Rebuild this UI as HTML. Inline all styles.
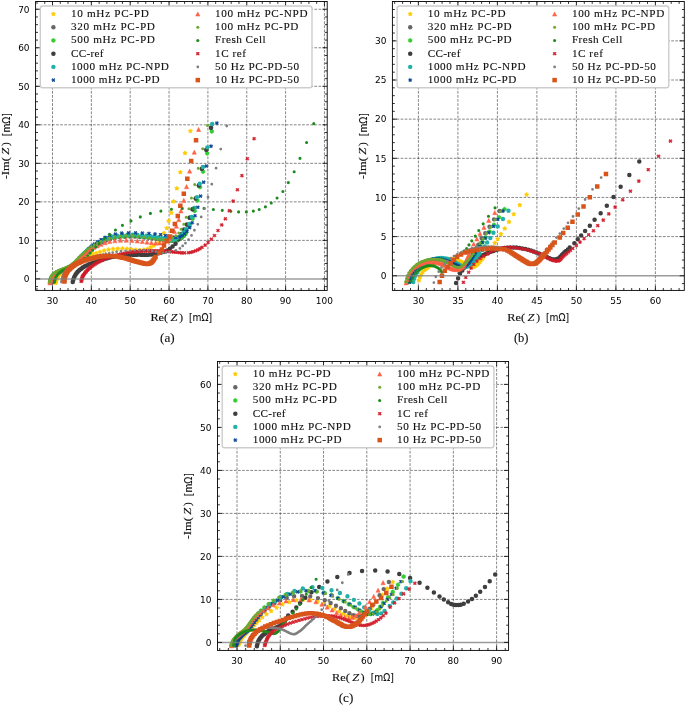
<!DOCTYPE html>
<html lang="en">
<head>
<meta charset="utf-8">
<title>Nyquist plots</title>
<style>
html,body{margin:0;padding:0;background:#fff;}
body{width:685px;height:705px;overflow:hidden;}
svg{display:block;}
text{white-space:pre;}
.ax{font-family:"Liberation Serif","DejaVu Serif",serif;font-size:11.4px;fill:#111;stroke:#111;stroke-width:0.15px;}
.sans{font-family:"DejaVu Sans","Liberation Sans",sans-serif;font-size:11.3px;stroke-width:0.12px;}
.cap{font-family:"Liberation Serif","DejaVu Serif",serif;font-size:11.6px;fill:#111;stroke:#111;stroke-width:0.12px;}
.lg{font-family:"Liberation Serif","DejaVu Serif",serif;font-size:9.5px;fill:#111;stroke:#111;stroke-width:0.1px;}
</style>
</head>
<body>
<svg width="685" height="705" viewBox="0 0 685 705">
<rect width="685" height="705" fill="#fff"/>
<g id="plot-a">
<path d="M52.5 290.4V1.5M91.35 290.4V1.5M130.2 290.4V1.5M169.05 290.4V1.5M207.9 290.4V1.5M246.75 290.4V1.5M285.6 290.4V1.5M324.45 290.4V1.5M35.6 240.38H327.2M35.6 201.86H327.2M35.6 163.34H327.2M35.6 124.82H327.2M35.6 86.3H327.2M35.6 47.78H327.2M35.6 9.26H327.2" fill="none" stroke="#000" stroke-opacity="0.6" stroke-width="0.8" stroke-dasharray="2.7 1.4"/>
<clipPath id="clip-a"><rect x="35.6" y="1.5" width="291.6" height="288.9"/></clipPath>
<g clip-path="url(#clip-a)">
<path d="M55.61 280.69L56.34 281.83L57.65 282.17L56.79 283.22L56.87 284.58L55.61 284.08L54.34 284.58L54.42 283.22L53.56 282.17L54.88 281.83zM55.79 280.01L56.52 281.15L57.83 281.5L56.98 282.55L57.05 283.9L55.79 283.41L54.53 283.9L54.6 282.55L53.74 281.5L55.06 281.15zM55.96 279.32L56.69 280.46L58 280.8L57.14 281.85L57.22 283.21L55.96 282.72L54.69 283.21L54.77 281.85L53.91 280.8L55.22 280.46zM56.12 278.61L56.85 279.75L58.16 280.1L57.3 281.15L57.38 282.5L56.12 282.01L54.85 282.5L54.93 281.15L54.07 280.1L55.39 279.75zM56.29 277.89L57.02 279.04L58.33 279.38L57.47 280.43L57.55 281.78L56.29 281.29L55.02 281.78L55.1 280.43L54.24 279.38L55.55 279.04zM56.48 277.17L57.21 278.31L58.52 278.65L57.66 279.7L57.74 281.06L56.48 280.56L55.21 281.06L55.29 279.7L54.43 278.65L55.74 278.31zM56.7 276.44L57.43 277.58L58.74 277.92L57.89 278.97L57.96 280.33L56.7 279.83L55.44 280.33L55.51 278.97L54.66 277.92L55.97 277.58zM56.97 275.71L57.71 276.85L59.02 277.19L58.16 278.24L58.24 279.6L56.97 279.11L55.71 279.6L55.79 278.24L54.93 277.19L56.24 276.85zM57.32 274.99L58.05 276.14L59.36 276.48L58.5 277.53L58.58 278.88L57.32 278.39L56.05 278.88L56.13 277.53L55.27 276.48L56.58 276.14zM57.72 274.29L58.45 275.43L59.76 275.77L58.9 276.82L58.98 278.18L57.72 277.68L56.45 278.18L56.53 276.82L55.67 275.77L56.98 275.43zM58.18 273.58L58.91 274.72L60.22 275.07L59.36 276.12L59.44 277.47L58.18 276.98L56.91 277.47L56.99 276.12L56.13 275.07L57.44 274.72zM58.69 272.87L59.43 274.01L60.74 274.36L59.88 275.41L59.96 276.76L58.69 276.27L57.43 276.76L57.51 275.41L56.65 274.36L57.96 274.01zM59.27 272.17L60 273.31L61.31 273.65L60.45 274.7L60.53 276.06L59.27 275.56L58 276.06L58.08 274.7L57.22 273.65L58.53 273.31zM59.89 271.46L60.62 272.6L61.94 272.95L61.08 274L61.15 275.35L59.89 274.86L58.63 275.35L58.7 274L57.85 272.95L59.16 272.6zM60.57 270.76L61.3 271.9L62.61 272.24L61.76 273.29L61.83 274.65L60.57 274.15L59.31 274.65L59.38 273.29L58.53 272.24L59.84 271.9zM61.33 270.07L62.06 271.21L63.37 271.55L62.52 272.6L62.59 273.96L61.33 273.46L60.07 273.96L60.14 272.6L59.29 271.55L60.6 271.21zM62.18 269.39L62.91 270.53L64.23 270.88L63.37 271.93L63.44 273.28L62.18 272.79L60.92 273.28L60.99 271.93L60.14 270.88L61.45 270.53zM63.11 268.71L63.84 269.85L65.16 270.2L64.3 271.25L64.38 272.6L63.11 272.11L61.85 272.6L61.93 271.25L61.07 270.2L62.38 269.85zM64.11 268.01L64.85 269.15L66.16 269.49L65.3 270.54L65.38 271.9L64.11 271.4L62.85 271.9L62.93 270.54L62.07 269.49L63.38 269.15zM65.19 267.28L65.92 268.42L67.23 268.77L66.37 269.82L66.45 271.17L65.19 270.68L63.92 271.17L64 269.82L63.14 268.77L64.46 268.42zM66.36 266.55L67.09 267.69L68.41 268.03L67.55 269.08L67.62 270.43L66.36 269.94L65.1 270.43L65.18 269.08L64.32 268.03L65.63 267.69zM67.63 265.78L68.36 266.92L69.67 267.27L68.81 268.32L68.89 269.67L67.63 269.18L66.36 269.67L66.44 268.32L65.58 267.27L66.9 266.92zM68.99 264.97L69.72 266.11L71.03 266.46L70.17 267.51L70.25 268.86L68.99 268.37L67.72 268.86L67.8 267.51L66.94 266.46L68.25 266.11zM70.43 264.09L71.16 265.23L72.47 265.58L71.61 266.63L71.69 267.98L70.43 267.49L69.16 267.98L69.24 266.63L68.38 265.58L69.69 265.23zM71.95 263.13L72.69 264.27L74 264.61L73.14 265.66L73.22 267.02L71.95 266.53L70.69 267.02L70.77 265.66L69.91 264.61L71.22 264.27zM73.58 262.1L74.32 263.24L75.63 263.58L74.77 264.63L74.85 265.99L73.58 265.49L72.32 265.99L72.4 264.63L71.54 263.58L72.85 263.24zM75.33 261L76.06 262.14L77.37 262.48L76.51 263.53L76.59 264.89L75.33 264.39L74.06 264.89L74.14 263.53L73.28 262.48L74.59 262.14zM77.2 259.84L77.93 260.98L79.25 261.32L78.39 262.37L78.46 263.73L77.2 263.23L75.94 263.73L76.01 262.37L75.16 261.32L76.47 260.98zM79.22 258.62L79.95 259.76L81.26 260.1L80.4 261.15L80.48 262.51L79.22 262.01L77.95 262.51L78.03 261.15L77.17 260.1L78.48 259.76zM81.38 257.32L82.12 258.46L83.43 258.8L82.57 259.85L82.65 261.21L81.38 260.72L80.12 261.21L80.2 259.85L79.34 258.8L80.65 258.46zM83.75 255.98L84.48 257.12L85.79 257.47L84.93 258.52L85.01 259.87L83.75 259.38L82.48 259.87L82.56 258.52L81.7 257.47L83.01 257.12zM86.35 254.68L87.09 255.82L88.4 256.16L87.54 257.21L87.62 258.57L86.35 258.08L85.09 258.57L85.17 257.21L84.31 256.16L85.62 255.82zM89.27 253.42L90 254.56L91.31 254.91L90.45 255.96L90.53 257.31L89.27 256.82L88 257.31L88.08 255.96L87.22 254.91L88.53 254.56zM92.53 252.23L93.27 253.37L94.58 253.72L93.72 254.77L93.8 256.12L92.53 255.63L91.27 256.12L91.35 254.77L90.49 253.72L91.8 253.37zM96.14 251.01L96.87 252.16L98.19 252.5L97.33 253.55L97.4 254.9L96.14 254.41L94.88 254.9L94.95 253.55L94.1 252.5L95.41 252.16zM100.02 249.74L100.75 250.88L102.07 251.22L101.21 252.27L101.29 253.63L100.02 253.13L98.76 253.63L98.84 252.27L97.98 251.22L99.29 250.88zM104.15 248.57L104.88 249.72L106.19 250.06L105.33 251.11L105.41 252.46L104.15 251.97L102.88 252.46L102.96 251.11L102.1 250.06L103.41 249.72zM108.51 247.54L109.25 248.68L110.56 249.02L109.7 250.07L109.78 251.42L108.51 250.93L107.25 251.42L107.33 250.07L106.47 249.02L107.78 248.68zM113.09 246.8L113.82 247.94L115.13 248.28L114.27 249.33L114.35 250.69L113.09 250.19L111.83 250.69L111.9 249.33L111.04 248.28L112.36 247.94zM117.78 246.47L118.51 247.61L119.82 247.95L118.96 249L119.04 250.36L117.78 249.87L116.51 250.36L116.59 249L115.73 247.95L117.04 247.61zM122.44 246.44L123.18 247.59L124.49 247.93L123.63 248.98L123.71 250.33L122.44 249.84L121.18 250.33L121.26 248.98L120.4 247.93L121.71 247.59zM127 246.73L127.74 247.87L129.05 248.21L128.19 249.26L128.27 250.62L127 250.13L125.74 250.62L125.82 249.26L124.96 248.21L126.27 247.87zM131.46 247.11L132.19 248.25L133.5 248.59L132.64 249.64L132.72 250.99L131.46 250.5L130.2 250.99L130.27 249.64L129.41 248.59L130.73 248.25zM135.77 247.65L136.51 248.79L137.82 249.13L136.96 250.18L137.04 251.54L135.77 251.04L134.51 251.54L134.59 250.18L133.73 249.13L135.04 248.79zM139.93 247.95L140.66 249.09L141.97 249.43L141.12 250.48L141.19 251.84L139.93 251.34L138.67 251.84L138.74 250.48L137.88 249.43L139.2 249.09zM143.92 247.7L144.65 248.84L145.96 249.19L145.1 250.23L145.18 251.59L143.92 251.1L142.65 251.59L142.73 250.23L141.87 249.19L143.19 248.84zM147.56 246.82L148.3 247.96L149.61 248.31L148.75 249.36L148.83 250.71L147.56 250.22L146.3 250.71L146.38 249.36L145.52 248.31L146.83 247.96zM150.78 245.2L151.51 246.34L152.82 246.69L151.96 247.74L152.04 249.09L150.78 248.6L149.51 249.09L149.59 247.74L148.73 246.69L150.04 246.34zM153.92 243.45L154.65 244.59L155.97 244.94L155.11 245.99L155.18 247.34L153.92 246.85L152.66 247.34L152.73 245.99L151.88 244.94L153.19 244.59zM157.03 241.33L157.76 242.47L159.08 242.81L158.22 243.86L158.3 245.22L157.03 244.73L155.77 245.22L155.85 243.86L154.99 242.81L156.3 242.47zM159.63 238.34L160.36 239.48L161.67 239.82L160.81 240.87L160.89 242.23L159.63 241.73L158.36 242.23L158.44 240.87L157.58 239.82L158.89 239.48zM164 231L164.73 232.14L166.04 232.48L165.19 233.53L165.26 234.89L164 234.39L162.74 234.89L162.81 233.53L161.95 232.48L163.27 232.14zM166.72 225.99L167.45 227.13L168.76 227.48L167.9 228.52L167.98 229.88L166.72 229.39L165.46 229.88L165.53 228.52L164.67 227.48L165.99 227.13zM168.66 218.82L169.39 219.97L170.71 220.31L169.85 221.36L169.93 222.71L168.66 222.22L167.4 222.71L167.48 221.36L166.62 220.31L167.93 219.97zM171.19 210.58L171.92 211.72L173.23 212.07L172.37 213.12L172.45 214.47L171.19 213.98L169.92 214.47L170 213.12L169.14 212.07L170.45 211.72zM173.6 199.22L174.33 200.36L175.64 200.7L174.78 201.75L174.86 203.11L173.6 202.62L172.33 203.11L172.41 201.75L171.55 200.7L172.86 200.36zM176.82 186.31L177.55 187.46L178.86 187.8L178.01 188.85L178.08 190.2L176.82 189.71L175.56 190.2L175.63 188.85L174.78 187.8L176.09 187.46zM180.32 170.14L181.05 171.28L182.36 171.62L181.5 172.67L181.58 174.02L180.32 173.53L179.05 174.02L179.13 172.67L178.27 171.62L179.58 171.28zM184.98 150.88L185.71 152.02L187.02 152.36L186.16 153.41L186.24 154.76L184.98 154.27L183.71 154.76L183.79 153.41L182.93 152.36L184.25 152.02zM190.42 128.92L191.15 130.06L192.46 130.4L191.6 131.45L191.68 132.81L190.42 132.32L189.15 132.81L189.23 131.45L188.37 130.4L189.68 130.06z" fill="#FFCB05" stroke="#FFCB05" stroke-width="0.8" stroke-linejoin="round"/>
<path d="M50.95 282.56h.01M51.09 281.87h.01M51.22 281.19h.01M51.35 280.5h.01M51.51 279.82h.01M51.71 279.15h.01M51.94 278.49h.01M52.21 277.82h.01M52.52 277.14h.01M52.9 276.48h.01M53.36 275.84h.01M53.9 275.23h.01M54.5 274.65h.01M55.16 274.09h.01M55.87 273.55h.01M56.64 273.04h.01M57.48 272.54h.01M58.37 272.05h.01M59.33 271.57h.01M60.36 271.13h.01M61.45 270.71h.01M62.59 270.27h.01M63.77 269.8h.01M65.02 269.32h.01M66.35 268.79h.01M67.74 268.17h.01M69.2 267.47h.01M70.73 266.63h.01M72.29 265.61h.01M73.88 264.38h.01M75.5 262.96h.01M77.18 261.36h.01M79.02 259.7h.01M80.97 257.95h.01M82.94 256.03h.01M84.96 253.99h.01M87.19 252.03h.01M89.61 250.04h.01M92.26 248.03h.01M95.2 246.09h.01M98.45 244.23h.01M102 242.42h.01M105.84 240.63h.01M110.09 239.08h.01M114.78 237.99h.01M119.74 237.24h.01M124.91 236.74h.01M130.01 236.53h.01M135.02 236.67h.01M139.8 237.05h.01M144.33 237.44h.01M148.62 237.83h.01M152.69 238.26h.01M156.54 238.78h.01M160.15 239.39h.01M163.54 239.93h.01M166.74 240.36h.01M169.7 240.68h.01M172.44 240.78h.01M174.99 240.7h.01M177.41 240.2h.01M179.59 239.16h.01M181.69 237.73h.01M183.69 235.92h.01M185.52 233.63h.01M188.09 225.36h.01M189.64 217.65h.01M192.55 209.18h.01M195.74 198.39h.01M198.81 185.45h.01M201.88 168.73h.01M206.35 149.86h.01M211.01 127.71h.01" fill="none" stroke="#6B6565" stroke-width="4.4" stroke-linecap="round"/>
<path d="M50.17 280.46L51.99 281.51L51.99 283.61L50.17 284.66L48.35 283.61L48.35 281.51zM50.31 279.77L52.13 280.82L52.13 282.92L50.31 283.97L48.49 282.92L48.49 280.82zM50.44 279.09L52.26 280.14L52.26 282.24L50.44 283.29L48.62 282.24L48.62 280.14zM50.58 278.4L52.39 279.45L52.39 281.55L50.58 282.6L48.76 281.55L48.76 279.45zM50.73 277.72L52.55 278.77L52.55 280.87L50.73 281.92L48.91 280.87L48.91 278.77zM50.93 277.05L52.75 278.1L52.75 280.2L50.93 281.25L49.11 280.2L49.11 278.1zM51.16 276.39L52.98 277.44L52.98 279.54L51.16 280.59L49.35 279.54L49.35 277.44zM51.43 275.72L53.25 276.77L53.25 278.87L51.43 279.92L49.62 278.87L49.62 276.77zM51.75 275.05L53.57 276.1L53.57 278.2L51.75 279.25L49.93 278.2L49.93 276.1zM52.13 274.38L53.95 275.43L53.95 277.53L52.13 278.58L50.31 277.53L50.31 275.43zM52.57 273.73L54.39 274.78L54.39 276.88L52.57 277.93L50.75 276.88L50.75 274.78zM53.08 273.1L54.9 274.15L54.9 276.25L53.08 277.3L51.26 276.25L51.26 274.15zM53.65 272.48L55.47 273.53L55.47 275.63L53.65 276.68L51.84 275.63L51.84 273.53zM54.28 271.9L56.1 272.95L56.1 275.05L54.28 276.1L52.47 275.05L52.47 272.95zM54.97 271.34L56.79 272.39L56.79 274.49L54.97 275.54L53.15 274.49L53.15 272.39zM55.73 270.82L57.55 271.87L57.55 273.97L55.73 275.02L53.91 273.97L53.91 271.87zM56.56 270.32L58.38 271.37L58.38 273.47L56.56 274.52L54.74 273.47L54.74 271.37zM57.45 269.83L59.27 270.88L59.27 272.98L57.45 274.03L55.63 272.98L55.63 270.88zM58.39 269.35L60.21 270.4L60.21 272.5L58.39 273.55L56.58 272.5L56.58 270.4zM59.41 268.91L61.23 269.96L61.23 272.06L59.41 273.11L57.59 272.06L57.59 269.96zM60.49 268.48L62.31 269.53L62.31 271.63L60.49 272.68L58.68 271.63L58.68 269.53zM61.63 268.05L63.45 269.1L63.45 271.2L61.63 272.25L59.81 271.2L59.81 269.1zM62.8 267.59L64.62 268.64L64.62 270.74L62.8 271.79L60.98 270.74L60.98 268.64zM64.04 267.11L65.86 268.16L65.86 270.26L64.04 271.31L62.22 270.26L62.22 268.16zM65.35 266.59L67.17 267.64L67.17 269.74L65.35 270.79L63.54 269.74L63.54 267.64zM66.74 265.99L68.55 267.04L68.55 269.14L66.74 270.19L64.92 269.14L64.92 267.04zM68.18 265.3L70 266.35L70 268.45L68.18 269.5L66.37 268.45L66.37 266.35zM69.7 264.49L71.52 265.54L71.52 267.64L69.7 268.69L67.88 267.64L67.88 265.54zM71.26 263.5L73.08 264.55L73.08 266.65L71.26 267.7L69.44 266.65L69.44 264.55zM72.84 262.3L74.66 263.35L74.66 265.45L72.84 266.5L71.02 265.45L71.02 263.35zM74.46 260.91L76.27 261.96L76.27 264.06L74.46 265.11L72.64 264.06L72.64 261.96zM76.11 259.33L77.93 260.38L77.93 262.48L76.11 263.53L74.3 262.48L74.3 260.38zM77.94 257.68L79.75 258.73L79.75 260.83L77.94 261.88L76.12 260.83L76.12 258.73zM79.87 255.96L81.69 257.01L81.69 259.11L79.87 260.16L78.06 259.11L78.06 257.01zM81.82 254.05L83.64 255.1L83.64 257.2L81.82 258.25L80.01 257.2L80.01 255.1zM83.76 251.96L85.58 253.01L85.58 255.11L83.76 256.16L81.94 255.11L81.94 253.01zM85.89 249.92L87.71 250.97L87.71 253.07L85.89 254.12L84.08 253.07L84.08 250.97zM88.2 247.86L90.02 248.91L90.02 251.01L88.2 252.06L86.38 251.01L86.38 248.91zM90.72 245.77L92.54 246.82L92.54 248.92L90.72 249.97L88.9 248.92L88.9 246.82zM93.54 243.75L95.36 244.8L95.36 246.9L93.54 247.95L91.72 246.9L91.72 244.8zM96.7 241.87L98.52 242.92L98.52 245.02L96.7 246.07L94.88 245.02L94.88 242.92zM100.17 240.07L101.99 241.12L101.99 243.22L100.17 244.27L98.35 243.22L98.35 241.12zM103.92 238.26L105.74 239.31L105.74 241.41L103.92 242.46L102.11 241.41L102.11 239.31zM108.05 236.61L109.87 237.66L109.87 239.76L108.05 240.81L106.23 239.76L106.23 237.66zM112.63 235.39L114.45 236.44L114.45 238.54L112.63 239.59L110.81 238.54L110.81 236.44zM117.52 234.57L119.34 235.62L119.34 237.72L117.52 238.77L115.7 237.72L115.7 235.62zM122.64 233.99L124.46 235.04L124.46 237.14L122.64 238.19L120.82 237.14L120.82 235.04zM127.76 233.69L129.58 234.74L129.58 236.84L127.76 237.89L125.94 236.84L125.94 234.74zM132.8 233.72L134.62 234.77L134.62 236.87L132.8 237.92L130.98 236.87L130.98 234.77zM137.66 234.06L139.48 235.11L139.48 237.21L137.66 238.26L135.84 237.21L135.84 235.11zM142.26 234.46L144.07 235.51L144.07 237.61L142.26 238.66L140.44 237.61L140.44 235.51zM146.62 234.84L148.44 235.89L148.44 237.99L146.62 239.04L144.8 237.99L144.8 235.89zM150.75 235.26L152.57 236.31L152.57 238.41L150.75 239.46L148.93 238.41L148.93 236.31zM154.67 235.74L156.48 236.79L156.48 238.89L154.67 239.94L152.85 238.89L152.85 236.79zM158.35 236.32L160.17 237.37L160.17 239.47L158.35 240.52L156.53 239.47L156.53 237.37zM161.8 236.9L163.62 237.95L163.62 240.05L161.8 241.1L159.98 240.05L159.98 237.95zM165.05 237.43L166.86 238.48L166.86 240.58L165.05 241.63L163.23 240.58L163.23 238.48zM168.06 237.96L169.88 239.01L169.88 241.11L168.06 242.16L166.24 241.11L166.24 239.01zM170.87 238.27L172.68 239.32L172.68 241.42L170.87 242.47L169.05 241.42L169.05 239.32zM173.47 238.31L175.29 239.36L175.29 241.46L173.47 242.51L171.66 241.46L171.66 239.36zM175.98 238.08L177.8 239.13L177.8 241.23L175.98 242.28L174.16 241.23L174.16 239.13zM178.29 237.36L180.11 238.41L180.11 240.51L178.29 241.56L176.47 240.51L176.47 238.41zM180.44 236.15L182.26 237.2L182.26 239.3L180.44 240.35L178.62 239.3L178.62 237.2zM182.49 234.58L184.31 235.63L184.31 237.73L182.49 238.78L180.68 237.73L180.68 235.63zM184.45 232.59L186.27 233.64L186.27 235.74L184.45 236.79L182.64 235.74L182.64 233.64zM186.21 230.09L188.03 231.14L188.03 233.24L186.21 234.29L184.4 233.24L184.4 231.14zM189.64 224.03L191.46 225.08L191.46 227.18L189.64 228.23L187.82 227.18L187.82 225.08zM192.55 216.71L194.37 217.76L194.37 219.86L192.55 220.91L190.74 219.86L190.74 217.76zM194.69 208.81L196.51 209.86L196.51 211.96L194.69 213.01L192.87 211.96L192.87 209.86zM197.41 198.41L199.23 199.46L199.23 201.56L197.41 202.61L195.59 201.56L195.59 199.46zM200.01 184.93L201.83 185.98L201.83 188.08L200.01 189.13L198.19 188.08L198.19 185.98zM203.04 169.52L204.86 170.57L204.86 172.67L203.04 173.72L201.23 172.67L201.23 170.57zM207.12 151.22L208.94 152.27L208.94 154.37L207.12 155.42L205.3 154.37L205.3 152.27zM211.78 129.27L213.6 130.32L213.6 132.42L211.78 133.47L209.97 132.42L209.97 130.32z" fill="#32CD32" stroke="#32CD32" stroke-width="0.5" stroke-linejoin="round"/>
<path d="M72.7 281.98h.01M72.88 281.31h.01M73.05 280.61h.01M73.23 279.9h.01M73.43 279.17h.01M73.68 278.44h.01M73.98 277.72h.01M74.32 276.98h.01M74.68 276.24h.01M75.08 275.48h.01M75.52 274.71h.01M75.99 273.94h.01M76.51 273.17h.01M77.1 272.4h.01M77.74 271.66h.01M78.46 270.94h.01M79.23 270.24h.01M80.05 269.56h.01M80.93 268.89h.01M81.85 268.24h.01M82.81 267.59h.01M83.81 266.96h.01M84.88 266.35h.01M86.01 265.76h.01M87.2 265.19h.01M88.46 264.62h.01M89.77 264.06h.01M91.13 263.49h.01M92.57 262.93h.01M94.06 262.39h.01M95.61 261.86h.01M97.23 261.32h.01M98.9 260.77h.01M100.62 260.21h.01M102.4 259.66h.01M104.22 259.12h.01M106.09 258.6h.01M108.01 258.08h.01M109.95 257.58h.01M111.9 257.12h.01M113.85 256.71h.01M115.82 256.35h.01M117.78 256.03h.01M119.7 255.75h.01M121.6 255.51h.01M123.47 255.29h.01M125.31 255.11h.01M127.12 254.96h.01M128.9 254.85h.01M130.65 254.77h.01M132.38 254.72h.01M134.07 254.69h.01M135.74 254.67h.01M137.38 254.64h.01M138.99 254.62h.01M140.58 254.64h.01M142.16 254.68h.01M143.72 254.71h.01M145.27 254.74h.01M146.81 254.75h.01M148.33 254.71h.01M149.84 254.61h.01M151.34 254.47h.01M152.84 254.28h.01M154.36 254.06h.01M155.88 253.8h.01M157.42 253.5h.01M158.97 253.18h.01M160.51 252.79h.01M162.13 252.29h.01M163.86 251.72h.01M167.11 250.59h.01M169.83 248.85h.01M172.55 246.54h.01M175.54 243.85h.01M178.37 239.22h.01M181.09 234.22h.01M184.05 229.59h.01M186.92 224.59h.01M189.64 217.65h.01M192.55 209.18h.01M195.74 198.39h.01M198.81 185.45h.01M201.88 168.73h.01M206.35 149.86h.01M211.01 127.71h.01" fill="none" stroke="#3E3E3E" stroke-width="4.5" stroke-linecap="round"/>
<path d="M50.56 282.56h.01M50.7 281.87h.01M50.83 281.19h.01M50.96 280.5h.01M51.12 279.82h.01M51.32 279.15h.01M51.55 278.49h.01M51.82 277.82h.01M52.14 277.15h.01M52.52 276.48h.01M52.96 275.83h.01M53.47 275.2h.01M54.04 274.58h.01M54.67 274h.01M55.36 273.44h.01M56.12 272.92h.01M56.95 272.42h.01M57.84 271.93h.01M58.78 271.45h.01M59.8 271.01h.01M60.88 270.58h.01M62.02 270.15h.01M63.19 269.69h.01M64.43 269.21h.01M65.74 268.69h.01M67.12 268.09h.01M68.57 267.4h.01M70.09 266.59h.01M71.65 265.6h.01M73.23 264.41h.01M74.82 262.99h.01M76.42 261.35h.01M78.16 259.63h.01M80.01 257.81h.01M81.88 255.82h.01M83.77 253.69h.01M85.89 251.63h.01M88.19 249.57h.01M90.72 247.49h.01M93.54 245.47h.01M96.71 243.61h.01M100.18 241.79h.01M103.87 239.87h.01M107.91 238.03h.01M112.42 236.6h.01M117.26 235.58h.01M122.37 234.92h.01M127.5 234.64h.01M132.54 234.65h.01M137.41 234.98h.01M142.02 235.39h.01M146.4 235.74h.01M150.54 236.15h.01M154.46 236.68h.01M158.13 237.4h.01M161.57 238.14h.01M164.82 238.74h.01M167.85 239.25h.01M170.67 239.59h.01M173.28 239.46h.01M176.04 238.84h.01M178.37 237.3h.01M181.09 235.37h.01M183.42 232.68h.01M186.14 229.21h.01M189.25 223.97h.01M191.78 216.88h.01M194.3 208.02h.01M196.87 197.24h.01M199.74 183.76h.01M202.85 167h.01M207.32 147.35h.01M212.17 124.05h.01" fill="none" stroke="#20B2AA" stroke-width="4.4" stroke-linecap="round"/>
<path d="M51.31 281.15L52.11 281.95L52.91 281.15L53.71 281.95L52.91 282.75L53.71 283.55L52.91 284.35L52.11 283.55L51.31 284.35L50.51 283.55L51.31 282.75L50.51 281.95zM51.45 280.47L52.25 281.27L53.05 280.47L53.85 281.27L53.05 282.07L53.85 282.87L53.05 283.67L52.25 282.87L51.45 283.67L50.65 282.87L51.45 282.07L50.65 281.27zM51.58 279.78L52.38 280.58L53.18 279.78L53.98 280.58L53.18 281.38L53.98 282.18L53.18 282.98L52.38 282.18L51.58 282.98L50.78 282.18L51.58 281.38L50.78 280.58zM51.72 279.09L52.52 279.89L53.32 279.09L54.12 279.89L53.32 280.69L54.12 281.49L53.32 282.29L52.52 281.49L51.72 282.29L50.92 281.49L51.72 280.69L50.92 279.89zM51.87 278.41L52.67 279.21L53.47 278.41L54.27 279.21L53.47 280.01L54.27 280.81L53.47 281.61L52.67 280.81L51.87 281.61L51.07 280.81L51.87 280.01L51.07 279.21zM52.07 277.74L52.87 278.54L53.67 277.74L54.47 278.54L53.67 279.34L54.47 280.14L53.67 280.94L52.87 280.14L52.07 280.94L51.27 280.14L52.07 279.34L51.27 278.54zM52.31 277.08L53.11 277.88L53.91 277.08L54.71 277.88L53.91 278.68L54.71 279.48L53.91 280.28L53.11 279.48L52.31 280.28L51.51 279.48L52.31 278.68L51.51 277.88zM52.58 276.41L53.38 277.21L54.18 276.41L54.98 277.21L54.18 278.01L54.98 278.81L54.18 279.61L53.38 278.81L52.58 279.61L51.78 278.81L52.58 278.01L51.78 277.21zM52.89 275.74L53.69 276.54L54.49 275.74L55.29 276.54L54.49 277.34L55.29 278.14L54.49 278.94L53.69 278.14L52.89 278.94L52.09 278.14L52.89 277.34L52.09 276.54zM53.27 275.07L54.07 275.87L54.87 275.07L55.67 275.87L54.87 276.67L55.67 277.47L54.87 278.27L54.07 277.47L53.27 278.27L52.47 277.47L53.27 276.67L52.47 275.87zM53.71 274.42L54.51 275.22L55.31 274.42L56.11 275.22L55.31 276.02L56.11 276.82L55.31 277.62L54.51 276.82L53.71 277.62L52.91 276.82L53.71 276.02L52.91 275.22zM54.23 273.79L55.03 274.59L55.83 273.79L56.63 274.59L55.83 275.39L56.63 276.19L55.83 276.99L55.03 276.19L54.23 276.99L53.43 276.19L54.23 275.39L53.43 274.59zM54.8 273.18L55.6 273.98L56.4 273.18L57.2 273.98L56.4 274.78L57.2 275.58L56.4 276.38L55.6 275.58L54.8 276.38L54 275.58L54.8 274.78L54 273.98zM55.43 272.59L56.23 273.39L57.03 272.59L57.83 273.39L57.03 274.19L57.83 274.99L57.03 275.79L56.23 274.99L55.43 275.79L54.63 274.99L55.43 274.19L54.63 273.39zM56.12 272.03L56.92 272.83L57.72 272.03L58.52 272.83L57.72 273.63L58.52 274.43L57.72 275.23L56.92 274.43L56.12 275.23L55.32 274.43L56.12 273.63L55.32 272.83zM56.87 271.51L57.67 272.31L58.47 271.51L59.27 272.31L58.47 273.11L59.27 273.91L58.47 274.71L57.67 273.91L56.87 274.71L56.07 273.91L56.87 273.11L56.07 272.31zM57.7 271.01L58.5 271.81L59.3 271.01L60.1 271.81L59.3 272.61L60.1 273.41L59.3 274.21L58.5 273.41L57.7 274.21L56.9 273.41L57.7 272.61L56.9 271.81zM58.59 270.53L59.39 271.33L60.19 270.53L60.99 271.33L60.19 272.13L60.99 272.93L60.19 273.73L59.39 272.93L58.59 273.73L57.79 272.93L58.59 272.13L57.79 271.33zM59.54 270.04L60.34 270.84L61.14 270.04L61.94 270.84L61.14 271.64L61.94 272.44L61.14 273.24L60.34 272.44L59.54 273.24L58.74 272.44L59.54 271.64L58.74 270.84zM60.55 269.59L61.35 270.39L62.15 269.59L62.95 270.39L62.15 271.19L62.95 271.99L62.15 272.79L61.35 271.99L60.55 272.79L59.75 271.99L60.55 271.19L59.75 270.39zM61.63 269.15L62.43 269.95L63.23 269.15L64.03 269.95L63.23 270.75L64.03 271.55L63.23 272.35L62.43 271.55L61.63 272.35L60.83 271.55L61.63 270.75L60.83 269.95zM62.76 268.69L63.56 269.49L64.36 268.69L65.16 269.49L64.36 270.29L65.16 271.09L64.36 271.89L63.56 271.09L62.76 271.89L61.96 271.09L62.76 270.29L61.96 269.49zM63.93 268.19L64.73 268.99L65.53 268.19L66.33 268.99L65.53 269.79L66.33 270.59L65.53 271.39L64.73 270.59L63.93 271.39L63.13 270.59L63.93 269.79L63.13 268.99zM65.16 267.66L65.96 268.46L66.76 267.66L67.56 268.46L66.76 269.26L67.56 270.06L66.76 270.86L65.96 270.06L65.16 270.86L64.36 270.06L65.16 269.26L64.36 268.46zM66.47 267.07L67.27 267.87L68.07 267.07L68.87 267.87L68.07 268.67L68.87 269.47L68.07 270.27L67.27 269.47L66.47 270.27L65.67 269.47L66.47 268.67L65.67 267.87zM67.86 266.4L68.66 267.2L69.46 266.4L70.26 267.2L69.46 268L70.26 268.8L69.46 269.6L68.66 268.8L67.86 269.6L67.06 268.8L67.86 268L67.06 267.2zM69.32 265.65L70.12 266.45L70.92 265.65L71.72 266.45L70.92 267.25L71.72 268.05L70.92 268.85L70.12 268.05L69.32 268.85L68.52 268.05L69.32 267.25L68.52 266.45zM70.84 264.77L71.64 265.57L72.44 264.77L73.24 265.57L72.44 266.37L73.24 267.17L72.44 267.97L71.64 267.17L70.84 267.97L70.04 267.17L70.84 266.37L70.04 265.57zM72.37 263.68L73.17 264.48L73.97 263.68L74.77 264.48L73.97 265.28L74.77 266.08L73.97 266.88L73.17 266.08L72.37 266.88L71.57 266.08L72.37 265.28L71.57 264.48zM73.91 262.38L74.71 263.18L75.51 262.38L76.31 263.18L75.51 263.98L76.31 264.78L75.51 265.58L74.71 264.78L73.91 265.58L73.11 264.78L73.91 263.98L73.11 263.18zM75.45 260.85L76.25 261.65L77.05 260.85L77.85 261.65L77.05 262.45L77.85 263.25L77.05 264.05L76.25 263.25L75.45 264.05L74.65 263.25L75.45 262.45L74.65 261.65zM77.02 259.13L77.82 259.93L78.62 259.13L79.42 259.93L78.62 260.73L79.42 261.53L78.62 262.33L77.82 261.53L77.02 262.33L76.22 261.53L77.02 260.73L76.22 259.93zM78.72 257.29L79.52 258.09L80.32 257.29L81.12 258.09L80.32 258.89L81.12 259.69L80.32 260.49L79.52 259.69L78.72 260.49L77.92 259.69L78.72 258.89L77.92 258.09zM80.5 255.35L81.3 256.15L82.1 255.35L82.9 256.15L82.1 256.95L82.9 257.75L82.1 258.55L81.3 257.75L80.5 258.55L79.7 257.75L80.5 256.95L79.7 256.15zM82.27 253.21L83.07 254.01L83.87 253.21L84.67 254.01L83.87 254.81L84.67 255.61L83.87 256.41L83.07 255.61L82.27 256.41L81.47 255.61L82.27 254.81L81.47 254.01zM84.1 251L84.9 251.8L85.7 251L86.5 251.8L85.7 252.6L86.5 253.4L85.7 254.2L84.9 253.4L84.1 254.2L83.3 253.4L84.1 252.6L83.3 251.8zM86.19 248.89L86.99 249.69L87.79 248.89L88.59 249.69L87.79 250.49L88.59 251.29L87.79 252.09L86.99 251.29L86.19 252.09L85.39 251.29L86.19 250.49L85.39 249.69zM88.48 246.77L89.28 247.57L90.08 246.77L90.88 247.57L90.08 248.37L90.88 249.17L90.08 249.97L89.28 249.17L88.48 249.97L87.68 249.17L88.48 248.37L87.68 247.57zM90.98 244.62L91.78 245.42L92.58 244.62L93.38 245.42L92.58 246.22L93.38 247.02L92.58 247.82L91.78 247.02L90.98 247.82L90.18 247.02L90.98 246.22L90.18 245.42zM93.71 242.46L94.51 243.26L95.31 242.46L96.11 243.26L95.31 244.06L96.11 244.86L95.31 245.66L94.51 244.86L93.71 245.66L92.91 244.86L93.71 244.06L92.91 243.26zM96.76 240.25L97.56 241.05L98.36 240.25L99.16 241.05L98.36 241.85L99.16 242.65L98.36 243.45L97.56 242.65L96.76 243.45L95.96 242.65L96.76 241.85L95.96 241.05zM100.27 238.01L101.07 238.81L101.87 238.01L102.67 238.81L101.87 239.61L102.67 240.41L101.87 241.21L101.07 240.41L100.27 241.21L99.47 240.41L100.27 239.61L99.47 238.81zM104.29 235.78L105.09 236.58L105.89 235.78L106.69 236.58L105.89 237.38L106.69 238.18L105.89 238.98L105.09 238.18L104.29 238.98L103.49 238.18L104.29 237.38L103.49 236.58zM109.02 233.82L109.82 234.62L110.62 233.82L111.42 234.62L110.62 235.42L111.42 236.22L110.62 237.02L109.82 236.22L109.02 237.02L108.22 236.22L109.02 235.42L108.22 234.62zM114.56 232.38L115.36 233.18L116.16 232.38L116.96 233.18L116.16 233.98L116.96 234.78L116.16 235.58L115.36 234.78L114.56 235.58L113.76 234.78L114.56 233.98L113.76 233.18zM120.91 231.52L121.71 232.32L122.51 231.52L123.31 232.32L122.51 233.12L123.31 233.92L122.51 234.72L121.71 233.92L120.91 234.72L120.11 233.92L120.91 233.12L120.11 232.32zM127.76 231.29L128.56 232.09L129.36 231.29L130.16 232.09L129.36 232.89L130.16 233.69L129.36 234.49L128.56 233.69L127.76 234.49L126.96 233.69L127.76 232.89L126.96 232.09zM134.74 231.27L135.54 232.07L136.34 231.27L137.14 232.07L136.34 232.87L137.14 233.67L136.34 234.47L135.54 233.67L134.74 234.47L133.94 233.67L134.74 232.87L133.94 232.07zM141.55 231.48L142.35 232.28L143.15 231.48L143.95 232.28L143.15 233.08L143.95 233.88L143.15 234.68L142.35 233.88L141.55 234.68L140.75 233.88L141.55 233.08L140.75 232.28zM148.1 231.85L148.9 232.65L149.7 231.85L150.5 232.65L149.7 233.45L150.5 234.25L149.7 235.05L148.9 234.25L148.1 235.05L147.3 234.25L148.1 233.45L147.3 232.65zM154.2 232.38L155 233.18L155.8 232.38L156.6 233.18L155.8 233.98L156.6 234.78L155.8 235.58L155 234.78L154.2 235.58L153.4 234.78L154.2 233.98L153.4 233.18zM159.77 233.02L160.57 233.82L161.37 233.02L162.17 233.82L161.37 234.62L162.17 235.42L161.37 236.22L160.57 235.42L159.77 236.22L158.97 235.42L159.77 234.62L158.97 233.82zM164.57 233.95L165.37 234.75L166.17 233.95L166.97 234.75L166.17 235.55L166.97 236.35L166.17 237.15L165.37 236.35L164.57 237.15L163.77 236.35L164.57 235.55L163.77 234.75zM168.61 234.99L169.41 235.79L170.21 234.99L171.01 235.79L170.21 236.59L171.01 237.39L170.21 238.19L169.41 237.39L168.61 238.19L167.81 237.39L168.61 236.59L167.81 235.79zM172.03 235.56L172.83 236.36L173.63 235.56L174.43 236.36L173.63 237.16L174.43 237.96L173.63 238.76L172.83 237.96L172.03 238.76L171.23 237.96L172.03 237.16L171.23 236.36zM175.03 235.8L175.83 236.6L176.63 235.8L177.43 236.6L176.63 237.4L177.43 238.2L176.63 239L175.83 238.2L175.03 239L174.23 238.2L175.03 237.4L174.23 236.6zM179.13 235.31L179.93 236.11L180.73 235.31L181.53 236.11L180.73 236.91L181.53 237.71L180.73 238.51L179.93 237.71L179.13 238.51L178.33 237.71L179.13 236.91L178.33 236.11zM181.46 234.16L182.26 234.96L183.06 234.16L183.86 234.96L183.06 235.76L183.86 236.56L183.06 237.36L182.26 236.56L181.46 237.36L180.66 236.56L181.46 235.76L180.66 234.96zM183.79 232.23L184.59 233.03L185.39 232.23L186.19 233.03L185.39 233.83L186.19 234.63L185.39 235.43L184.59 234.63L183.79 235.43L182.99 234.63L183.79 233.83L182.99 233.03zM186.12 229.73L186.92 230.53L187.72 229.73L188.52 230.53L187.72 231.33L188.52 232.13L187.72 232.93L186.92 232.13L186.12 232.93L185.32 232.13L186.12 231.33L185.32 230.53zM188.69 226.07L189.49 226.87L190.29 226.07L191.09 226.87L190.29 227.67L191.09 228.47L190.29 229.27L189.49 228.47L188.69 229.27L187.89 228.47L188.69 227.67L187.89 226.87zM191.4 221.21L192.2 222.01L193 221.21L193.8 222.01L193 222.81L193.8 223.61L193 224.41L192.2 223.61L191.4 224.41L190.6 223.61L191.4 222.81L190.6 222.01zM194.28 214.13L195.08 214.93L195.88 214.13L196.68 214.93L195.88 215.73L196.68 216.53L195.88 217.33L195.08 216.53L194.28 217.33L193.48 216.53L194.28 215.73L193.48 214.93zM197 205.65L197.8 206.45L198.6 205.65L199.4 206.45L198.6 207.25L199.4 208.05L198.6 208.85L197.8 208.05L197 208.85L196.2 208.05L197 207.25L196.2 206.45zM199.72 194.48L200.52 195.28L201.32 194.48L202.12 195.28L201.32 196.08L202.12 196.88L201.32 197.68L200.52 196.88L199.72 197.68L198.92 196.88L199.72 196.08L198.92 195.28zM202.83 180.61L203.63 181.41L204.43 180.61L205.23 181.41L204.43 182.21L205.23 183.01L204.43 183.81L203.63 183.01L202.83 183.81L202.03 183.01L202.83 182.21L202.03 181.41zM205.55 164.44L206.35 165.24L207.15 164.44L207.95 165.24L207.15 166.04L207.95 166.84L207.15 167.64L206.35 166.84L205.55 167.64L204.75 166.84L205.55 166.04L204.75 165.24zM210.21 144.6L211.01 145.4L211.81 144.6L212.61 145.4L211.81 146.2L212.61 147L211.81 147.8L211.01 147L210.21 147.8L209.41 147L210.21 146.2L209.41 145.4zM216.04 121.49L216.84 122.29L217.64 121.49L218.44 122.29L217.64 123.09L218.44 123.89L217.64 124.69L216.84 123.89L216.04 124.69L215.24 123.89L216.04 123.09L215.24 122.29z" fill="#0B4596" stroke="#0B4596" stroke-width="0.6" stroke-linejoin="round"/>
<path d="M49.97 280.65L52.07 284.85L47.87 284.85zM50.12 279.97L52.22 284.17L48.02 284.17zM50.25 279.28L52.35 283.48L48.15 283.48zM50.38 278.59L52.48 282.79L48.28 282.79zM50.54 277.91L52.64 282.11L48.44 282.11zM50.73 277.24L52.83 281.44L48.63 281.44zM50.97 276.58L53.07 280.78L48.87 280.78zM51.24 275.91L53.34 280.11L49.14 280.11zM51.56 275.24L53.66 279.44L49.46 279.44zM51.93 274.57L54.03 278.77L49.83 278.77zM52.38 273.92L54.48 278.12L50.28 278.12zM52.89 273.29L54.99 277.49L50.79 277.49zM53.46 272.68L55.56 276.88L51.36 276.88zM54.09 272.09L56.19 276.29L51.99 276.29zM54.78 271.53L56.88 275.73L52.68 275.73zM55.54 271.01L57.64 275.21L53.44 275.21zM56.36 270.51L58.46 274.71L54.26 274.71zM57.25 270.02L59.35 274.22L55.15 274.22zM58.2 269.55L60.3 273.75L56.1 273.75zM59.22 269.1L61.32 273.3L57.12 273.3zM60.3 268.67L62.4 272.87L58.2 272.87zM61.43 268.25L63.53 272.45L59.33 272.45zM62.61 267.78L64.71 271.98L60.51 271.98zM63.84 267.3L65.94 271.5L61.74 271.5zM65.16 266.77L67.26 270.97L63.06 270.97zM66.54 266.18L68.64 270.38L64.44 270.38zM68 265.52L70.1 269.72L65.9 269.72zM69.54 264.76L71.64 268.96L67.44 268.96zM71.11 263.81L73.21 268.01L69.01 268.01zM72.68 262.63L74.78 266.83L70.58 266.83zM74.29 261.25L76.39 265.45L72.19 265.45zM75.92 259.67L78.02 263.87L73.82 263.87zM77.71 258.06L79.81 262.26L75.61 262.26zM79.66 256.43L81.76 260.63L77.56 260.63zM81.71 254.73L83.81 258.93L79.61 258.93zM83.8 252.89L85.9 257.09L81.7 257.09zM85.99 250.99L88.09 255.19L83.89 255.19zM88.37 249.1L90.47 253.3L86.27 253.3zM90.89 247.1L92.99 251.3L88.79 251.3zM93.81 245.29L95.91 249.49L91.71 249.49zM97.2 243.73L99.3 247.93L95.1 247.93zM100.94 242.17L103.04 246.37L98.84 246.37zM105.05 240.59L107.15 244.79L102.95 244.79zM109.68 239.26L111.78 243.46L107.58 243.46zM114.9 238.64L117 242.84L112.8 242.84zM120.47 238.07L122.57 242.27L118.37 242.27zM126.26 238.03L128.36 242.23L124.16 242.23zM131.87 238.24L133.97 242.44L129.77 242.44zM137.27 238.78L139.37 242.98L135.17 242.98zM142.28 239.38L144.38 243.58L140.18 243.58zM146.98 239.94L149.08 244.14L144.88 244.14zM151.4 240.44L153.5 244.64L149.3 244.64zM155.61 240.82L157.71 245.02L153.51 245.02zM159.65 240.81L161.75 245.01L157.55 245.01zM163.33 240.13L165.43 244.33L161.23 244.33zM166.64 238.92L168.74 243.12L164.54 243.12zM169.38 236.9L171.48 241.1L167.28 241.1zM171.75 234.17L173.85 238.37L169.65 238.37zM174.49 229.42L176.59 233.62L172.39 233.62zM176.43 224.03L178.53 228.23L174.33 228.23zM178.76 217.48L180.86 221.68L176.66 221.68zM180.98 208.81L183.08 213.01L178.88 213.01zM183.81 198.22L185.91 202.42L181.71 202.42zM186.53 184.51L188.63 188.71L184.43 188.71zM189.64 168.94L191.74 173.14L187.54 173.14zM194.3 150.07L196.4 154.27L192.2 154.27zM198.58 127.34L200.68 131.54L196.48 131.54z" fill="#FF6347" stroke="#FF6347" stroke-width="0.5" stroke-linejoin="round"/>
<path d="M49.2 282.17h.01M49.35 281.49h.01M49.49 280.8h.01M49.63 280.12h.01M49.81 279.44h.01M50.02 278.77h.01M50.26 278.12h.01M50.55 277.45h.01M50.88 276.77h.01M51.27 276.11h.01M51.73 275.46h.01M52.26 274.84h.01M52.85 274.23h.01M53.49 273.65h.01M54.2 273.1h.01M54.98 272.59h.01M55.82 272.09h.01M56.73 271.61h.01M57.69 271.14h.01M58.73 270.7h.01M59.82 270.28h.01M60.97 269.84h.01M62.16 269.37h.01M63.41 268.87h.01M64.75 268.34h.01M66.15 267.72h.01M67.64 267.04h.01M69.19 266.24h.01M70.75 265.22h.01M72.31 264.01h.01M73.89 262.67h.01M75.45 261.15h.01M76.93 259.38h.01M78.47 257.53h.01M80.18 255.67h.01M82.14 253.88h.01M84.27 252.12h.01M86.53 250.33h.01M88.86 248.46h.01M91.4 246.53h.01M94.28 244.7h.01M97.49 242.95h.01M101 241.18h.01M104.84 239.4h.01M109.4 238.11h.01M114.42 237.04h.01M119.88 236.06h.01M125.85 235.29h.01M132.04 235.27h.01M138.1 235.92h.01M143.9 236.93h.01M149.4 238.04h.01M154.59 238.71h.01M159.4 239.1h.01M163.82 239.21h.01M167.74 238.9h.01M172.55 238.07h.01M175.85 235.76h.01M178.76 233.06h.01M181.09 229.21h.01M183.81 224.2h.01M186.14 217.27h.01M188.86 208.79h.01M191.43 198.01h.01M194.69 184.53h.01M198.19 168.15h.01M202.66 148.7h.01M207.51 125.59h.01" fill="none" stroke="#6FA82E" stroke-width="3" stroke-linecap="round"/>
<path d="M54.44 282.17h.01M54.64 281.5h.01M54.82 280.81h.01M54.99 280.11h.01M55.18 279.39h.01M55.39 278.67h.01M55.63 277.94h.01M55.94 277.22h.01M56.3 276.51h.01M56.71 275.8h.01M57.18 275.11h.01M57.7 274.44h.01M58.28 273.79h.01M58.92 273.17h.01M59.62 272.58h.01M60.39 272.02h.01M61.21 271.47h.01M62.09 270.94h.01M63.01 270.41h.01M64 269.93h.01M65.07 269.49h.01M66.22 269.05h.01M67.42 268.58h.01M68.66 268.02h.01M69.97 267.41h.01M71.34 266.75h.01M72.79 266.04h.01M74.3 265.27h.01M75.89 264.41h.01M77.54 263.46h.01M79.28 262.4h.01M81.11 261.23h.01M83.01 259.89h.01M84.98 258.33h.01M87.85 255.87h.01M90.03 253.09h.01M92.67 250.2h.01M95.74 247.12h.01M99.24 243.62h.01M104.17 238.65h.01M109.45 234.41h.01M115.44 229.98h.01M122.43 225.36h.01M130.98 220.89h.01M140.3 216.88h.01M150.4 213.42h.01M160.89 211.1h.01M171.38 209.18h.01M182.26 208.41h.01M193.14 208.22h.01M204.01 208.41h.01M213.34 209.56h.01M222.27 210.33h.01M230.82 211.3h.01M238.59 211.88h.01M246.36 211.88h.01M253.35 211.1h.01M259.18 209.56h.01M265.4 206.87h.01M271.23 203.02h.01M277.05 198.01h.01M282.88 191.46h.01M288.32 182.6h.01M294.15 171.81h.01M299.97 158.33h.01M306.58 142.54h.01M313.77 123.66h.01" fill="none" stroke="#1E8A1E" stroke-width="3.1" stroke-linecap="round"/>
<path d="M80.45 279.88L81.25 280.68L82.05 279.88L82.85 280.68L82.05 281.48L82.85 282.28L82.05 283.08L81.25 282.28L80.45 283.08L79.65 282.28L80.45 281.48L79.65 280.68zM80.63 279.1L81.43 279.9L82.23 279.1L83.03 279.9L82.23 280.7L83.03 281.5L82.23 282.3L81.43 281.5L80.63 282.3L79.83 281.5L80.63 280.7L79.83 279.9zM80.8 278.3L81.6 279.1L82.4 278.3L83.2 279.1L82.4 279.9L83.2 280.7L82.4 281.5L81.6 280.7L80.8 281.5L80 280.7L80.8 279.9L80 279.1zM80.97 277.49L81.77 278.29L82.57 277.49L83.37 278.29L82.57 279.09L83.37 279.89L82.57 280.69L81.77 279.89L80.97 280.69L80.17 279.89L80.97 279.09L80.17 278.29zM81.18 276.66L81.98 277.46L82.78 276.66L83.58 277.46L82.78 278.26L83.58 279.06L82.78 279.86L81.98 279.06L81.18 279.86L80.38 279.06L81.18 278.26L80.38 277.46zM81.44 275.83L82.24 276.63L83.04 275.83L83.84 276.63L83.04 277.43L83.84 278.23L83.04 279.03L82.24 278.23L81.44 279.03L80.64 278.23L81.44 277.43L80.64 276.63zM81.78 275.01L82.58 275.81L83.38 275.01L84.18 275.81L83.38 276.61L84.18 277.41L83.38 278.21L82.58 277.41L81.78 278.21L80.98 277.41L81.78 276.61L80.98 275.81zM82.22 274.2L83.02 275L83.82 274.2L84.62 275L83.82 275.8L84.62 276.6L83.82 277.4L83.02 276.6L82.22 277.4L81.42 276.6L82.22 275.8L81.42 275zM82.73 273.39L83.53 274.19L84.33 273.39L85.13 274.19L84.33 274.99L85.13 275.79L84.33 276.59L83.53 275.79L82.73 276.59L81.93 275.79L82.73 274.99L81.93 274.19zM83.31 272.57L84.11 273.37L84.91 272.57L85.71 273.37L84.91 274.17L85.71 274.97L84.91 275.77L84.11 274.97L83.31 275.77L82.51 274.97L83.31 274.17L82.51 273.37zM83.94 271.72L84.74 272.52L85.54 271.72L86.34 272.52L85.54 273.32L86.34 274.12L85.54 274.92L84.74 274.12L83.94 274.92L83.14 274.12L83.94 273.32L83.14 272.52zM84.61 270.85L85.41 271.65L86.21 270.85L87.01 271.65L86.21 272.45L87.01 273.25L86.21 274.05L85.41 273.25L84.61 274.05L83.81 273.25L84.61 272.45L83.81 271.65zM85.32 269.97L86.12 270.77L86.92 269.97L87.72 270.77L86.92 271.57L87.72 272.37L86.92 273.17L86.12 272.37L85.32 273.17L84.52 272.37L85.32 271.57L84.52 270.77zM86.09 269.08L86.89 269.88L87.69 269.08L88.49 269.88L87.69 270.68L88.49 271.48L87.69 272.28L86.89 271.48L86.09 272.28L85.29 271.48L86.09 270.68L85.29 269.88zM86.92 268.19L87.72 268.99L88.52 268.19L89.32 268.99L88.52 269.79L89.32 270.59L88.52 271.39L87.72 270.59L86.92 271.39L86.12 270.59L86.92 269.79L86.12 268.99zM87.81 267.3L88.61 268.1L89.41 267.3L90.21 268.1L89.41 268.9L90.21 269.7L89.41 270.5L88.61 269.7L87.81 270.5L87.01 269.7L87.81 268.9L87.01 268.1zM88.78 266.44L89.58 267.24L90.38 266.44L91.18 267.24L90.38 268.04L91.18 268.84L90.38 269.64L89.58 268.84L88.78 269.64L87.98 268.84L88.78 268.04L87.98 267.24zM89.83 265.6L90.63 266.4L91.43 265.6L92.23 266.4L91.43 267.2L92.23 268L91.43 268.8L90.63 268L89.83 268.8L89.03 268L89.83 267.2L89.03 266.4zM90.93 264.78L91.73 265.58L92.53 264.78L93.33 265.58L92.53 266.38L93.33 267.18L92.53 267.98L91.73 267.18L90.93 267.98L90.13 267.18L90.93 266.38L90.13 265.58zM92.1 263.96L92.9 264.76L93.7 263.96L94.5 264.76L93.7 265.56L94.5 266.36L93.7 267.16L92.9 266.36L92.1 267.16L91.3 266.36L92.1 265.56L91.3 264.76zM93.32 263.14L94.12 263.94L94.92 263.14L95.72 263.94L94.92 264.74L95.72 265.54L94.92 266.34L94.12 265.54L93.32 266.34L92.52 265.54L93.32 264.74L92.52 263.94zM94.6 262.32L95.4 263.12L96.2 262.32L97 263.12L96.2 263.92L97 264.72L96.2 265.52L95.4 264.72L94.6 265.52L93.8 264.72L94.6 263.92L93.8 263.12zM95.95 261.5L96.75 262.3L97.55 261.5L98.35 262.3L97.55 263.1L98.35 263.9L97.55 264.7L96.75 263.9L95.95 264.7L95.15 263.9L95.95 263.1L95.15 262.3zM97.36 260.68L98.16 261.48L98.96 260.68L99.76 261.48L98.96 262.28L99.76 263.08L98.96 263.88L98.16 263.08L97.36 263.88L96.56 263.08L97.36 262.28L96.56 261.48zM98.85 259.87L99.65 260.67L100.45 259.87L101.25 260.67L100.45 261.47L101.25 262.27L100.45 263.07L99.65 262.27L98.85 263.07L98.05 262.27L98.85 261.47L98.05 260.67zM100.42 259.08L101.22 259.88L102.02 259.08L102.82 259.88L102.02 260.68L102.82 261.48L102.02 262.28L101.22 261.48L100.42 262.28L99.62 261.48L100.42 260.68L99.62 259.88zM102.08 258.34L102.88 259.14L103.68 258.34L104.48 259.14L103.68 259.94L104.48 260.74L103.68 261.54L102.88 260.74L102.08 261.54L101.28 260.74L102.08 259.94L101.28 259.14zM103.81 257.64L104.61 258.44L105.41 257.64L106.21 258.44L105.41 259.24L106.21 260.04L105.41 260.84L104.61 260.04L103.81 260.84L103.01 260.04L103.81 259.24L103.01 258.44zM105.6 256.96L106.4 257.76L107.2 256.96L108 257.76L107.2 258.56L108 259.36L107.2 260.16L106.4 259.36L105.6 260.16L104.8 259.36L105.6 258.56L104.8 257.76zM107.44 256.29L108.24 257.09L109.04 256.29L109.84 257.09L109.04 257.89L109.84 258.69L109.04 259.49L108.24 258.69L107.44 259.49L106.64 258.69L107.44 257.89L106.64 257.09zM109.34 255.62L110.14 256.42L110.94 255.62L111.74 256.42L110.94 257.22L111.74 258.02L110.94 258.82L110.14 258.02L109.34 258.82L108.54 258.02L109.34 257.22L108.54 256.42zM111.28 254.96L112.08 255.76L112.88 254.96L113.68 255.76L112.88 256.56L113.68 257.36L112.88 258.16L112.08 257.36L111.28 258.16L110.48 257.36L111.28 256.56L110.48 255.76zM113.26 254.32L114.06 255.12L114.86 254.32L115.66 255.12L114.86 255.92L115.66 256.72L114.86 257.52L114.06 256.72L113.26 257.52L112.46 256.72L113.26 255.92L112.46 255.12zM115.28 253.71L116.08 254.51L116.88 253.71L117.68 254.51L116.88 255.31L117.68 256.11L116.88 256.91L116.08 256.11L115.28 256.91L114.48 256.11L115.28 255.31L114.48 254.51zM117.36 253.13L118.16 253.93L118.96 253.13L119.76 253.93L118.96 254.73L119.76 255.53L118.96 256.33L118.16 255.53L117.36 256.33L116.56 255.53L117.36 254.73L116.56 253.93zM119.49 252.6L120.29 253.4L121.09 252.6L121.89 253.4L121.09 254.2L121.89 255L121.09 255.8L120.29 255L119.49 255.8L118.69 255L119.49 254.2L118.69 253.4zM121.63 252.12L122.43 252.92L123.23 252.12L124.03 252.92L123.23 253.72L124.03 254.52L123.23 255.32L122.43 254.52L121.63 255.32L120.83 254.52L121.63 253.72L120.83 252.92zM123.79 251.68L124.59 252.48L125.39 251.68L126.19 252.48L125.39 253.28L126.19 254.08L125.39 254.88L124.59 254.08L123.79 254.88L122.99 254.08L123.79 253.28L122.99 252.48zM125.95 251.28L126.75 252.08L127.55 251.28L128.35 252.08L127.55 252.88L128.35 253.68L127.55 254.48L126.75 253.68L125.95 254.48L125.15 253.68L125.95 252.88L125.15 252.08zM128.12 250.92L128.92 251.72L129.72 250.92L130.52 251.72L129.72 252.52L130.52 253.32L129.72 254.12L128.92 253.32L128.12 254.12L127.32 253.32L128.12 252.52L127.32 251.72zM130.3 250.59L131.1 251.39L131.9 250.59L132.7 251.39L131.9 252.19L132.7 252.99L131.9 253.79L131.1 252.99L130.3 253.79L129.5 252.99L130.3 252.19L129.5 251.39zM132.47 250.32L133.27 251.12L134.07 250.32L134.87 251.12L134.07 251.92L134.87 252.72L134.07 253.52L133.27 252.72L132.47 253.52L131.67 252.72L132.47 251.92L131.67 251.12zM134.6 250.08L135.4 250.88L136.2 250.08L137 250.88L136.2 251.68L137 252.48L136.2 253.28L135.4 252.48L134.6 253.28L133.8 252.48L134.6 251.68L133.8 250.88zM136.7 249.89L137.5 250.69L138.3 249.89L139.1 250.69L138.3 251.49L139.1 252.29L138.3 253.09L137.5 252.29L136.7 253.09L135.9 252.29L136.7 251.49L135.9 250.69zM138.77 249.73L139.57 250.53L140.37 249.73L141.17 250.53L140.37 251.33L141.17 252.13L140.37 252.93L139.57 252.13L138.77 252.93L137.97 252.13L138.77 251.33L137.97 250.53zM140.8 249.58L141.6 250.38L142.4 249.58L143.2 250.38L142.4 251.18L143.2 251.98L142.4 252.78L141.6 251.98L140.8 252.78L140 251.98L140.8 251.18L140 250.38zM142.8 249.46L143.6 250.26L144.4 249.46L145.2 250.26L144.4 251.06L145.2 251.86L144.4 252.66L143.6 251.86L142.8 252.66L142 251.86L142.8 251.06L142 250.26zM144.77 249.36L145.57 250.16L146.37 249.36L147.17 250.16L146.37 250.96L147.17 251.76L146.37 252.56L145.57 251.76L144.77 252.56L143.97 251.76L144.77 250.96L143.97 250.16zM146.71 249.28L147.51 250.08L148.31 249.28L149.11 250.08L148.31 250.88L149.11 251.68L148.31 252.48L147.51 251.68L146.71 252.48L145.91 251.68L146.71 250.88L145.91 250.08zM148.61 249.23L149.41 250.03L150.21 249.23L151.01 250.03L150.21 250.83L151.01 251.63L150.21 252.43L149.41 251.63L148.61 252.43L147.81 251.63L148.61 250.83L147.81 250.03zM150.48 249.19L151.28 249.99L152.08 249.19L152.88 249.99L152.08 250.79L152.88 251.59L152.08 252.39L151.28 251.59L150.48 252.39L149.68 251.59L150.48 250.79L149.68 249.99zM152.32 249.18L153.12 249.98L153.92 249.18L154.72 249.98L153.92 250.78L154.72 251.58L153.92 252.38L153.12 251.58L152.32 252.38L151.52 251.58L152.32 250.78L151.52 249.98zM154.12 249.19L154.92 249.99L155.72 249.19L156.52 249.99L155.72 250.79L156.52 251.59L155.72 252.39L154.92 251.59L154.12 252.39L153.32 251.59L154.12 250.79L153.32 249.99zM155.92 249.21L156.72 250.01L157.52 249.21L158.32 250.01L157.52 250.81L158.32 251.61L157.52 252.41L156.72 251.61L155.92 252.41L155.12 251.61L155.92 250.81L155.12 250.01zM157.72 249.26L158.52 250.06L159.32 249.26L160.12 250.06L159.32 250.86L160.12 251.66L159.32 252.46L158.52 251.66L157.72 252.46L156.92 251.66L157.72 250.86L156.92 250.06zM159.52 249.32L160.32 250.12L161.12 249.32L161.92 250.12L161.12 250.92L161.92 251.72L161.12 252.52L160.32 251.72L159.52 252.52L158.72 251.72L159.52 250.92L158.72 250.12zM161.32 249.39L162.12 250.19L162.92 249.39L163.72 250.19L162.92 250.99L163.72 251.79L162.92 252.59L162.12 251.79L161.32 252.59L160.52 251.79L161.32 250.99L160.52 250.19zM163.12 249.49L163.92 250.29L164.72 249.49L165.52 250.29L164.72 251.09L165.52 251.89L164.72 252.69L163.92 251.89L163.12 252.69L162.32 251.89L163.12 251.09L162.32 250.29zM164.91 249.6L165.71 250.4L166.51 249.6L167.31 250.4L166.51 251.2L167.31 252L166.51 252.8L165.71 252L164.91 252.8L164.11 252L164.91 251.2L164.11 250.4zM166.72 249.76L167.52 250.56L168.32 249.76L169.12 250.56L168.32 251.36L169.12 252.16L168.32 252.96L167.52 252.16L166.72 252.96L165.92 252.16L166.72 251.36L165.92 250.56zM168.57 249.95L169.37 250.75L170.17 249.95L170.97 250.75L170.17 251.55L170.97 252.35L170.17 253.15L169.37 252.35L168.57 253.15L167.77 252.35L168.57 251.55L167.77 250.75zM170.47 250.16L171.27 250.96L172.07 250.16L172.87 250.96L172.07 251.76L172.87 252.56L172.07 253.36L171.27 252.56L170.47 253.36L169.67 252.56L170.47 251.76L169.67 250.96zM172.41 250.36L173.21 251.16L174.01 250.36L174.81 251.16L174.01 251.96L174.81 252.76L174.01 253.56L173.21 252.76L172.41 253.56L171.61 252.76L172.41 251.96L171.61 251.16zM174.42 250.58L175.22 251.38L176.02 250.58L176.82 251.38L176.02 252.18L176.82 252.98L176.02 253.78L175.22 252.98L174.42 253.78L173.62 252.98L174.42 252.18L173.62 251.38zM176.53 250.8L177.33 251.6L178.13 250.8L178.93 251.6L178.13 252.4L178.93 253.2L178.13 254L177.33 253.2L176.53 254L175.73 253.2L176.53 252.4L175.73 251.6zM178.76 251.05L179.56 251.85L180.36 251.05L181.16 251.85L180.36 252.65L181.16 253.45L180.36 254.25L179.56 253.45L178.76 254.25L177.96 253.45L178.76 252.65L177.96 251.85zM181.15 251.26L181.95 252.06L182.75 251.26L183.55 252.06L182.75 252.86L183.55 253.66L182.75 254.46L181.95 253.66L181.15 254.46L180.35 253.66L181.15 252.86L180.35 252.06zM183.76 251.27L184.56 252.07L185.36 251.27L186.16 252.07L185.36 252.87L186.16 253.67L185.36 254.47L184.56 253.67L183.76 254.47L182.96 253.67L183.76 252.87L182.96 252.07zM187.67 251.11L188.47 251.91L189.28 251.11L190.07 251.91L189.28 252.71L190.07 253.51L189.28 254.31L188.47 253.51L187.67 254.31L186.88 253.51L187.67 252.71L186.88 251.91zM190.01 250.72L190.81 251.52L191.61 250.72L192.41 251.52L191.61 252.32L192.41 253.12L191.61 253.92L190.81 253.12L190.01 253.92L189.21 253.12L190.01 252.32L189.21 251.52zM192.34 250.1L193.14 250.9L193.94 250.1L194.74 250.9L193.94 251.7L194.74 252.5L193.94 253.3L193.14 252.5L192.34 253.3L191.54 252.5L192.34 251.7L191.54 250.9zM194.67 249.18L195.47 249.98L196.27 249.18L197.07 249.98L196.27 250.78L197.07 251.58L196.27 252.38L195.47 251.58L194.67 252.38L193.87 251.58L194.67 250.78L193.87 249.98zM197 248.18L197.8 248.98L198.6 248.18L199.4 248.98L198.6 249.78L199.4 250.58L198.6 251.38L197.8 250.58L197 251.38L196.2 250.58L197 249.78L196.2 248.98zM199.14 247.06L199.94 247.86L200.74 247.06L201.54 247.86L200.74 248.66L201.54 249.46L200.74 250.26L199.94 249.46L199.14 250.26L198.34 249.46L199.14 248.66L198.34 247.86zM201.27 245.71L202.07 246.51L202.87 245.71L203.67 246.51L202.87 247.31L203.67 248.11L202.87 248.91L202.07 248.11L201.27 248.91L200.47 248.11L201.27 247.31L200.47 246.51zM204.38 243.56L205.18 244.36L205.98 243.56L206.78 244.36L205.98 245.16L206.78 245.96L205.98 246.76L205.18 245.96L204.38 246.76L203.58 245.96L204.38 245.16L203.58 244.36zM207.33 240.82L208.13 241.62L208.93 240.82L209.73 241.62L208.93 242.42L209.73 243.22L208.93 244.02L208.13 243.22L207.33 244.02L206.53 243.22L207.33 242.42L206.53 241.62zM210.6 237.62L211.4 238.42L212.2 237.62L213 238.42L212.2 239.22L213 240.02L212.2 240.82L211.4 240.02L210.6 240.82L209.8 240.02L210.6 239.22L209.8 238.42zM213.7 233.93L214.5 234.73L215.3 233.93L216.1 234.73L215.3 235.53L216.1 236.33L215.3 237.13L214.5 236.33L213.7 237.13L212.9 236.33L213.7 235.53L212.9 234.73zM217.2 228.92L218 229.72L218.8 228.92L219.6 229.72L218.8 230.52L219.6 231.32L218.8 232.12L218 231.32L217.2 232.12L216.4 231.32L217.2 230.52L216.4 229.72zM220.89 223.37L221.69 224.17L222.49 223.37L223.29 224.17L222.49 224.97L223.29 225.77L222.49 226.57L221.69 225.77L220.89 226.57L220.09 225.77L220.89 224.97L220.09 224.17zM224.58 217.21L225.38 218.01L226.18 217.21L226.98 218.01L226.18 218.81L226.98 219.61L226.18 220.41L225.38 219.61L224.58 220.41L223.78 219.61L224.58 218.81L223.78 218.01zM228.47 209.12L229.27 209.92L230.07 209.12L230.87 209.92L230.07 210.72L230.87 211.52L230.07 212.32L229.27 211.52L228.47 212.32L227.67 211.52L228.47 210.72L227.67 209.92zM232.35 199.49L233.15 200.29L233.95 199.49L234.75 200.29L233.95 201.09L234.75 201.89L233.95 202.69L233.15 201.89L232.35 202.69L231.55 201.89L232.35 201.09L231.55 200.29zM236.63 188.13L237.43 188.93L238.23 188.13L239.03 188.93L238.23 189.73L239.03 190.53L238.23 191.33L237.43 190.53L236.63 191.33L235.83 190.53L236.63 189.73L235.83 188.93zM241.09 174.07L241.89 174.87L242.69 174.07L243.49 174.87L242.69 175.67L243.49 176.47L242.69 177.27L241.89 176.47L241.09 177.27L240.29 176.47L241.09 175.67L240.29 174.87zM246.53 157.12L247.33 157.92L248.13 157.12L248.93 157.92L248.13 158.72L248.93 159.52L248.13 160.32L247.33 159.52L246.53 160.32L245.73 159.52L246.53 158.72L245.73 157.92zM253.33 137.09L254.13 137.89L254.93 137.09L255.73 137.89L254.93 138.69L255.73 139.49L254.93 140.29L254.13 139.49L253.33 140.29L252.53 139.49L253.33 138.69L252.53 137.89z" fill="#D31F2C" stroke="#D31F2C" stroke-width="0.6" stroke-linejoin="round"/>
<path d="M61.44 281.98h.01M61.59 281.2h.01M61.73 280.4h.01M61.88 279.58h.01M62.03 278.75h.01M62.21 277.91h.01M62.44 277.06h.01M62.73 276.22h.01M63.05 275.37h.01M63.41 274.52h.01M63.81 273.68h.01M64.25 272.83h.01M64.75 272.01h.01M65.32 271.2h.01M65.94 270.42h.01M66.63 269.66h.01M67.37 268.91h.01M68.16 268.18h.01M68.99 267.46h.01M69.88 266.75h.01M70.8 266.05h.01M71.77 265.37h.01M72.81 264.7h.01M73.91 264.04h.01M75.07 263.39h.01M76.31 262.75h.01M77.61 262.12h.01M78.98 261.49h.01M80.42 260.88h.01M81.94 260.28h.01M83.56 259.7h.01M85.27 259.13h.01M87.08 258.57h.01M88.98 258h.01M90.98 257.43h.01M93.08 256.87h.01M95.34 256.31h.01M97.75 255.77h.01M100.33 255.21h.01M103.08 254.62h.01M106.03 254h.01M109.25 253.35h.01M112.74 252.57h.01M116.58 251.64h.01M120.97 251.16h.01M125.56 250.81h.01M130.15 250.55h.01M134.75 250.37h.01M139.28 250.24h.01M143.75 250.2h.01M148.15 250.35h.01M152.24 250.81h.01M155.94 251.53h.01M159.38 252.33h.01M162.74 252.85h.01M166.11 252.49h.01M169.61 251.86h.01M175.93 250.4h.01M179.93 248.47h.01M182.65 245.97h.01M185.44 243.15h.01M188.55 239.61h.01M191.51 235.45h.01M194.42 230.25h.01M197.8 224.32h.01M201.18 216.88h.01M204.48 208.6h.01M208.02 197.24h.01M211.78 184.14h.01M216.06 168.15h.01M220.72 149.09h.01M226.74 125.98h.01" fill="none" stroke="#7F7F7F" stroke-width="2.8" stroke-linecap="round"/>
<path d="M62.18 279.19h4.5v4.5h-4.5zM62.27 278.3h4.5v4.5h-4.5zM62.34 277.4h4.5v4.5h-4.5zM62.41 276.5h4.5v4.5h-4.5zM62.5 275.61h4.5v4.5h-4.5zM62.63 274.72h4.5v4.5h-4.5zM62.83 273.84h4.5v4.5h-4.5zM63.12 272.99h4.5v4.5h-4.5zM63.45 272.14h4.5v4.5h-4.5zM63.85 271.3h4.5v4.5h-4.5zM64.3 270.47h4.5v4.5h-4.5zM64.81 269.66h4.5v4.5h-4.5zM65.37 268.86h4.5v4.5h-4.5zM65.98 268.08h4.5v4.5h-4.5zM66.65 267.34h4.5v4.5h-4.5zM67.36 266.63h4.5v4.5h-4.5zM68.09 265.95h4.5v4.5h-4.5zM68.85 265.3h4.5v4.5h-4.5zM69.63 264.67h4.5v4.5h-4.5zM70.42 264.06h4.5v4.5h-4.5zM71.23 263.47h4.5v4.5h-4.5zM72.06 262.91h4.5v4.5h-4.5zM72.93 262.37h4.5v4.5h-4.5zM73.83 261.85h4.5v4.5h-4.5zM74.76 261.35h4.5v4.5h-4.5zM75.71 260.87h4.5v4.5h-4.5zM76.68 260.39h4.5v4.5h-4.5zM77.68 259.93h4.5v4.5h-4.5zM78.69 259.49h4.5v4.5h-4.5zM79.71 259.08h4.5v4.5h-4.5zM80.74 258.69h4.5v4.5h-4.5zM81.78 258.33h4.5v4.5h-4.5zM82.82 257.98h4.5v4.5h-4.5zM83.88 257.65h4.5v4.5h-4.5zM84.96 257.35h4.5v4.5h-4.5zM86.06 257.05h4.5v4.5h-4.5zM87.18 256.76h4.5v4.5h-4.5zM88.32 256.48h4.5v4.5h-4.5zM89.49 256.19h4.5v4.5h-4.5zM90.66 255.92h4.5v4.5h-4.5zM91.83 255.65h4.5v4.5h-4.5zM92.99 255.37h4.5v4.5h-4.5zM94.16 255.08h4.5v4.5h-4.5zM95.32 254.79h4.5v4.5h-4.5zM96.49 254.53h4.5v4.5h-4.5zM97.67 254.3h4.5v4.5h-4.5zM98.86 254.13h4.5v4.5h-4.5zM100.05 253.99h4.5v4.5h-4.5zM101.24 253.88h4.5v4.5h-4.5zM102.44 253.79h4.5v4.5h-4.5zM103.64 253.72h4.5v4.5h-4.5zM104.84 253.68h4.5v4.5h-4.5zM106.04 253.66h4.5v4.5h-4.5zM107.24 253.66h4.5v4.5h-4.5zM108.44 253.69h4.5v4.5h-4.5zM109.64 253.75h4.5v4.5h-4.5zM110.83 253.83h4.5v4.5h-4.5zM112 253.93h4.5v4.5h-4.5zM113.15 254.05h4.5v4.5h-4.5zM114.27 254.19h4.5v4.5h-4.5zM115.37 254.35h4.5v4.5h-4.5zM116.46 254.52h4.5v4.5h-4.5zM117.51 254.72h4.5v4.5h-4.5zM118.55 254.93h4.5v4.5h-4.5zM119.57 255.15h4.5v4.5h-4.5zM120.57 255.38h4.5v4.5h-4.5zM121.55 255.6h4.5v4.5h-4.5zM122.52 255.84h4.5v4.5h-4.5zM123.49 256.09h4.5v4.5h-4.5zM124.46 256.34h4.5v4.5h-4.5zM125.42 256.61h4.5v4.5h-4.5zM126.38 256.89h4.5v4.5h-4.5zM127.34 257.17h4.5v4.5h-4.5zM128.29 257.48h4.5v4.5h-4.5zM129.24 257.81h4.5v4.5h-4.5zM130.18 258.14h4.5v4.5h-4.5zM131.13 258.46h4.5v4.5h-4.5zM132.08 258.77h4.5v4.5h-4.5zM133.04 259.06h4.5v4.5h-4.5zM134 259.33h4.5v4.5h-4.5zM134.96 259.59h4.5v4.5h-4.5zM135.93 259.85h4.5v4.5h-4.5zM136.9 260.09h4.5v4.5h-4.5zM137.87 260.33h4.5v4.5h-4.5zM138.84 260.57h4.5v4.5h-4.5zM139.82 260.8h4.5v4.5h-4.5zM140.79 261.02h4.5v4.5h-4.5zM141.77 261.22h4.5v4.5h-4.5zM142.76 261.39h4.5v4.5h-4.5zM143.74 261.57h4.5v4.5h-4.5zM144.74 261.64h4.5v4.5h-4.5zM145.73 261.53h4.5v4.5h-4.5zM146.72 261.27h4.5v4.5h-4.5zM147.71 260.88h4.5v4.5h-4.5zM148.68 260.38h4.5v4.5h-4.5zM149.64 259.71h4.5v4.5h-4.5zM150.54 258.83h4.5v4.5h-4.5zM151.34 257.69h4.5v4.5h-4.5zM152.23 256.34h4.5v4.5h-4.5zM153.28 254.79h4.5v4.5h-4.5zM157.09 250.46h4.5v4.5h-4.5zM159.65 247.18h4.5v4.5h-4.5zM161.75 243.14h4.5v4.5h-4.5zM164.47 238.71h4.5v4.5h-4.5zM167.03 234.28h4.5v4.5h-4.5zM169.91 228.5h4.5v4.5h-4.5zM172.63 221.72h4.5v4.5h-4.5zM175.54 213.86h4.5v4.5h-4.5zM178.07 203.46h4.5v4.5h-4.5zM181.56 191.52h4.5v4.5h-4.5zM185.06 176.5h4.5v4.5h-4.5zM188.94 158.78h4.5v4.5h-4.5zM193.8 137.98h4.5v4.5h-4.5z" fill="#D8541A"/>
<path d="M35.6 278.9H327.2" stroke="#808080" stroke-opacity="0.78" stroke-width="1.5" fill="none"/>
</g>
<path d="M36.96 290.4v-2.4M36.96 1.5v2.4M44.73 290.4v-2.4M44.73 1.5v2.4M52.5 290.4v-4.6M52.5 1.5v4.6M60.27 290.4v-2.4M60.27 1.5v2.4M68.04 290.4v-2.4M68.04 1.5v2.4M75.81 290.4v-2.4M75.81 1.5v2.4M83.58 290.4v-2.4M83.58 1.5v2.4M91.35 290.4v-4.6M91.35 1.5v4.6M99.12 290.4v-2.4M99.12 1.5v2.4M106.89 290.4v-2.4M106.89 1.5v2.4M114.66 290.4v-2.4M114.66 1.5v2.4M122.43 290.4v-2.4M122.43 1.5v2.4M130.2 290.4v-4.6M130.2 1.5v4.6M137.97 290.4v-2.4M137.97 1.5v2.4M145.74 290.4v-2.4M145.74 1.5v2.4M153.51 290.4v-2.4M153.51 1.5v2.4M161.28 290.4v-2.4M161.28 1.5v2.4M169.05 290.4v-4.6M169.05 1.5v4.6M176.82 290.4v-2.4M176.82 1.5v2.4M184.59 290.4v-2.4M184.59 1.5v2.4M192.36 290.4v-2.4M192.36 1.5v2.4M200.13 290.4v-2.4M200.13 1.5v2.4M207.9 290.4v-4.6M207.9 1.5v4.6M215.67 290.4v-2.4M215.67 1.5v2.4M223.44 290.4v-2.4M223.44 1.5v2.4M231.21 290.4v-2.4M231.21 1.5v2.4M238.98 290.4v-2.4M238.98 1.5v2.4M246.75 290.4v-4.6M246.75 1.5v4.6M254.52 290.4v-2.4M254.52 1.5v2.4M262.29 290.4v-2.4M262.29 1.5v2.4M270.06 290.4v-2.4M270.06 1.5v2.4M277.83 290.4v-2.4M277.83 1.5v2.4M285.6 290.4v-4.6M285.6 1.5v4.6M293.37 290.4v-2.4M293.37 1.5v2.4M301.14 290.4v-2.4M301.14 1.5v2.4M308.91 290.4v-2.4M308.91 1.5v2.4M316.68 290.4v-2.4M316.68 1.5v2.4M324.45 290.4v-4.6M324.45 1.5v4.6M35.6 286.6h2.4M327.2 286.6h-2.4M35.6 278.9h4.6M327.2 278.9h-4.6M35.6 271.2h2.4M327.2 271.2h-2.4M35.6 263.49h2.4M327.2 263.49h-2.4M35.6 255.79h2.4M327.2 255.79h-2.4M35.6 248.08h2.4M327.2 248.08h-2.4M35.6 240.38h4.6M327.2 240.38h-4.6M35.6 232.68h2.4M327.2 232.68h-2.4M35.6 224.97h2.4M327.2 224.97h-2.4M35.6 217.27h2.4M327.2 217.27h-2.4M35.6 209.56h2.4M327.2 209.56h-2.4M35.6 201.86h4.6M327.2 201.86h-4.6M35.6 194.16h2.4M327.2 194.16h-2.4M35.6 186.45h2.4M327.2 186.45h-2.4M35.6 178.75h2.4M327.2 178.75h-2.4M35.6 171.04h2.4M327.2 171.04h-2.4M35.6 163.34h4.6M327.2 163.34h-4.6M35.6 155.64h2.4M327.2 155.64h-2.4M35.6 147.93h2.4M327.2 147.93h-2.4M35.6 140.23h2.4M327.2 140.23h-2.4M35.6 132.52h2.4M327.2 132.52h-2.4M35.6 124.82h4.6M327.2 124.82h-4.6M35.6 117.12h2.4M327.2 117.12h-2.4M35.6 109.41h2.4M327.2 109.41h-2.4M35.6 101.71h2.4M327.2 101.71h-2.4M35.6 94h2.4M327.2 94h-2.4M35.6 86.3h4.6M327.2 86.3h-4.6M35.6 78.6h2.4M327.2 78.6h-2.4M35.6 70.89h2.4M327.2 70.89h-2.4M35.6 63.19h2.4M327.2 63.19h-2.4M35.6 55.48h2.4M327.2 55.48h-2.4M35.6 47.78h4.6M327.2 47.78h-4.6M35.6 40.08h2.4M327.2 40.08h-2.4M35.6 32.37h2.4M327.2 32.37h-2.4M35.6 24.67h2.4M327.2 24.67h-2.4M35.6 16.96h2.4M327.2 16.96h-2.4M35.6 9.26h4.6M327.2 9.26h-4.6" fill="none" stroke="#000" stroke-width="0.8"/>
<rect x="35.6" y="1.5" width="291.6" height="288.9" fill="none" stroke="#000" stroke-width="0.9"/>
<g font-family="'DejaVu Sans', 'Liberation Sans', sans-serif" font-size="9px" fill="#000"><text x="52.5" y="304" text-anchor="middle">30</text><text x="91.35" y="304" text-anchor="middle">40</text><text x="130.2" y="304" text-anchor="middle">50</text><text x="169.05" y="304" text-anchor="middle">60</text><text x="207.9" y="304" text-anchor="middle">70</text><text x="246.75" y="304" text-anchor="middle">80</text><text x="285.6" y="304" text-anchor="middle">90</text><text x="324.45" y="304" text-anchor="middle">100</text><text x="29.6" y="282.2" text-anchor="end">0</text><text x="29.6" y="243.68" text-anchor="end">10</text><text x="29.6" y="205.16" text-anchor="end">20</text><text x="29.6" y="166.64" text-anchor="end">30</text><text x="29.6" y="128.12" text-anchor="end">40</text><text x="29.6" y="89.6" text-anchor="end">50</text><text x="29.6" y="51.08" text-anchor="end">60</text><text x="29.6" y="12.56" text-anchor="end">70</text></g>
<g transform="translate(181.2 320.9)"><text class="ax" y="0"><tspan x="-30.8" textLength="17.8" lengthAdjust="spacingAndGlyphs">Re(</tspan><tspan x="-10.7" font-style="italic" textLength="6.9" lengthAdjust="spacingAndGlyphs">Z</tspan><tspan x="-2">)</tspan><tspan x="4.9" dy="0.4" class="sans" textLength="26.0" lengthAdjust="spacingAndGlyphs"> [mΩ]</tspan></text></g>
<g transform="translate(9.1 146.25) rotate(-90)"><text class="ax" y="0"><tspan x="-33.1" textLength="22.4" lengthAdjust="spacingAndGlyphs">-Im(</tspan><tspan x="-8.4" font-style="italic" textLength="6.9" lengthAdjust="spacingAndGlyphs">Z</tspan><tspan x="0.3">)</tspan><tspan x="7.2" dy="0.9" class="sans" textLength="26.0" lengthAdjust="spacingAndGlyphs"> [mΩ]</tspan></text></g>
<text x="167.4" y="342" text-anchor="middle" class="cap" textLength="14.6" lengthAdjust="spacingAndGlyphs">(a)</text>
<rect x="40.3" y="6" width="271.7" height="81.8" rx="2.6" fill="#fff" stroke="#cdcdcd" stroke-width="1.4"/>
<path d="M53.4 11.94L54.13 13.08L55.44 13.42L54.59 14.47L54.66 15.83L53.4 15.33L52.14 15.83L52.21 14.47L51.36 13.42L52.67 13.08z" fill="#FFCB05" stroke="#FFCB05" stroke-width="0.8" stroke-linejoin="round"/>
<path d="M53.4 27.22h.01" fill="none" stroke="#6B6565" stroke-width="4.4" stroke-linecap="round"/>
<path d="M53.4 38.34L55.22 39.39L55.22 41.49L53.4 42.54L51.58 41.49L51.58 39.39z" fill="#32CD32" stroke="#32CD32" stroke-width="0.5" stroke-linejoin="round"/>
<path d="M53.4 53.66h.01" fill="none" stroke="#3E3E3E" stroke-width="4.5" stroke-linecap="round"/>
<path d="M53.4 66.88h.01" fill="none" stroke="#20B2AA" stroke-width="4.4" stroke-linecap="round"/>
<path d="M52.6 78.5L53.4 79.3L54.2 78.5L55 79.3L54.2 80.1L55 80.9L54.2 81.7L53.4 80.9L52.6 81.7L51.8 80.9L52.6 80.1L51.8 79.3z" fill="#0B4596" stroke="#0B4596" stroke-width="0.6" stroke-linejoin="round"/>
<path d="M197.8 11.9L199.9 16.1L195.7 16.1z" fill="#FF6347" stroke="#FF6347" stroke-width="0.5" stroke-linejoin="round"/>
<path d="M197.8 27.22h.01" fill="none" stroke="#6FA82E" stroke-width="3" stroke-linecap="round"/>
<path d="M197.8 40.44h.01" fill="none" stroke="#1E8A1E" stroke-width="3.1" stroke-linecap="round"/>
<path d="M197 52.06L197.8 52.86L198.6 52.06L199.4 52.86L198.6 53.66L199.4 54.46L198.6 55.26L197.8 54.46L197 55.26L196.2 54.46L197 53.66L196.2 52.86z" fill="#D31F2C" stroke="#D31F2C" stroke-width="0.6" stroke-linejoin="round"/>
<path d="M197.8 66.88h.01" fill="none" stroke="#7F7F7F" stroke-width="2.8" stroke-linecap="round"/>
<path d="M195.55 77.85h4.5v4.5h-4.5z" fill="#D8541A"/>
<g class="lg" transform="scale(1.18 1)"><text x="60.08" y="16.9" textLength="66.02" lengthAdjust="spacing">10 mHz PC-PD</text><text x="60.08" y="30.12" textLength="71.19" lengthAdjust="spacing">320 mHz PC-PD</text><text x="60.08" y="43.34" textLength="71.19" lengthAdjust="spacing">500 mHz PC-PD</text><text x="60.08" y="56.56" textLength="27.71" lengthAdjust="spacing">CC-ref</text><text x="60.08" y="69.78" textLength="83.05" lengthAdjust="spacing">1000 mHz PC-NPD</text><text x="60.08" y="83" textLength="75.17" lengthAdjust="spacing">1000 mHz PC-PD</text><text x="182.29" y="16.9" textLength="78.31" lengthAdjust="spacing">100 mHz PC-NPD</text><text x="182.29" y="30.12" textLength="70.59" lengthAdjust="spacing">100 mHz PC-PD</text><text x="182.29" y="43.34" textLength="42.8" lengthAdjust="spacing">Fresh Cell</text><text x="182.29" y="56.56" textLength="26.27" lengthAdjust="spacing">1C ref</text><text x="182.29" y="69.78" textLength="71.19" lengthAdjust="spacing">50 Hz PC-PD-50</text><text x="182.29" y="83" textLength="71.19" lengthAdjust="spacing">10 Hz PC-PD-50</text></g>
</g>
<g id="plot-b">
<path d="M418.4 290.4V1.5M457.9 290.4V1.5M497.4 290.4V1.5M536.9 290.4V1.5M576.4 290.4V1.5M615.9 290.4V1.5M655.4 290.4V1.5M392.4 236.6H684.3M392.4 197.45H684.3M392.4 158.3H684.3M392.4 119.15H684.3M392.4 80H684.3M392.4 40.85H684.3" fill="none" stroke="#000" stroke-opacity="0.6" stroke-width="0.8" stroke-dasharray="2.7 1.4"/>
<clipPath id="clip-b"><rect x="392.4" y="1.5" width="291.9" height="288.9"/></clipPath>
<g clip-path="url(#clip-b)">
<path d="M418.87 278.31L419.61 279.45L420.92 279.79L420.06 280.84L420.14 282.2L418.87 281.7L417.61 282.2L417.69 280.84L416.83 279.79L418.14 279.45zM419.9 275.06L420.63 276.21L421.94 276.55L421.08 277.6L421.16 278.95L419.9 278.46L418.64 278.95L418.71 277.6L417.85 276.55L419.17 276.21zM421.17 272.18L421.9 273.32L423.21 273.66L422.36 274.71L422.43 276.06L421.17 275.57L419.91 276.06L419.98 274.71L419.12 273.66L420.44 273.32zM422.81 269.83L423.54 270.98L424.86 271.32L424 272.37L424.08 273.72L422.81 273.23L421.55 273.72L421.63 272.37L420.77 271.32L422.08 270.98zM424.41 268.06L425.14 269.2L426.45 269.55L425.59 270.6L425.67 271.95L424.41 271.46L423.14 271.95L423.22 270.6L422.36 269.55L423.67 269.2zM425.9 266.67L426.64 267.81L427.95 268.15L427.09 269.2L427.17 270.55L425.9 270.06L424.64 270.55L424.72 269.2L423.86 268.15L425.17 267.81zM427.3 265.52L428.03 266.66L429.34 267.01L428.48 268.06L428.56 269.41L427.3 268.92L426.03 269.41L426.11 268.06L425.25 267.01L426.56 266.66zM428.57 264.57L429.3 265.71L430.61 266.05L429.75 267.1L429.83 268.46L428.57 267.97L427.3 268.46L427.38 267.1L426.52 266.05L427.83 265.71zM429.8 263.72L430.53 264.86L431.85 265.2L430.99 266.25L431.07 267.61L429.8 267.11L428.54 267.61L428.62 266.25L427.76 265.2L429.07 264.86zM431.07 262.91L431.8 264.05L433.11 264.39L432.25 265.44L432.33 266.8L431.07 266.31L429.8 266.8L429.88 265.44L429.02 264.39L430.33 264.05zM432.36 262.15L433.09 263.29L434.4 263.63L433.54 264.68L433.62 266.03L432.36 265.54L431.09 266.03L431.17 264.68L430.31 263.63L431.62 263.29zM433.67 261.43L434.41 262.57L435.72 262.91L434.86 263.96L434.94 265.32L433.67 264.82L432.41 265.32L432.49 263.96L431.63 262.91L432.94 262.57zM435.02 260.76L435.75 261.9L437.06 262.24L436.2 263.29L436.28 264.65L435.02 264.16L433.75 264.65L433.83 263.29L432.97 262.24L434.28 261.9zM436.41 260.12L437.14 261.26L438.45 261.61L437.59 262.66L437.67 264.01L436.41 263.52L435.14 264.01L435.22 262.66L434.36 261.61L435.68 261.26zM437.87 259.5L438.6 260.65L439.92 260.99L439.06 262.04L439.13 263.39L437.87 262.9L436.61 263.39L436.68 262.04L435.83 260.99L437.14 260.65zM439.4 258.91L440.14 260.06L441.45 260.4L440.59 261.45L440.67 262.8L439.4 262.31L438.14 262.8L438.22 261.45L437.36 260.4L438.67 260.06zM441.01 258.36L441.74 259.5L443.05 259.85L442.2 260.9L442.27 262.25L441.01 261.76L439.75 262.25L439.82 260.9L438.96 259.85L440.28 259.5zM442.7 257.86L443.43 259L444.74 259.34L443.88 260.39L443.96 261.75L442.7 261.26L441.43 261.75L441.51 260.39L440.65 259.34L441.96 259zM444.44 257.42L445.18 258.57L446.49 258.91L445.63 259.96L445.71 261.31L444.44 260.82L443.18 261.31L443.26 259.96L442.4 258.91L443.71 258.57zM446.21 257.09L446.94 258.23L448.26 258.58L447.4 259.63L447.47 260.98L446.21 260.49L444.95 260.98L445.03 259.63L444.17 258.58L445.48 258.23zM448 256.88L448.73 258.02L450.04 258.37L449.18 259.42L449.26 260.77L448 260.28L446.73 260.77L446.81 259.42L445.95 258.37L447.27 258.02zM449.8 256.8L450.53 257.94L451.84 258.28L450.98 259.33L451.06 260.69L449.8 260.2L448.53 260.69L448.61 259.33L447.75 258.28L449.06 257.94zM451.57 256.83L452.31 257.97L453.62 258.32L452.76 259.37L452.84 260.72L451.57 260.23L450.31 260.72L450.39 259.37L449.53 258.32L450.84 257.97zM453.32 257L454.05 258.14L455.36 258.48L454.5 259.53L454.58 260.89L453.32 260.39L452.05 260.89L452.13 259.53L451.27 258.48L452.58 258.14zM455.01 257.3L455.74 258.44L457.06 258.79L456.2 259.84L456.27 261.19L455.01 260.7L453.75 261.19L453.82 259.84L452.97 258.79L454.28 258.44zM456.64 257.77L457.37 258.91L458.68 259.26L457.82 260.31L457.9 261.66L456.64 261.17L455.37 261.66L455.45 260.31L454.59 259.26L455.9 258.91zM458.17 258.35L458.9 259.49L460.22 259.84L459.36 260.89L459.44 262.24L458.17 261.75L456.91 262.24L456.99 260.89L456.13 259.84L457.44 259.49zM459.64 258.97L460.37 260.11L461.68 260.46L460.82 261.51L460.9 262.86L459.64 262.37L458.38 262.86L458.45 261.51L457.59 260.46L458.91 260.11zM461.06 259.59L461.79 260.73L463.1 261.08L462.24 262.13L462.32 263.48L461.06 262.99L459.79 263.48L459.87 262.13L459.01 261.08L460.32 260.73zM462.41 260.23L463.15 261.37L464.46 261.71L463.6 262.76L463.68 264.12L462.41 263.62L461.15 264.12L461.23 262.76L460.37 261.71L461.68 261.37zM463.71 260.89L464.44 262.03L465.75 262.38L464.9 263.43L464.97 264.78L463.71 264.29L462.45 264.78L462.52 263.43L461.67 262.38L462.98 262.03zM464.96 261.55L465.7 262.7L467.01 263.04L466.15 264.09L466.23 265.44L464.96 264.95L463.7 265.44L463.78 264.09L462.92 263.04L464.23 262.7zM466.19 262.18L466.92 263.32L468.23 263.66L467.38 264.71L467.45 266.07L466.19 265.57L464.93 266.07L465 264.71L464.14 263.66L465.46 263.32zM467.4 262.73L468.14 263.88L469.45 264.22L468.59 265.27L468.67 266.62L467.4 266.13L466.14 266.62L466.22 265.27L465.36 264.22L466.67 263.88zM468.59 263.28L469.32 264.42L470.63 264.76L469.77 265.81L469.85 267.17L468.59 266.67L467.32 267.17L467.4 265.81L466.54 264.76L467.85 264.42zM469.74 263.82L470.47 264.96L471.79 265.31L470.93 266.36L471 267.71L469.74 267.22L468.48 267.71L468.55 266.36L467.7 265.31L469.01 264.96zM470.9 264.31L471.63 265.45L472.94 265.79L472.09 266.84L472.16 268.2L470.9 267.7L469.64 268.2L469.71 266.84L468.85 265.79L470.17 265.45zM472.09 264.63L472.82 265.77L474.13 266.12L473.27 267.17L473.35 268.52L472.09 268.03L470.82 268.52L470.9 267.17L470.04 266.12L471.36 265.77zM473.3 264.64L474.03 265.78L475.34 266.12L474.48 267.17L474.56 268.53L473.3 268.03L472.03 268.53L472.11 267.17L471.25 266.12L472.56 265.78zM474.46 264.28L475.19 265.42L476.5 265.76L475.64 266.81L475.72 268.16L474.46 267.67L473.19 268.16L473.27 266.81L472.41 265.76L473.72 265.42zM475.56 263.65L476.3 264.8L477.61 265.14L476.75 266.19L476.83 267.54L475.56 267.05L474.3 267.54L474.38 266.19L473.52 265.14L474.83 264.8zM476.65 262.88L477.38 264.03L478.69 264.37L477.83 265.42L477.91 266.77L476.65 266.28L475.38 266.77L475.46 265.42L474.6 264.37L475.91 264.03zM477.71 262L478.44 263.14L479.76 263.48L478.9 264.53L478.97 265.88L477.71 265.39L476.45 265.88L476.53 264.53L475.67 263.48L476.98 263.14zM478.73 260.92L479.46 262.07L480.77 262.41L479.91 263.46L479.99 264.81L478.73 264.32L477.46 264.81L477.54 263.46L476.68 262.41L477.99 262.07zM479.74 259.72L480.47 260.86L481.79 261.2L480.93 262.25L481 263.61L479.74 263.11L478.48 263.61L478.56 262.25L477.7 261.2L479.01 260.86zM480.81 258.42L481.54 259.56L482.86 259.9L482 260.95L482.08 262.3L480.81 261.81L479.55 262.3L479.63 260.95L478.77 259.9L480.08 259.56zM481.94 257.01L482.67 258.15L483.98 258.5L483.13 259.55L483.2 260.9L481.94 260.41L480.68 260.9L480.75 259.55L479.89 258.5L481.21 258.15zM483.13 255.44L483.86 256.58L485.17 256.93L484.31 257.98L484.39 259.33L483.13 258.84L481.86 259.33L481.94 257.98L481.08 256.93L482.4 256.58zM484.44 253.74L485.17 254.88L486.48 255.22L485.62 256.27L485.7 257.62L484.44 257.13L483.17 257.62L483.25 256.27L482.39 255.22L483.7 254.88zM485.92 251.92L486.66 253.06L487.97 253.4L487.11 254.45L487.19 255.8L485.92 255.31L484.66 255.8L484.74 254.45L483.88 253.4L485.19 253.06zM487.59 249.95L488.33 251.09L489.64 251.43L488.78 252.48L488.86 253.84L487.59 253.35L486.33 253.84L486.41 252.48L485.55 251.43L486.86 251.09zM491.87 244.95L492.6 246.09L493.91 246.44L493.06 247.49L493.13 248.84L491.87 248.35L490.61 248.84L490.68 247.49L489.83 246.44L491.14 246.09zM494.79 240.8L495.53 241.94L496.84 242.29L495.98 243.34L496.06 244.69L494.79 244.2L493.53 244.69L493.61 243.34L492.75 242.29L494.06 241.94zM497.72 236.89L498.45 238.03L499.76 238.37L498.9 239.42L498.98 240.77L497.72 240.28L496.45 240.77L496.53 239.42L495.67 238.37L496.98 238.03zM500.95 231.95L501.69 233.09L503 233.44L502.14 234.49L502.22 235.84L500.95 235.35L499.69 235.84L499.77 234.49L498.91 233.44L500.22 233.09zM504.75 226.39L505.48 227.53L506.79 227.88L505.93 228.93L506.01 230.28L504.75 229.79L503.48 230.28L503.56 228.93L502.7 227.88L504.01 227.53zM509.01 219.66L509.75 220.8L511.06 221.14L510.2 222.19L510.28 223.55L509.01 223.06L507.75 223.55L507.83 222.19L506.97 221.14L508.28 220.8zM513.83 212.06L514.56 213.21L515.88 213.55L515.02 214.6L515.1 215.95L513.83 215.46L512.57 215.95L512.65 214.6L511.79 213.55L513.1 213.21zM519.76 202.9L520.49 204.04L521.8 204.39L520.94 205.44L521.02 206.79L519.76 206.3L518.49 206.79L518.57 205.44L517.71 204.39L519.02 204.04zM526.63 192.49L527.36 193.63L528.67 193.97L527.82 195.02L527.89 196.38L526.63 195.89L525.37 196.38L525.44 195.02L524.59 193.97L525.9 193.63z" fill="#FFCB05" stroke="#FFCB05" stroke-width="0.8" stroke-linejoin="round"/>
<path d="M408.13 282.01h.01M409 278.73h.01M409.91 275.63h.01M411.19 272.83h.01M412.7 270.44h.01M414.28 268.49h.01M415.87 266.94h.01M417.44 265.68h.01M418.92 264.66h.01M420.31 263.81h.01M421.63 263.09h.01M423 262.43h.01M424.42 261.83h.01M425.88 261.28h.01M427.39 260.78h.01M428.93 260.33h.01M430.53 259.94h.01M432.19 259.61h.01M433.9 259.38h.01M435.67 259.29h.01M437.46 259.35h.01M439.22 259.54h.01M440.93 259.83h.01M442.61 260.22h.01M444.21 260.72h.01M445.74 261.3h.01M447.2 261.91h.01M448.62 262.52h.01M449.97 263.16h.01M451.25 263.82h.01M452.49 264.47h.01M453.7 265.07h.01M454.89 265.63h.01M456.03 266.2h.01M457.18 266.71h.01M458.35 267.07h.01M459.55 267.22h.01M460.75 267.2h.01M461.93 266.99h.01M463.04 266.56h.01M464.08 265.92h.01M465.06 265.12h.01M466.01 264.21h.01M466.95 263.22h.01M467.85 262.1h.01M468.74 260.83h.01M469.66 259.44h.01M470.63 257.94h.01M471.66 256.27h.01M472.78 254.42h.01M474.08 252.44h.01M475.51 250.2h.01M476.89 247.59h.01M478.32 244.66h.01M481.6 238.32h.01M485.23 233.23h.01M489.5 226.73h.01M494 219.37h.01M499.77 211.07h.01" fill="none" stroke="#6B6565" stroke-width="4.4" stroke-linecap="round"/>
<path d="M408.92 279.91L410.74 280.96L410.74 283.06L408.92 284.11L407.1 283.06L407.1 280.96zM409.84 276.64L411.66 277.69L411.66 279.79L409.84 280.84L408.03 279.79L408.03 277.69zM410.82 273.57L412.64 274.62L412.64 276.72L410.82 277.77L409 276.72L409 274.62zM412.17 270.82L413.99 271.87L413.99 273.97L412.17 275.02L410.35 273.97L410.35 271.87zM413.7 268.5L415.52 269.55L415.52 271.65L413.7 272.7L411.88 271.65L411.88 269.55zM415.26 266.58L417.08 267.63L417.08 269.73L415.26 270.78L413.44 269.73L413.44 267.63zM416.79 265L418.61 266.05L418.61 268.15L416.79 269.2L414.98 268.15L414.98 266.05zM418.28 263.69L420.1 264.74L420.1 266.84L418.28 267.89L416.46 266.84L416.46 264.74zM419.71 262.61L421.53 263.66L421.53 265.76L419.71 266.81L417.89 265.76L417.89 263.66zM421.07 261.72L422.89 262.77L422.89 264.87L421.07 265.92L419.25 264.87L419.25 262.77zM422.38 260.99L424.2 262.04L424.2 264.14L422.38 265.19L420.57 264.14L420.57 262.04zM423.76 260.32L425.58 261.37L425.58 263.47L423.76 264.52L421.94 263.47L421.94 261.37zM425.18 259.73L427 260.78L427 262.88L425.18 263.93L423.36 262.88L423.36 260.78zM426.64 259.18L428.46 260.23L428.46 262.33L426.64 263.38L424.83 262.33L424.83 260.23zM428.15 258.69L429.97 259.74L429.97 261.84L428.15 262.89L426.33 261.84L426.33 259.74zM429.69 258.24L431.51 259.29L431.51 261.39L429.69 262.44L427.87 261.39L427.87 259.29zM431.29 257.85L433.11 258.9L433.11 261L431.29 262.05L429.47 261L429.47 258.9zM432.95 257.52L434.76 258.57L434.76 260.67L432.95 261.72L431.13 260.67L431.13 258.57zM434.66 257.29L436.48 258.34L436.48 260.44L434.66 261.49L432.84 260.44L432.84 258.34zM436.43 257.19L438.25 258.24L438.25 260.34L436.43 261.39L434.61 260.34L434.61 258.24zM438.22 257.25L440.04 258.3L440.04 260.4L438.22 261.45L436.4 260.4L436.4 258.3zM439.97 257.43L441.79 258.48L441.79 260.58L439.97 261.63L438.15 260.58L438.15 258.48zM441.69 257.73L443.51 258.78L443.51 260.88L441.69 261.93L439.87 260.88L439.87 258.78zM443.36 258.11L445.18 259.16L445.18 261.26L443.36 262.31L441.54 261.26L441.54 259.16zM444.97 258.61L446.79 259.66L446.79 261.76L444.97 262.81L443.15 261.76L443.15 259.66zM446.5 259.19L448.32 260.24L448.32 262.34L446.5 263.39L444.68 262.34L444.68 260.24zM447.97 259.8L449.79 260.85L449.79 262.95L447.97 264L446.15 262.95L446.15 260.85zM449.38 260.41L451.2 261.46L451.2 263.56L449.38 264.61L447.56 263.56L447.56 261.46zM450.73 261.06L452.54 262.11L452.54 264.21L450.73 265.26L448.91 264.21L448.91 262.11zM452.01 261.73L453.83 262.78L453.83 264.88L452.01 265.93L450.19 264.88L450.19 262.78zM453.25 262.38L455.07 263.43L455.07 265.53L453.25 266.58L451.43 265.53L451.43 263.43zM454.47 262.96L456.29 264.01L456.29 266.11L454.47 267.16L452.65 266.11L452.65 264.01zM455.67 263.48L457.49 264.53L457.49 266.63L455.67 267.68L453.85 266.63L453.85 264.53zM456.85 263.99L458.67 265.04L458.67 267.14L456.85 268.19L455.03 267.14L455.03 265.04zM458.02 264.45L459.84 265.5L459.84 267.6L458.02 268.65L456.2 267.6L456.2 265.5zM459.2 264.82L461.02 265.87L461.02 267.97L459.2 269.02L457.38 267.97L457.38 265.87zM460.4 265.05L462.22 266.1L462.22 268.2L460.4 269.25L458.58 268.2L458.58 266.1zM461.59 265.14L463.41 266.19L463.41 268.29L461.59 269.34L459.78 268.29L459.78 266.19zM462.79 265.11L464.61 266.16L464.61 268.26L462.79 269.31L460.97 268.26L460.97 266.16zM463.98 264.94L465.8 265.99L465.8 268.09L463.98 269.14L462.16 268.09L462.16 265.99zM465.13 264.6L466.95 265.65L466.95 267.75L465.13 268.8L463.31 267.75L463.31 265.65zM466.21 264.07L468.03 265.12L468.03 267.22L466.21 268.27L464.39 267.22L464.39 265.12zM467.25 263.37L469.07 264.42L469.07 266.52L467.25 267.57L465.43 266.52L465.43 264.42zM468.26 262.53L470.08 263.58L470.08 265.68L468.26 266.73L466.44 265.68L466.44 263.58zM469.27 261.62L471.08 262.67L471.08 264.77L469.27 265.82L467.45 264.77L467.45 262.67zM470.26 260.59L472.07 261.64L472.07 263.74L470.26 264.79L468.44 263.74L468.44 261.64zM471.24 259.43L473.06 260.48L473.06 262.58L471.24 263.63L469.42 262.58L469.42 260.48zM472.23 258.15L474.05 259.2L474.05 261.3L472.23 262.35L470.41 261.3L470.41 259.2zM473.22 256.74L475.04 257.79L475.04 259.89L473.22 260.94L471.4 259.89L471.4 257.79zM474.18 255.16L476 256.21L476 258.31L474.18 259.36L472.36 258.31L472.36 256.21zM475.15 253.38L476.97 254.43L476.97 256.53L475.15 257.58L473.34 256.53L473.34 254.43zM476.24 251.44L478.06 252.49L478.06 254.59L476.24 255.64L474.42 254.59L474.42 252.49zM477.47 249.34L479.29 250.39L479.29 252.49L477.47 253.54L475.65 252.49L475.65 250.39zM480.41 243.5L482.23 244.55L482.23 246.65L480.41 247.7L478.6 246.65L478.6 244.55zM482.39 239.98L484.21 241.03L484.21 243.13L482.39 244.18L480.57 243.13L480.57 241.03zM485.55 235.28L487.37 236.33L487.37 238.43L485.55 239.48L483.73 238.43L483.73 236.33zM489.5 229.41L491.32 230.46L491.32 232.56L489.5 233.61L487.68 232.56L487.68 230.46zM494 222.75L495.82 223.8L495.82 225.91L494 226.95L492.18 225.91L492.18 223.8zM498.98 215.24L500.8 216.29L500.8 218.39L498.98 219.44L497.16 218.39L497.16 216.29zM504.51 207.09L506.33 208.14L506.33 210.25L504.51 211.29L502.69 210.25L502.69 208.14z" fill="#32CD32" stroke="#32CD32" stroke-width="0.5" stroke-linejoin="round"/>
<path d="M456.08 283.11h.01M458.06 278.18h.01M460.03 273.4h.01M462.32 270.43h.01M464.62 267.53h.01M466.28 265.53h.01M468.05 263.8h.01M469.89 262.31h.01M471.77 260.95h.01M473.67 259.72h.01M475.57 258.62h.01M477.56 257.59h.01M479.61 256.6h.01M481.71 255.62h.01M483.86 254.66h.01M486.05 253.69h.01M488.35 252.72h.01M490.76 251.78h.01M493.3 250.9h.01M495.96 250.07h.01M498.7 249.28h.01M501.5 248.58h.01M504.38 248.02h.01M507.34 247.64h.01M510.33 247.47h.01M513.33 247.47h.01M516.33 247.61h.01M519.31 247.93h.01M522.28 248.4h.01M525.21 249.01h.01M528.12 249.75h.01M530.93 250.59h.01M533.66 251.49h.01M536.32 252.44h.01M538.83 253.43h.01M541.19 254.42h.01M543.41 255.39h.01M545.44 256.33h.01M547.32 257.18h.01M549.02 257.99h.01M550.6 258.71h.01M552.13 259.2h.01M553.6 259.48h.01M555.01 259.56h.01M556.33 259.35h.01M557.54 258.85h.01M558.69 258.13h.01M559.77 257.27h.01M560.8 256.2h.01M561.88 255h.01M563.11 253.73h.01M564.46 252.34h.01M566.05 250.92h.01M567.85 249.39h.01M569.71 247.56h.01M574.35 243.18h.01M577.74 239.34h.01M581.14 235.5h.01M585.09 230.96h.01M589.83 225.72h.01M594.57 219.84h.01M600.65 213.27h.01M606.82 205.83h.01M613.53 196.98h.01M620.64 186.8h.01M629.33 175.06h.01M639.28 161.43h.01" fill="none" stroke="#3E3E3E" stroke-width="4.5" stroke-linecap="round"/>
<path d="M413.26 282.01h.01M414.18 278.74h.01M415.25 275.73h.01M416.65 273.09h.01M418.13 270.85h.01M419.62 268.99h.01M421.1 267.45h.01M422.54 266.15h.01M423.9 265.03h.01M425.17 264.06h.01M426.39 263.18h.01M427.66 262.33h.01M428.98 261.53h.01M430.37 260.8h.01M431.82 260.14h.01M433.33 259.55h.01M434.9 259.02h.01M436.54 258.57h.01M438.25 258.23h.01M440.02 258.04h.01M441.8 258.01h.01M443.56 258.13h.01M445.27 258.37h.01M446.95 258.74h.01M448.54 259.24h.01M450.05 259.83h.01M451.49 260.47h.01M452.88 261.12h.01M454.18 261.82h.01M455.41 262.56h.01M456.61 263.27h.01M457.78 263.94h.01M458.92 264.57h.01M460.03 265.19h.01M461.15 265.77h.01M462.28 266.24h.01M463.44 266.57h.01M464.62 266.8h.01M465.82 266.85h.01M467 266.63h.01M468.11 266.14h.01M469.18 265.45h.01M470.23 264.65h.01M471.28 263.75h.01M472.3 262.69h.01M473.32 261.51h.01M474.39 260.22h.01M475.48 258.8h.01M476.62 257.18h.01M477.95 255.42h.01M479.56 253.57h.01M482.39 249.91h.01M484.76 246.39h.01M487.13 242.39h.01M490.29 237.93h.01M493.45 232.69h.01M497.72 226.42h.01M502.93 219.06h.01M508.46 210.76h.01" fill="none" stroke="#20B2AA" stroke-width="4.4" stroke-linecap="round"/>
<path d="M408.91 280.57L409.71 281.37L410.51 280.57L411.31 281.37L410.51 282.17L411.31 282.97L410.51 283.77L409.71 282.97L408.91 283.77L408.11 282.97L408.91 282.17L408.11 281.37zM409.88 277.31L410.68 278.11L411.48 277.31L412.28 278.11L411.48 278.91L412.28 279.71L411.48 280.51L410.68 279.71L409.88 280.51L409.08 279.71L409.88 278.91L409.08 278.11zM410.89 274.26L411.69 275.06L412.49 274.26L413.29 275.06L412.49 275.86L413.29 276.66L412.49 277.46L411.69 276.66L410.89 277.46L410.09 276.66L410.89 275.86L410.09 275.06zM412.22 271.51L413.02 272.31L413.82 271.51L414.62 272.31L413.82 273.11L414.62 273.91L413.82 274.71L413.02 273.91L412.22 274.71L411.42 273.91L412.22 273.11L411.42 272.31zM413.67 269.14L414.47 269.94L415.27 269.14L416.07 269.94L415.27 270.74L416.07 271.54L415.27 272.34L414.47 271.54L413.67 272.34L412.87 271.54L413.67 270.74L412.87 269.94zM415.17 267.17L415.97 267.97L416.77 267.17L417.57 267.97L416.77 268.77L417.57 269.57L416.77 270.37L415.97 269.57L415.17 270.37L414.37 269.57L415.17 268.77L414.37 267.97zM416.69 265.58L417.49 266.38L418.29 265.58L419.09 266.38L418.29 267.18L419.09 267.98L418.29 268.78L417.49 267.98L416.69 268.78L415.89 267.98L416.69 267.18L415.89 266.38zM418.2 264.27L419 265.07L419.8 264.27L420.6 265.07L419.8 265.87L420.6 266.67L419.8 267.47L419 266.67L418.2 267.47L417.4 266.67L418.2 265.87L417.4 265.07zM419.64 263.18L420.44 263.98L421.24 263.18L422.04 263.98L421.24 264.78L422.04 265.58L421.24 266.38L420.44 265.58L419.64 266.38L418.84 265.58L419.64 264.78L418.84 263.98zM420.99 262.26L421.79 263.06L422.59 262.26L423.39 263.06L422.59 263.86L423.39 264.66L422.59 265.46L421.79 264.66L420.99 265.46L420.19 264.66L420.99 263.86L420.19 263.06zM422.27 261.47L423.07 262.27L423.87 261.47L424.67 262.27L423.87 263.07L424.67 263.87L423.87 264.67L423.07 263.87L422.27 264.67L421.47 263.87L422.27 263.07L421.47 262.27zM423.6 260.73L424.4 261.53L425.2 260.73L426 261.53L425.2 262.33L426 263.13L425.2 263.93L424.4 263.13L423.6 263.93L422.8 263.13L423.6 262.33L422.8 261.53zM424.98 260.05L425.78 260.85L426.58 260.05L427.38 260.85L426.58 261.65L427.38 262.45L426.58 263.25L425.78 262.45L424.98 263.25L424.18 262.45L424.98 261.65L424.18 260.85zM426.41 259.43L427.21 260.23L428.01 259.43L428.81 260.23L428.01 261.03L428.81 261.83L428.01 262.63L427.21 261.83L426.41 262.63L425.61 261.83L426.41 261.03L425.61 260.23zM427.89 258.87L428.69 259.67L429.49 258.87L430.29 259.67L429.49 260.47L430.29 261.27L429.49 262.07L428.69 261.27L427.89 262.07L427.09 261.27L427.89 260.47L427.09 259.67zM429.42 258.4L430.22 259.2L431.02 258.4L431.82 259.2L431.02 260L431.82 260.8L431.02 261.6L430.22 260.8L429.42 261.6L428.62 260.8L429.42 260L428.62 259.2zM431.01 257.99L431.81 258.79L432.61 257.99L433.41 258.79L432.61 259.59L433.41 260.39L432.61 261.19L431.81 260.39L431.01 261.19L430.21 260.39L431.01 259.59L430.21 258.79zM432.65 257.66L433.45 258.46L434.25 257.66L435.05 258.46L434.25 259.26L435.05 260.06L434.25 260.86L433.45 260.06L432.65 260.86L431.85 260.06L432.65 259.26L431.85 258.46zM434.36 257.42L435.16 258.22L435.96 257.42L436.76 258.22L435.96 259.02L436.76 259.82L435.96 260.62L435.16 259.82L434.36 260.62L433.56 259.82L434.36 259.02L433.56 258.22zM436.12 257.3L436.92 258.1L437.72 257.3L438.52 258.1L437.72 258.9L438.52 259.7L437.72 260.5L436.92 259.7L436.12 260.5L435.32 259.7L436.12 258.9L435.32 258.1zM437.91 257.34L438.71 258.14L439.51 257.34L440.31 258.14L439.51 258.94L440.31 259.74L439.51 260.54L438.71 259.74L437.91 260.54L437.11 259.74L437.91 258.94L437.11 258.14zM439.68 257.5L440.48 258.3L441.28 257.5L442.08 258.3L441.28 259.1L442.08 259.9L441.28 260.7L440.48 259.9L439.68 260.7L438.88 259.9L439.68 259.1L438.88 258.3zM441.4 257.78L442.2 258.58L443 257.78L443.8 258.58L443 259.38L443.8 260.18L443 260.98L442.2 260.18L441.4 260.98L440.6 260.18L441.4 259.38L440.6 258.58zM443.08 258.15L443.88 258.95L444.68 258.15L445.48 258.95L444.68 259.75L445.48 260.55L444.68 261.35L443.88 260.55L443.08 261.35L442.28 260.55L443.08 259.75L442.28 258.95zM444.7 258.63L445.5 259.43L446.3 258.63L447.1 259.43L446.3 260.23L447.1 261.03L446.3 261.83L445.5 261.03L444.7 261.83L443.9 261.03L444.7 260.23L443.9 259.43zM446.24 259.2L447.04 260L447.84 259.2L448.64 260L447.84 260.8L448.64 261.6L447.84 262.4L447.04 261.6L446.24 262.4L445.44 261.6L446.24 260.8L445.44 260zM447.72 259.82L448.52 260.62L449.32 259.82L450.12 260.62L449.32 261.42L450.12 262.22L449.32 263.02L448.52 262.22L447.72 263.02L446.92 262.22L447.72 261.42L446.92 260.62zM449.14 260.42L449.94 261.22L450.74 260.42L451.54 261.22L450.74 262.02L451.54 262.82L450.74 263.62L449.94 262.82L449.14 263.62L448.34 262.82L449.14 262.02L448.34 261.22zM450.52 261.03L451.32 261.83L452.12 261.03L452.92 261.83L452.12 262.63L452.92 263.43L452.12 264.23L451.32 263.43L450.52 264.23L449.72 263.43L450.52 262.63L449.72 261.83zM451.83 261.65L452.63 262.45L453.43 261.65L454.23 262.45L453.43 263.25L454.23 264.05L453.43 264.85L452.63 264.05L451.83 264.85L451.03 264.05L451.83 263.25L451.03 262.45zM453.1 262.26L453.9 263.06L454.7 262.26L455.5 263.06L454.7 263.86L455.5 264.66L454.7 265.46L453.9 264.66L453.1 265.46L452.3 264.66L453.1 263.86L452.3 263.06zM454.33 262.86L455.13 263.66L455.93 262.86L456.73 263.66L455.93 264.46L456.73 265.26L455.93 266.06L455.13 265.26L454.33 266.06L453.53 265.26L454.33 264.46L453.53 263.66zM455.53 263.42L456.33 264.22L457.13 263.42L457.93 264.22L457.13 265.02L457.93 265.82L457.13 266.62L456.33 265.82L455.53 266.62L454.73 265.82L455.53 265.02L454.73 264.22zM456.68 264L457.48 264.8L458.28 264L459.08 264.8L458.28 265.6L459.08 266.4L458.28 267.2L457.48 266.4L456.68 267.2L455.88 266.4L456.68 265.6L455.88 264.8zM457.81 264.56L458.61 265.36L459.41 264.56L460.21 265.36L459.41 266.16L460.21 266.96L459.41 267.76L458.61 266.96L457.81 267.76L457.01 266.96L457.81 266.16L457.01 265.36zM458.96 265.01L459.76 265.81L460.56 265.01L461.36 265.81L460.56 266.61L461.36 267.41L460.56 268.21L459.76 267.41L458.96 268.21L458.16 267.41L458.96 266.61L458.16 265.81zM460.14 265.27L460.94 266.07L461.74 265.27L462.54 266.07L461.74 266.87L462.54 267.67L461.74 268.47L460.94 267.67L460.14 268.47L459.34 267.67L460.14 266.87L459.34 266.07zM461.33 265.41L462.13 266.21L462.93 265.41L463.73 266.21L462.93 267.01L463.73 267.81L462.93 268.61L462.13 267.81L461.33 268.61L460.53 267.81L461.33 267.01L460.53 266.21zM462.53 265.36L463.33 266.16L464.13 265.36L464.93 266.16L464.13 266.96L464.93 267.76L464.13 268.56L463.33 267.76L462.53 268.56L461.73 267.76L462.53 266.96L461.73 266.16zM463.69 265.04L464.49 265.84L465.29 265.04L466.09 265.84L465.29 266.64L466.09 267.44L465.29 268.24L464.49 267.44L463.69 268.24L462.89 267.44L463.69 266.64L462.89 265.84zM464.73 264.44L465.53 265.24L466.33 264.44L467.13 265.24L466.33 266.04L467.13 266.84L466.33 267.64L465.53 266.84L464.73 267.64L463.93 266.84L464.73 266.04L463.93 265.24zM465.71 263.65L466.51 264.45L467.31 263.65L468.11 264.45L467.31 265.25L468.11 266.05L467.31 266.85L466.51 266.05L465.71 266.85L464.91 266.05L465.71 265.25L464.91 264.45zM466.66 262.74L467.46 263.54L468.26 262.74L469.06 263.54L468.26 264.34L469.06 265.14L468.26 265.94L467.46 265.14L466.66 265.94L465.86 265.14L466.66 264.34L465.86 263.54zM467.6 261.77L468.4 262.57L469.2 261.77L470 262.57L469.2 263.37L470 264.17L469.2 264.97L468.4 264.17L467.6 264.97L466.8 264.17L467.6 263.37L466.8 262.57zM468.51 260.66L469.31 261.46L470.11 260.66L470.91 261.46L470.11 262.26L470.91 263.06L470.11 263.86L469.31 263.06L468.51 263.86L467.71 263.06L468.51 262.26L467.71 261.46zM469.39 259.41L470.19 260.21L470.99 259.41L471.79 260.21L470.99 261.01L471.79 261.81L470.99 262.61L470.19 261.81L469.39 262.61L468.59 261.81L469.39 261.01L468.59 260.21zM470.3 258.04L471.1 258.84L471.9 258.04L472.7 258.84L471.9 259.64L472.7 260.44L471.9 261.24L471.1 260.44L470.3 261.24L469.5 260.44L470.3 259.64L469.5 258.84zM471.27 256.56L472.07 257.36L472.87 256.56L473.67 257.36L472.87 258.16L473.67 258.96L472.87 259.76L472.07 258.96L471.27 259.76L470.47 258.96L471.27 258.16L470.47 257.36zM472.28 254.91L473.08 255.71L473.88 254.91L474.68 255.71L473.88 256.51L474.68 257.31L473.88 258.11L473.08 257.31L472.28 258.11L471.48 257.31L472.28 256.51L471.48 255.71zM473.39 253.09L474.19 253.89L474.99 253.09L475.79 253.89L474.99 254.69L475.79 255.49L474.99 256.29L474.19 255.49L473.39 256.29L472.59 255.49L473.39 254.69L472.59 253.89zM474.68 251.13L475.48 251.93L476.28 251.13L477.08 251.93L476.28 252.73L477.08 253.53L476.28 254.33L475.48 253.53L474.68 254.33L473.88 253.53L474.68 252.73L473.88 251.93zM476.85 247.53L477.65 248.33L478.45 247.53L479.25 248.33L478.45 249.13L479.25 249.93L478.45 250.73L477.65 249.93L476.85 250.73L476.05 249.93L476.85 249.13L476.05 248.33zM478.82 244.79L479.62 245.59L480.43 244.79L481.23 245.59L480.43 246.39L481.23 247.19L480.43 247.99L479.62 247.19L478.82 247.99L478.02 247.19L478.82 246.39L478.02 245.59zM481.59 240.79L482.39 241.59L483.19 240.79L483.99 241.59L483.19 242.39L483.99 243.19L483.19 243.99L482.39 243.19L481.59 243.99L480.79 243.19L481.59 242.39L480.79 241.59zM484.43 236.57L485.23 237.37L486.03 236.57L486.83 237.37L486.03 238.17L486.83 238.97L486.03 239.77L485.23 238.97L484.43 239.77L483.63 238.97L484.43 238.17L483.63 237.37zM487.91 231.09L488.71 231.88L489.51 231.09L490.31 231.88L489.51 232.69L490.31 233.49L489.51 234.28L488.71 233.49L487.91 234.28L487.11 233.49L487.91 232.69L487.11 231.88zM492.65 224.82L493.45 225.62L494.25 224.82L495.05 225.62L494.25 226.42L495.05 227.22L494.25 228.02L493.45 227.22L492.65 228.02L491.85 227.22L492.65 226.42L491.85 225.62zM496.92 217.77L497.72 218.57L498.52 217.77L499.32 218.57L498.52 219.37L499.32 220.17L498.52 220.97L497.72 220.17L496.92 220.97L496.12 220.17L496.92 219.37L496.12 218.57zM502.13 209.47L502.93 210.27L503.73 209.47L504.53 210.27L503.73 211.07L504.53 211.87L503.73 212.67L502.93 211.87L502.13 212.67L501.33 211.87L502.13 211.07L501.33 210.27z" fill="#0B4596" stroke="#0B4596" stroke-width="0.6" stroke-linejoin="round"/>
<path d="M406.08 280.7L408.18 284.9L403.98 284.9zM406.93 277.41L409.03 281.61L404.83 281.61zM407.8 274.28L409.9 278.48L405.7 278.48zM409.06 271.47L411.16 275.67L406.96 275.67zM410.65 269.09L412.75 273.29L408.55 273.29zM412.3 267.18L414.4 271.38L410.2 271.38zM413.92 265.65L416.02 269.85L411.82 269.85zM415.49 264.43L417.59 268.63L413.39 268.63zM416.97 263.46L419.07 267.66L414.87 267.66zM418.34 262.67L420.44 266.87L416.24 266.87zM419.69 261.99L421.79 266.19L417.59 266.19zM421.1 261.38L423.2 265.58L419 265.58zM422.57 260.87L424.67 265.07L420.47 265.07zM424.09 260.46L426.19 264.66L421.99 264.66zM425.67 260.14L427.77 264.34L423.57 264.34zM427.28 259.9L429.38 264.1L425.18 264.1zM428.94 259.73L431.04 263.93L426.84 263.93zM430.64 259.63L432.74 263.83L428.54 263.83zM432.38 259.63L434.48 263.83L430.28 263.83zM434.15 259.75L436.25 263.95L432.05 263.95zM435.92 260.02L438.02 264.22L433.82 264.22zM437.65 260.43L439.75 264.63L435.55 264.63zM439.33 260.93L441.43 265.13L437.23 265.13zM440.97 261.49L443.07 265.69L438.87 265.69zM442.57 262.09L444.67 266.29L440.47 266.29zM444.11 262.79L446.21 266.99L442.01 266.99zM445.56 263.55L447.66 267.75L443.46 267.75zM446.96 264.31L449.06 268.51L444.86 268.51zM448.34 265L450.44 269.2L446.24 269.2zM449.7 265.63L451.8 269.83L447.6 269.83zM451.02 266.22L453.12 270.42L448.92 270.42zM452.31 266.73L454.41 270.93L450.21 270.93zM453.59 267.11L455.69 271.31L451.49 271.31zM454.86 267.35L456.96 271.55L452.76 271.55zM456.1 267.4L458.2 271.6L454 271.6zM457.3 267.25L459.4 271.45L455.2 271.45zM458.46 266.96L460.56 271.16L456.36 271.16zM459.59 266.55L461.69 270.75L457.49 270.75zM460.65 265.99L462.75 270.19L458.55 270.19zM461.64 265.29L463.74 269.49L459.54 269.49zM462.59 264.43L464.69 268.63L460.49 268.63zM463.47 263.42L465.57 267.62L461.37 267.62zM464.25 262.25L466.35 266.45L462.15 266.45zM464.95 260.92L467.05 265.12L462.85 265.12zM465.63 259.48L467.73 263.68L463.53 263.68zM466.38 257.94L468.48 262.14L464.28 262.14zM467.18 256.27L469.28 260.47L465.08 260.47zM468.05 254.36L470.15 258.56L465.95 258.56zM468.95 252.18L471.05 256.38L466.85 256.38zM471.72 246.25L473.82 250.44L469.62 250.44zM473.7 241.78L475.8 245.98L471.6 245.98zM476.86 236.85L478.96 241.05L474.76 241.05zM480.02 231.37L482.12 235.57L477.92 235.57zM483.97 225.34L486.07 229.54L481.87 229.54zM488.71 218.37L490.81 222.57L486.61 222.57zM494.79 210.46L496.89 214.66L492.69 214.66z" fill="#FF6347" stroke="#FF6347" stroke-width="0.5" stroke-linejoin="round"/>
<path d="M405.6 281.86h.01M406.49 278.57h.01M407.39 275.46h.01M408.72 272.69h.01M410.44 270.41h.01M412.13 268.57h.01M413.68 267.02h.01M415.15 265.7h.01M416.54 264.59h.01M417.86 263.69h.01M419.16 262.92h.01M420.51 262.21h.01M421.93 261.57h.01M423.4 261h.01M424.92 260.51h.01M426.5 260.1h.01M428.15 259.77h.01M429.86 259.5h.01M431.63 259.29h.01M433.41 259.16h.01M435.17 259.12h.01M436.91 259.16h.01M438.62 259.29h.01M440.28 259.5h.01M441.88 259.8h.01M443.4 260.19h.01M444.84 260.69h.01M446.18 261.3h.01M447.43 261.97h.01M448.62 262.65h.01M449.76 263.32h.01M450.82 264.05h.01M451.85 264.77h.01M452.9 265.43h.01M453.97 265.98h.01M455.05 266.49h.01M456.18 266.91h.01M457.35 267.17h.01M458.54 267.27h.01M459.73 267.14h.01M460.85 266.72h.01M461.87 266.04h.01M462.85 265.22h.01M463.84 264.34h.01M464.88 263.43h.01M465.95 262.45h.01M467.06 261.38h.01M468.2 260.21h.01M469.36 258.92h.01M470.49 257.43h.01M471.77 255.73h.01M473.36 253.91h.01M477.33 247.01h.01M480.02 242.86h.01M483.18 238.64h.01M486.34 233.47h.01M490.29 227.2h.01M495.03 219.77h.01M500.56 211.54h.01" fill="none" stroke="#6FA82E" stroke-width="3" stroke-linecap="round"/>
<path d="M411.05 281.23h.01M412.52 278.16h.01M414.04 275.33h.01M415.9 272.93h.01M417.82 270.98h.01M419.7 269.44h.01M421.52 268.27h.01M423.21 267.39h.01M424.77 266.73h.01M426.17 266.22h.01M427.5 265.85h.01M428.74 265.63h.01M429.9 265.56h.01M430.99 265.59h.01M432.09 265.71h.01M433.17 265.9h.01M434.24 266.17h.01M435.28 266.51h.01M436.29 266.94h.01M437.27 267.46h.01M438.19 268.05h.01M439.06 268.73h.01M439.84 269.51h.01M440.54 270.39h.01M441.22 271.31h.01M441.93 272.25h.01M444.79 270.66h.01M447.63 267.14h.01M450.79 263.38h.01M453.95 260.09h.01M457.35 256.96h.01M461.06 254.3h.01M463.9 250.93h.01M466.59 248.5h.01M468.96 244.9h.01M471.72 240.83h.01M475.28 236.13h.01M478.76 230.49h.01M483.18 223.84h.01M488.47 216.24h.01M495.03 207.86h.01" fill="none" stroke="#1E8A1E" stroke-width="3.1" stroke-linecap="round"/>
<path d="M462.63 280.81L463.43 281.61L464.23 280.81L465.03 281.61L464.23 282.41L465.03 283.21L464.23 284.01L463.43 283.21L462.63 284.01L461.83 283.21L462.63 282.41L461.83 281.61zM464.92 275.87L465.72 276.67L466.52 275.87L467.32 276.67L466.52 277.47L467.32 278.27L466.52 279.07L465.72 278.27L464.92 279.07L464.12 278.27L464.92 277.47L464.12 276.67zM467.84 270.63L468.64 271.43L469.44 270.63L470.24 271.43L469.44 272.23L470.24 273.03L469.44 273.83L468.64 273.03L467.84 273.83L467.04 273.03L467.84 272.23L467.04 271.43zM470.29 266.48L471.09 267.28L471.89 266.48L472.69 267.28L471.89 268.08L472.69 268.88L471.89 269.68L471.09 268.88L470.29 269.68L469.49 268.88L470.29 268.08L469.49 267.28zM473.06 262.8L473.86 263.6L474.66 262.8L475.46 263.6L474.66 264.4L475.46 265.2L474.66 266L473.86 265.2L473.06 266L472.26 265.2L473.06 264.4L472.26 263.6zM476.06 259.59L476.86 260.39L477.66 259.59L478.46 260.39L477.66 261.19L478.46 261.99L477.66 262.79L476.86 261.99L476.06 262.79L475.26 261.99L476.06 261.19L475.26 260.39zM479.38 256.92L480.18 257.72L480.98 256.92L481.78 257.72L480.98 258.52L481.78 259.32L480.98 260.12L480.18 259.32L479.38 260.12L478.58 259.32L479.38 258.52L478.58 257.72zM482.7 254.58L483.5 255.38L484.3 254.58L485.1 255.38L484.3 256.18L485.1 256.98L484.3 257.78L483.5 256.98L482.7 257.78L481.9 256.98L482.7 256.18L481.9 255.38zM486.88 252.23L487.68 253.03L488.48 252.23L489.28 253.03L488.48 253.83L489.28 254.63L488.48 255.43L487.68 254.63L486.88 255.43L486.08 254.63L486.88 253.83L486.08 253.03zM490 250.43L490.8 251.23L491.6 250.43L492.4 251.23L491.6 252.03L492.4 252.83L491.6 253.63L490.8 252.83L490 253.63L489.2 252.83L490 252.03L489.2 251.23zM493.13 248.9L493.93 249.7L494.73 248.9L495.53 249.7L494.73 250.5L495.53 251.3L494.73 252.1L493.93 251.3L493.13 252.1L492.33 251.3L493.13 250.5L492.33 249.7zM496.34 247.8L497.14 248.6L497.94 247.8L498.74 248.6L497.94 249.4L498.74 250.2L497.94 251L497.14 250.2L496.34 251L495.54 250.2L496.34 249.4L495.54 248.6zM499.52 246.96L500.32 247.76L501.12 246.96L501.92 247.76L501.12 248.56L501.92 249.36L501.12 250.16L500.32 249.36L499.52 250.16L498.72 249.36L499.52 248.56L498.72 247.76zM502.65 246.27L503.45 247.07L504.25 246.27L505.05 247.07L504.25 247.87L505.05 248.67L504.25 249.47L503.45 248.67L502.65 249.47L501.85 248.67L502.65 247.87L501.85 247.07zM505.82 245.8L506.62 246.6L507.42 245.8L508.22 246.6L507.42 247.4L508.22 248.2L507.42 249L506.62 248.2L505.82 249L505.02 248.2L505.82 247.4L505.02 246.6zM509.01 245.72L509.81 246.52L510.61 245.72L511.41 246.52L510.61 247.32L511.41 248.12L510.61 248.92L509.81 248.12L509.01 248.92L508.21 248.12L509.01 247.32L508.21 246.52zM512.18 245.95L512.98 246.75L513.78 245.95L514.58 246.75L513.78 247.55L514.58 248.35L513.78 249.15L512.98 248.35L512.18 249.15L511.38 248.35L512.18 247.55L511.38 246.75zM515.29 246.28L516.09 247.08L516.89 246.28L517.69 247.08L516.89 247.88L517.69 248.68L516.89 249.48L516.09 248.68L515.29 249.48L514.49 248.68L515.29 247.88L514.49 247.08zM518.35 246.69L519.15 247.49L519.95 246.69L520.75 247.49L519.95 248.29L520.75 249.09L519.95 249.89L519.15 249.09L518.35 249.89L517.55 249.09L518.35 248.29L517.55 247.49zM521.36 247.19L522.16 247.99L522.96 247.19L523.76 247.99L522.96 248.79L523.76 249.59L522.96 250.39L522.16 249.59L521.36 250.39L520.56 249.59L521.36 248.79L520.56 247.99zM524.3 247.82L525.1 248.62L525.9 247.82L526.7 248.62L525.9 249.42L526.7 250.22L525.9 251.02L525.1 250.22L524.3 251.02L523.5 250.22L524.3 249.42L523.5 248.62zM527.21 248.57L528.01 249.37L528.81 248.57L529.61 249.37L528.81 250.17L529.61 250.97L528.81 251.77L528.01 250.97L527.21 251.77L526.41 250.97L527.21 250.17L526.41 249.37zM530.09 249.38L530.89 250.18L531.69 249.38L532.49 250.18L531.69 250.98L532.49 251.78L531.69 252.58L530.89 251.78L530.09 252.58L529.29 251.78L530.09 250.98L529.29 250.18zM532.88 250.23L533.68 251.03L534.48 250.23L535.28 251.03L534.48 251.83L535.28 252.63L534.48 253.43L533.68 252.63L532.88 253.43L532.08 252.63L532.88 251.83L532.08 251.03zM535.57 251.1L536.37 251.9L537.17 251.1L537.97 251.9L537.17 252.7L537.97 253.5L537.17 254.3L536.37 253.5L535.57 254.3L534.77 253.5L535.57 252.7L534.77 251.9zM538.12 252.04L538.92 252.84L539.72 252.04L540.52 252.84L539.72 253.64L540.52 254.44L539.72 255.24L538.92 254.44L538.12 255.24L537.32 254.44L538.12 253.64L537.32 252.84zM540.44 253.2L541.24 254L542.04 253.2L542.84 254L542.04 254.8L542.84 255.6L542.04 256.4L541.24 255.6L540.44 256.4L539.64 255.6L540.44 254.8L539.64 254zM542.62 254.26L543.42 255.06L544.22 254.26L545.02 255.06L544.22 255.86L545.02 256.66L544.22 257.46L543.42 256.66L542.62 257.46L541.82 256.66L542.62 255.86L541.82 255.06zM544.64 255.24L545.44 256.04L546.24 255.24L547.04 256.04L546.24 256.84L547.04 257.64L546.24 258.44L545.44 257.64L544.64 258.44L543.84 257.64L544.64 256.84L543.84 256.04zM546.47 256.19L547.27 256.99L548.07 256.19L548.87 256.99L548.07 257.79L548.87 258.59L548.07 259.39L547.27 258.59L546.47 259.39L545.67 258.59L546.47 257.79L545.67 256.99zM548.12 257.11L548.92 257.91L549.72 257.11L550.52 257.91L549.72 258.71L550.52 259.51L549.72 260.31L548.92 259.51L548.12 260.31L547.32 259.51L548.12 258.71L547.32 257.91zM549.69 257.85L550.49 258.65L551.29 257.85L552.09 258.65L551.29 259.45L552.09 260.25L551.29 261.05L550.49 260.25L549.69 261.05L548.89 260.25L549.69 259.45L548.89 258.65zM551.16 258.44L551.96 259.24L552.76 258.44L553.56 259.24L552.76 260.04L553.56 260.84L552.76 261.64L551.96 260.84L551.16 261.64L550.36 260.84L551.16 260.04L550.36 259.24zM552.58 258.92L553.38 259.72L554.18 258.92L554.98 259.72L554.18 260.52L554.98 261.32L554.18 262.12L553.38 261.32L552.58 262.12L551.78 261.32L552.58 260.52L551.78 259.72zM553.95 259.23L554.75 260.03L555.55 259.23L556.35 260.03L555.55 260.83L556.35 261.63L555.55 262.43L554.75 261.63L553.95 262.43L553.15 261.63L553.95 260.83L553.15 260.03zM555.26 259.37L556.06 260.17L556.86 259.37L557.66 260.17L556.86 260.97L557.66 261.77L556.86 262.57L556.06 261.77L555.26 262.57L554.46 261.77L555.26 260.97L554.46 260.17zM556.56 259.39L557.36 260.19L558.16 259.39L558.96 260.19L558.16 260.99L558.96 261.79L558.16 262.59L557.36 261.79L556.56 262.59L555.76 261.79L556.56 260.99L555.76 260.19zM557.84 259.21L558.64 260.01L559.44 259.21L560.24 260.01L559.44 260.81L560.24 261.61L559.44 262.41L558.64 261.61L557.84 262.41L557.04 261.61L557.84 260.81L557.04 260.01zM559.01 258.66L559.81 259.46L560.61 258.66L561.41 259.46L560.61 260.26L561.41 261.06L560.61 261.86L559.81 261.06L559.01 261.86L558.21 261.06L559.01 260.26L558.21 259.46zM559.92 257.69L560.72 258.49L561.52 257.69L562.32 258.49L561.52 259.29L562.32 260.09L561.52 260.89L560.72 260.09L559.92 260.89L559.12 260.09L559.92 259.29L559.12 258.49zM560.77 256.53L561.57 257.33L562.37 256.53L563.17 257.33L562.37 258.13L563.17 258.93L562.37 259.73L561.57 258.93L560.77 259.73L559.97 258.93L560.77 258.13L559.97 257.33zM561.82 255.41L562.62 256.21L563.42 255.41L564.22 256.21L563.42 257.01L564.22 257.81L563.42 258.61L562.62 257.81L561.82 258.61L561.02 257.81L561.82 257.01L561.02 256.21zM563.07 254.31L563.87 255.11L564.67 254.31L565.47 255.11L564.67 255.91L565.47 256.71L564.67 257.51L563.87 256.71L563.07 257.51L562.27 256.71L563.07 255.91L562.27 255.11zM564.48 253.12L565.28 253.92L566.08 253.12L566.88 253.92L566.08 254.72L566.88 255.52L566.08 256.32L565.28 255.52L564.48 256.32L563.68 255.52L564.48 254.72L563.68 253.92zM566.04 251.79L566.84 252.59L567.64 251.79L568.44 252.59L567.64 253.39L568.44 254.19L567.64 254.99L566.84 254.19L566.04 254.99L565.24 254.19L566.04 253.39L565.24 252.59zM567.78 250.33L568.58 251.13L569.38 250.33L570.18 251.13L569.38 251.93L570.18 252.73L569.38 253.53L568.58 252.73L567.78 253.53L566.98 252.73L567.78 251.93L566.98 251.13zM569.74 248.7L570.54 249.5L571.34 248.7L572.14 249.5L571.34 250.3L572.14 251.1L571.34 251.9L570.54 251.1L569.74 251.9L568.94 251.1L569.74 250.3L568.94 249.5zM571.9 246.83L572.7 247.63L573.5 246.83L574.3 247.63L573.5 248.43L574.3 249.23L573.5 250.03L572.7 249.23L571.9 250.03L571.1 249.23L571.9 248.43L571.1 247.63zM575.6 243.85L576.4 244.65L577.2 243.85L578 244.65L577.2 245.45L578 246.25L577.2 247.05L576.4 246.25L575.6 247.05L574.8 246.25L575.6 245.45L574.8 244.65zM579.23 240.48L580.03 241.28L580.83 240.48L581.63 241.28L580.83 242.08L581.63 242.88L580.83 243.68L580.03 242.88L579.23 243.68L578.43 242.88L579.23 242.08L578.43 241.28zM583.34 237.04L584.14 237.84L584.94 237.04L585.74 237.84L584.94 238.64L585.74 239.44L584.94 240.24L584.14 239.44L583.34 240.24L582.54 239.44L583.34 238.64L582.54 237.84zM587.85 233.2L588.64 234L589.44 233.2L590.25 234L589.44 234.8L590.25 235.6L589.44 236.4L588.64 235.6L587.85 236.4L587.04 235.6L587.85 234.8L587.04 234zM592.66 229.13L593.46 229.93L594.26 229.13L595.06 229.93L594.26 230.73L595.06 231.53L594.26 232.33L593.46 231.53L592.66 232.33L591.86 231.53L592.66 230.73L591.86 229.93zM596.93 224.04L597.73 224.84L598.53 224.04L599.33 224.84L598.53 225.64L599.33 226.44L598.53 227.24L597.73 226.44L596.93 227.24L596.13 226.44L596.93 225.64L596.13 224.84zM602.46 218.56L603.26 219.36L604.06 218.56L604.86 219.36L604.06 220.16L604.86 220.96L604.06 221.76L603.26 220.96L602.46 221.76L601.66 220.96L602.46 220.16L601.66 219.36zM607.99 212.29L608.79 213.09L609.59 212.29L610.39 213.09L609.59 213.89L610.39 214.69L609.59 215.49L608.79 214.69L607.99 215.49L607.19 214.69L607.99 213.89L607.19 213.09zM614.31 205.56L615.11 206.36L615.91 205.56L616.71 206.36L615.91 207.16L616.71 207.96L615.91 208.76L615.11 207.96L614.31 208.76L613.51 207.96L614.31 207.16L613.51 206.36zM621.89 198.2L622.69 199L623.49 198.2L624.29 199L623.49 199.8L624.29 200.6L623.49 201.4L622.69 200.6L621.89 201.4L621.09 200.6L621.89 199.8L621.09 199zM629.64 189.59L630.44 190.39L631.24 189.59L632.04 190.39L631.24 191.19L632.04 191.99L631.24 192.79L630.44 191.99L629.64 192.79L628.84 191.99L629.64 191.19L628.84 190.39zM638.01 179.56L638.81 180.36L639.61 179.56L640.41 180.36L639.61 181.16L640.41 181.96L639.61 182.76L638.81 181.96L638.01 182.76L637.21 181.96L638.01 181.16L637.21 180.36zM647.49 168.05L648.29 168.85L649.09 168.05L649.89 168.85L649.09 169.65L649.89 170.45L649.09 171.25L648.29 170.45L647.49 171.25L646.69 170.45L647.49 169.65L646.69 168.85zM657.76 154.66L658.56 155.46L659.36 154.66L660.16 155.46L659.36 156.26L660.16 157.06L659.36 157.86L658.56 157.06L657.76 157.86L656.96 157.06L657.76 156.26L656.96 155.46zM669.61 139.47L670.41 140.27L671.21 139.47L672.01 140.27L671.21 141.07L672.01 141.87L671.21 142.67L670.41 141.87L669.61 142.67L668.81 141.87L669.61 141.07L668.81 140.27z" fill="#D31F2C" stroke="#D31F2C" stroke-width="0.6" stroke-linejoin="round"/>
<path d="M433.88 282.56h.01M435.78 276.77h.01M438.7 271.68h.01M441.47 267.61h.01M444.47 264.24h.01M447.31 261.19h.01M450.79 258.52h.01M453.95 256.18h.01M457.35 254.3h.01M461.45 252.26h.01M465.01 250.69h.01M468.06 249.72h.01M470.52 249.07h.01M472.81 248.51h.01M474.93 248.05h.01M476.91 247.68h.01M478.74 247.41h.01M480.49 247.2h.01M482.19 247.04h.01M483.83 246.92h.01M485.42 246.83h.01M486.96 246.79h.01M488.44 246.77h.01M489.88 246.79h.01M491.27 246.83h.01M492.66 246.89h.01M494.03 246.97h.01M495.39 247.08h.01M496.73 247.22h.01M498.06 247.38h.01M499.37 247.58h.01M500.67 247.81h.01M501.94 248.09h.01M503.2 248.41h.01M504.42 248.78h.01M505.61 249.18h.01M506.78 249.62h.01M507.92 250.1h.01M509.03 250.59h.01M510.11 251.12h.01M511.17 251.68h.01M512.21 252.28h.01M513.23 252.91h.01M514.25 253.55h.01M515.26 254.19h.01M516.27 254.84h.01M517.29 255.48h.01M518.3 256.12h.01M519.29 256.77h.01M520.27 257.42h.01M521.23 258.07h.01M522.19 258.7h.01M523.14 259.32h.01M524.09 259.92h.01M525.05 260.48h.01M526 261.04h.01M526.94 261.61h.01M527.88 262.17h.01M528.86 262.68h.01M529.89 263.07h.01M530.97 263.26h.01M532.08 263.23h.01M533.19 263h.01M534.27 262.57h.01M535.28 261.95h.01M536.24 261.08h.01M537.21 260.01h.01M538.24 258.8h.01M539.37 257.46h.01M540.63 255.83h.01M542.09 253.87h.01M546.14 249.21h.01M549.54 245.6h.01M552.7 242.08h.01M556.41 237.62h.01M559.81 233.55h.01M563.76 228.61h.01M568.03 222.82h.01M573 216.48h.01M578.77 208.57h.01M585.09 199.49h.01M592.52 189.31h.01M601.13 177.56h.01" fill="none" stroke="#7F7F7F" stroke-width="2.8" stroke-linecap="round"/>
<path d="M437.4 279.76h4.5v4.5h-4.5zM439.77 273.5h4.5v4.5h-4.5zM442.54 268.49h4.5v4.5h-4.5zM445.38 264.73h4.5v4.5h-4.5zM448.38 260.97h4.5v4.5h-4.5zM451.7 257.84h4.5v4.5h-4.5zM454.86 254.55h4.5v4.5h-4.5zM458.81 252.2h4.5v4.5h-4.5zM463.23 250.24h4.5v4.5h-4.5zM466.71 249.23h4.5v4.5h-4.5zM470.66 248.44h4.5v4.5h-4.5zM475.4 247.66h4.5v4.5h-4.5zM480.14 246.88h4.5v4.5h-4.5zM484.88 246.41h4.5v4.5h-4.5zM489.48 246.25h4.5v4.5h-4.5zM494.07 246.42h4.5v4.5h-4.5zM498.44 246.76h4.5v4.5h-4.5zM502.2 247.35h4.5v4.5h-4.5zM505.22 248.36h4.5v4.5h-4.5zM507.25 249.36h4.5v4.5h-4.5zM508.93 250.33h4.5v4.5h-4.5zM510.39 251.22h4.5v4.5h-4.5zM511.67 252h4.5v4.5h-4.5zM512.78 252.7h4.5v4.5h-4.5zM513.83 253.39h4.5v4.5h-4.5zM514.85 254.07h4.5v4.5h-4.5zM515.84 254.73h4.5v4.5h-4.5zM516.81 255.35h4.5v4.5h-4.5zM517.75 255.95h4.5v4.5h-4.5zM518.68 256.52h4.5v4.5h-4.5zM519.6 257.08h4.5v4.5h-4.5zM520.51 257.63h4.5v4.5h-4.5zM521.42 258.16h4.5v4.5h-4.5zM522.31 258.68h4.5v4.5h-4.5zM523.2 259.19h4.5v4.5h-4.5zM524.07 259.68h4.5v4.5h-4.5zM524.92 260.2h4.5v4.5h-4.5zM525.78 260.71h4.5v4.5h-4.5zM526.68 261.16h4.5v4.5h-4.5zM527.63 261.46h4.5v4.5h-4.5zM528.61 261.65h4.5v4.5h-4.5zM529.61 261.74h4.5v4.5h-4.5zM530.61 261.73h4.5v4.5h-4.5zM531.6 261.61h4.5v4.5h-4.5zM532.56 261.34h4.5v4.5h-4.5zM533.46 260.89h4.5v4.5h-4.5zM534.32 260.28h4.5v4.5h-4.5zM535.16 259.58h4.5v4.5h-4.5zM536.02 258.81h4.5v4.5h-4.5zM536.89 258.01h4.5v4.5h-4.5zM537.78 257.09h4.5v4.5h-4.5zM538.7 256.06h4.5v4.5h-4.5zM539.69 254.92h4.5v4.5h-4.5zM540.76 253.69h4.5v4.5h-4.5zM541.94 252.37h4.5v4.5h-4.5zM543.26 250.89h4.5v4.5h-4.5zM544.71 249.23h4.5v4.5h-4.5zM546.32 247.35h4.5v4.5h-4.5zM548.09 245.21h4.5v4.5h-4.5zM550.11 242.85h4.5v4.5h-4.5zM552.45 240.3h4.5v4.5h-4.5zM557.56 235.13h4.5v4.5h-4.5zM560.96 230.75h4.5v4.5h-4.5zM565.46 225.5h4.5v4.5h-4.5zM570.2 219.47h4.5v4.5h-4.5zM575.49 212.19h4.5v4.5h-4.5zM581.26 204.28h4.5v4.5h-4.5zM587.58 194.97h4.5v4.5h-4.5zM595.01 184.24h4.5v4.5h-4.5zM603.7 171.71h4.5v4.5h-4.5z" fill="#D8541A"/>
<path d="M392.4 275.75H684.3" stroke="#808080" stroke-opacity="0.78" stroke-width="1.5" fill="none"/>
</g>
<path d="M394.7 290.4v-2.4M394.7 1.5v2.4M402.6 290.4v-2.4M402.6 1.5v2.4M410.5 290.4v-2.4M410.5 1.5v2.4M418.4 290.4v-4.6M418.4 1.5v4.6M426.3 290.4v-2.4M426.3 1.5v2.4M434.2 290.4v-2.4M434.2 1.5v2.4M442.1 290.4v-2.4M442.1 1.5v2.4M450 290.4v-2.4M450 1.5v2.4M457.9 290.4v-4.6M457.9 1.5v4.6M465.8 290.4v-2.4M465.8 1.5v2.4M473.7 290.4v-2.4M473.7 1.5v2.4M481.6 290.4v-2.4M481.6 1.5v2.4M489.5 290.4v-2.4M489.5 1.5v2.4M497.4 290.4v-4.6M497.4 1.5v4.6M505.3 290.4v-2.4M505.3 1.5v2.4M513.2 290.4v-2.4M513.2 1.5v2.4M521.1 290.4v-2.4M521.1 1.5v2.4M529 290.4v-2.4M529 1.5v2.4M536.9 290.4v-4.6M536.9 1.5v4.6M544.8 290.4v-2.4M544.8 1.5v2.4M552.7 290.4v-2.4M552.7 1.5v2.4M560.6 290.4v-2.4M560.6 1.5v2.4M568.5 290.4v-2.4M568.5 1.5v2.4M576.4 290.4v-4.6M576.4 1.5v4.6M584.3 290.4v-2.4M584.3 1.5v2.4M592.2 290.4v-2.4M592.2 1.5v2.4M600.1 290.4v-2.4M600.1 1.5v2.4M608 290.4v-2.4M608 1.5v2.4M615.9 290.4v-4.6M615.9 1.5v4.6M623.8 290.4v-2.4M623.8 1.5v2.4M631.7 290.4v-2.4M631.7 1.5v2.4M639.6 290.4v-2.4M639.6 1.5v2.4M647.5 290.4v-2.4M647.5 1.5v2.4M655.4 290.4v-4.6M655.4 1.5v4.6M663.3 290.4v-2.4M663.3 1.5v2.4M671.2 290.4v-2.4M671.2 1.5v2.4M679.1 290.4v-2.4M679.1 1.5v2.4M392.4 283.58h2.4M684.3 283.58h-2.4M392.4 275.75h4.6M684.3 275.75h-4.6M392.4 267.92h2.4M684.3 267.92h-2.4M392.4 260.09h2.4M684.3 260.09h-2.4M392.4 252.26h2.4M684.3 252.26h-2.4M392.4 244.43h2.4M684.3 244.43h-2.4M392.4 236.6h4.6M684.3 236.6h-4.6M392.4 228.77h2.4M684.3 228.77h-2.4M392.4 220.94h2.4M684.3 220.94h-2.4M392.4 213.11h2.4M684.3 213.11h-2.4M392.4 205.28h2.4M684.3 205.28h-2.4M392.4 197.45h4.6M684.3 197.45h-4.6M392.4 189.62h2.4M684.3 189.62h-2.4M392.4 181.79h2.4M684.3 181.79h-2.4M392.4 173.96h2.4M684.3 173.96h-2.4M392.4 166.13h2.4M684.3 166.13h-2.4M392.4 158.3h4.6M684.3 158.3h-4.6M392.4 150.47h2.4M684.3 150.47h-2.4M392.4 142.64h2.4M684.3 142.64h-2.4M392.4 134.81h2.4M684.3 134.81h-2.4M392.4 126.98h2.4M684.3 126.98h-2.4M392.4 119.15h4.6M684.3 119.15h-4.6M392.4 111.32h2.4M684.3 111.32h-2.4M392.4 103.49h2.4M684.3 103.49h-2.4M392.4 95.66h2.4M684.3 95.66h-2.4M392.4 87.83h2.4M684.3 87.83h-2.4M392.4 80h4.6M684.3 80h-4.6M392.4 72.17h2.4M684.3 72.17h-2.4M392.4 64.34h2.4M684.3 64.34h-2.4M392.4 56.51h2.4M684.3 56.51h-2.4M392.4 48.68h2.4M684.3 48.68h-2.4M392.4 40.85h4.6M684.3 40.85h-4.6M392.4 33.02h2.4M684.3 33.02h-2.4M392.4 25.19h2.4M684.3 25.19h-2.4M392.4 17.36h2.4M684.3 17.36h-2.4M392.4 9.53h2.4M684.3 9.53h-2.4" fill="none" stroke="#000" stroke-width="0.8"/>
<rect x="392.4" y="1.5" width="291.9" height="288.9" fill="none" stroke="#000" stroke-width="0.9"/>
<g font-family="'DejaVu Sans', 'Liberation Sans', sans-serif" font-size="9px" fill="#000"><text x="418.4" y="304" text-anchor="middle">30</text><text x="457.9" y="304" text-anchor="middle">35</text><text x="497.4" y="304" text-anchor="middle">40</text><text x="536.9" y="304" text-anchor="middle">45</text><text x="576.4" y="304" text-anchor="middle">50</text><text x="615.9" y="304" text-anchor="middle">55</text><text x="655.4" y="304" text-anchor="middle">60</text><text x="386.4" y="279.05" text-anchor="end">0</text><text x="386.4" y="239.9" text-anchor="end">5</text><text x="386.4" y="200.75" text-anchor="end">10</text><text x="386.4" y="161.6" text-anchor="end">15</text><text x="386.4" y="122.45" text-anchor="end">20</text><text x="386.4" y="83.3" text-anchor="end">25</text><text x="386.4" y="44.15" text-anchor="end">30</text></g>
<g transform="translate(538.15 320.9)"><text class="ax" y="0"><tspan x="-30.8" textLength="17.8" lengthAdjust="spacingAndGlyphs">Re(</tspan><tspan x="-10.7" font-style="italic" textLength="6.9" lengthAdjust="spacingAndGlyphs">Z</tspan><tspan x="-2">)</tspan><tspan x="4.9" dy="0.4" class="sans" textLength="26.0" lengthAdjust="spacingAndGlyphs"> [mΩ]</tspan></text></g>
<g transform="translate(365.9 146.25) rotate(-90)"><text class="ax" y="0"><tspan x="-33.1" textLength="22.4" lengthAdjust="spacingAndGlyphs">-Im(</tspan><tspan x="-8.4" font-style="italic" textLength="6.9" lengthAdjust="spacingAndGlyphs">Z</tspan><tspan x="0.3">)</tspan><tspan x="7.2" dy="0.9" class="sans" textLength="26.0" lengthAdjust="spacingAndGlyphs"> [mΩ]</tspan></text></g>
<text x="521.2" y="342" text-anchor="middle" class="cap" textLength="14.6" lengthAdjust="spacingAndGlyphs">(b)</text>
<rect x="397.1" y="6" width="271.7" height="81.8" rx="2.6" fill="#fff" stroke="#cdcdcd" stroke-width="1.4"/>
<path d="M410.2 11.94L410.93 13.08L412.24 13.42L411.39 14.47L411.46 15.83L410.2 15.33L408.94 15.83L409.01 14.47L408.16 13.42L409.47 13.08z" fill="#FFCB05" stroke="#FFCB05" stroke-width="0.8" stroke-linejoin="round"/>
<path d="M410.2 27.22h.01" fill="none" stroke="#6B6565" stroke-width="4.4" stroke-linecap="round"/>
<path d="M410.2 38.34L412.02 39.39L412.02 41.49L410.2 42.54L408.38 41.49L408.38 39.39z" fill="#32CD32" stroke="#32CD32" stroke-width="0.5" stroke-linejoin="round"/>
<path d="M410.2 53.66h.01" fill="none" stroke="#3E3E3E" stroke-width="4.5" stroke-linecap="round"/>
<path d="M410.2 66.88h.01" fill="none" stroke="#20B2AA" stroke-width="4.4" stroke-linecap="round"/>
<path d="M409.4 78.5L410.2 79.3L411 78.5L411.8 79.3L411 80.1L411.8 80.9L411 81.7L410.2 80.9L409.4 81.7L408.6 80.9L409.4 80.1L408.6 79.3z" fill="#0B4596" stroke="#0B4596" stroke-width="0.6" stroke-linejoin="round"/>
<path d="M554.6 11.9L556.7 16.1L552.5 16.1z" fill="#FF6347" stroke="#FF6347" stroke-width="0.5" stroke-linejoin="round"/>
<path d="M554.6 27.22h.01" fill="none" stroke="#6FA82E" stroke-width="3" stroke-linecap="round"/>
<path d="M554.6 40.44h.01" fill="none" stroke="#1E8A1E" stroke-width="3.1" stroke-linecap="round"/>
<path d="M553.8 52.06L554.6 52.86L555.4 52.06L556.2 52.86L555.4 53.66L556.2 54.46L555.4 55.26L554.6 54.46L553.8 55.26L553 54.46L553.8 53.66L553 52.86z" fill="#D31F2C" stroke="#D31F2C" stroke-width="0.6" stroke-linejoin="round"/>
<path d="M554.6 66.88h.01" fill="none" stroke="#7F7F7F" stroke-width="2.8" stroke-linecap="round"/>
<path d="M552.35 77.85h4.5v4.5h-4.5z" fill="#D8541A"/>
<g class="lg" transform="scale(1.18 1)"><text x="362.46" y="16.9" textLength="66.02" lengthAdjust="spacing">10 mHz PC-PD</text><text x="362.46" y="30.12" textLength="71.19" lengthAdjust="spacing">320 mHz PC-PD</text><text x="362.46" y="43.34" textLength="71.19" lengthAdjust="spacing">500 mHz PC-PD</text><text x="362.46" y="56.56" textLength="27.71" lengthAdjust="spacing">CC-ref</text><text x="362.46" y="69.78" textLength="83.05" lengthAdjust="spacing">1000 mHz PC-NPD</text><text x="362.46" y="83" textLength="75.17" lengthAdjust="spacing">1000 mHz PC-PD</text><text x="484.66" y="16.9" textLength="78.31" lengthAdjust="spacing">100 mHz PC-NPD</text><text x="484.66" y="30.12" textLength="70.59" lengthAdjust="spacing">100 mHz PC-PD</text><text x="484.66" y="43.34" textLength="42.8" lengthAdjust="spacing">Fresh Cell</text><text x="484.66" y="56.56" textLength="26.27" lengthAdjust="spacing">1C ref</text><text x="484.66" y="69.78" textLength="71.19" lengthAdjust="spacing">50 Hz PC-PD-50</text><text x="484.66" y="83" textLength="71.19" lengthAdjust="spacing">10 Hz PC-PD-50</text></g>
</g>
<g id="plot-c">
<path d="M237 650.4V361.5M280.27 650.4V361.5M323.54 650.4V361.5M366.81 650.4V361.5M410.08 650.4V361.5M453.35 650.4V361.5M496.62 650.4V361.5M217.5 599.4H508.6M217.5 556.4H508.6M217.5 513.4H508.6M217.5 470.4H508.6M217.5 427.4H508.6M217.5 384.4H508.6" fill="none" stroke="#000" stroke-opacity="0.6" stroke-width="0.8" stroke-dasharray="2.7 1.4"/>
<clipPath id="clip-c"><rect x="217.5" y="361.5" width="291.1" height="288.9"/></clipPath>
<g clip-path="url(#clip-c)">
<path d="M238.51 642.92L239.25 644.06L240.56 644.4L239.7 645.45L239.78 646.81L238.51 646.31L237.25 646.81L237.33 645.45L236.47 644.4L237.78 644.06zM238.92 641.69L239.65 642.84L240.96 643.18L240.1 644.23L240.18 645.58L238.92 645.09L237.65 645.58L237.73 644.23L236.87 643.18L238.18 642.84zM239.29 640.48L240.02 641.62L241.34 641.96L240.48 643.01L240.55 644.37L239.29 643.87L238.03 644.37L238.1 643.01L237.25 641.96L238.56 641.62zM239.72 639.29L240.45 640.43L241.76 640.78L240.9 641.83L240.98 643.18L239.72 642.69L238.45 643.18L238.53 641.83L237.67 640.78L238.98 640.43zM240.26 638.17L240.99 639.31L242.3 639.65L241.44 640.7L241.52 642.06L240.26 641.57L238.99 642.06L239.07 640.7L238.21 639.65L239.52 639.31zM240.9 637.12L241.64 638.26L242.95 638.6L242.09 639.65L242.17 641.01L240.9 640.52L239.64 641.01L239.72 639.65L238.86 638.6L240.17 638.26zM241.66 636.06L242.39 637.2L243.7 637.55L242.84 638.6L242.92 639.95L241.66 639.46L240.39 639.95L240.47 638.6L239.61 637.55L240.92 637.2zM242.51 634.99L243.24 636.13L244.55 636.48L243.69 637.53L243.77 638.88L242.51 638.39L241.24 638.88L241.32 637.53L240.46 636.48L241.77 636.13zM243.44 633.9L244.17 635.04L245.48 635.38L244.62 636.43L244.7 637.79L243.44 637.29L242.17 637.79L242.25 636.43L241.39 635.38L242.7 635.04zM244.44 632.77L245.17 633.91L246.48 634.25L245.62 635.3L245.7 636.66L244.44 636.17L243.18 636.66L243.25 635.3L242.39 634.25L243.71 633.91zM245.52 631.6L246.25 632.75L247.57 633.09L246.71 634.14L246.78 635.49L245.52 635L244.26 635.49L244.33 634.14L243.48 633.09L244.79 632.75zM246.74 630.41L247.47 631.55L248.79 631.89L247.93 632.94L248 634.3L246.74 633.81L245.48 634.3L245.56 632.94L244.7 631.89L246.01 631.55zM248.1 629.15L248.84 630.29L250.15 630.63L249.29 631.68L249.37 633.04L248.1 632.55L246.84 633.04L246.92 631.68L246.06 630.63L247.37 630.29zM249.59 627.78L250.32 628.92L251.63 629.27L250.78 630.32L250.85 631.67L249.59 631.18L248.33 631.67L248.4 630.32L247.55 629.27L248.86 628.92zM251.16 626.26L251.9 627.4L253.21 627.74L252.35 628.79L252.43 630.15L251.16 629.65L249.9 630.15L249.98 628.79L249.12 627.74L250.43 627.4zM252.83 624.54L253.56 625.68L254.88 626.02L254.02 627.07L254.09 628.43L252.83 627.93L251.57 628.43L251.64 627.07L250.79 626.02L252.1 625.68zM254.67 622.6L255.4 623.74L256.71 624.09L255.85 625.13L255.93 626.49L254.67 626L253.4 626.49L253.48 625.13L252.62 624.09L253.93 623.74zM256.73 620.46L257.47 621.6L258.78 621.95L257.92 623L258 624.35L256.73 623.86L255.47 624.35L255.55 623L254.69 621.95L256 621.6zM259.08 618.05L259.82 619.2L261.13 619.54L260.27 620.59L260.35 621.94L259.08 621.45L257.82 621.94L257.9 620.59L257.04 619.54L258.35 619.2zM262.24 615.23L262.97 616.37L264.28 616.71L263.42 617.76L263.5 619.12L262.24 618.62L260.97 619.12L261.05 617.76L260.19 616.71L261.5 616.37zM266.42 612.19L267.15 613.33L268.47 613.68L267.61 614.73L267.68 616.08L266.42 615.59L265.16 616.08L265.24 614.73L264.38 613.68L265.69 613.33zM271.16 608.79L271.89 609.94L273.2 610.28L272.34 611.33L272.42 612.68L271.16 612.19L269.89 612.68L269.97 611.33L269.11 610.28L270.42 609.94zM276.59 605.61L277.33 606.76L278.64 607.1L277.78 608.15L277.86 609.5L276.59 609.01L275.33 609.5L275.41 608.15L274.55 607.1L275.86 606.76zM282.47 602.37L283.2 603.51L284.52 603.86L283.66 604.91L283.73 606.26L282.47 605.77L281.21 606.26L281.29 604.91L280.43 603.86L281.74 603.51zM289.21 599.96L289.94 601.1L291.26 601.45L290.4 602.5L290.48 603.85L289.21 603.36L287.95 603.85L288.03 602.5L287.17 601.45L288.48 601.1zM296.28 598.27L297.01 599.41L298.33 599.76L297.47 600.81L297.54 602.16L296.28 601.67L295.02 602.16L295.1 600.81L294.24 599.76L295.55 599.41zM303.34 597.29L304.07 598.43L305.38 598.78L304.52 599.83L304.6 601.18L303.34 600.69L302.08 601.18L302.15 599.83L301.29 598.78L302.61 598.43zM310.63 598.08L311.36 599.22L312.68 599.56L311.82 600.61L311.89 601.97L310.63 601.47L309.37 601.97L309.44 600.61L308.59 599.56L309.9 599.22zM317.58 599.44L318.31 600.58L319.62 600.93L318.76 601.98L318.84 603.33L317.58 602.84L316.31 603.33L316.39 601.98L315.53 600.93L316.84 600.58zM323.95 601.26L324.69 602.41L326 602.75L325.14 603.8L325.22 605.15L323.95 604.66L322.69 605.15L322.77 603.8L321.91 602.75L323.22 602.41zM329.43 603.97L330.16 605.11L331.48 605.46L330.62 606.51L330.69 607.86L329.43 607.37L328.17 607.86L328.24 606.51L327.39 605.46L328.7 605.11zM334.37 606.85L335.1 607.99L336.41 608.34L335.55 609.39L335.63 610.74L334.37 610.25L333.1 610.74L333.18 609.39L332.32 608.34L333.63 607.99zM339.05 609.39L339.78 610.53L341.09 610.88L340.23 611.92L340.31 613.28L339.05 612.79L337.78 613.28L337.86 611.92L337 610.88L338.31 610.53zM343.39 611.69L344.13 612.83L345.44 613.17L344.58 614.22L344.66 615.58L343.39 615.08L342.13 615.58L342.21 614.22L341.35 613.17L342.66 612.83zM347.51 613.44L348.24 614.58L349.55 614.92L348.69 615.97L348.77 617.32L347.51 616.83L346.24 617.32L346.32 615.97L345.46 614.92L346.77 614.58zM351.34 614.87L352.07 616.02L353.38 616.36L352.52 617.41L352.6 618.76L351.34 618.27L350.07 618.76L350.15 617.41L349.29 616.36L350.6 616.02zM355.07 615.7L355.8 616.84L357.11 617.19L356.25 618.24L356.33 619.59L355.07 619.1L353.8 619.59L353.88 618.24L353.02 617.19L354.33 616.84zM358.73 615.68L359.46 616.82L360.78 617.17L359.92 618.22L359.99 619.57L358.73 619.08L357.47 619.57L357.54 618.22L356.69 617.17L358 616.82zM362.22 614.66L362.96 615.8L364.27 616.14L363.41 617.19L363.49 618.55L362.22 618.06L360.96 618.55L361.04 617.19L360.18 616.14L361.49 615.8zM365.31 612.49L366.05 613.63L367.36 613.98L366.5 615.03L366.58 616.38L365.31 615.89L364.05 616.38L364.13 615.03L363.27 613.98L364.58 613.63zM368.32 609.59L369.05 610.73L370.37 611.08L369.51 612.13L369.58 613.48L368.32 612.99L367.06 613.48L367.13 612.13L366.28 611.08L367.59 610.73zM371.38 606.07L372.11 607.21L373.42 607.55L372.56 608.6L372.64 609.96L371.38 609.46L370.11 609.96L370.19 608.6L369.33 607.55L370.64 607.21zM374.46 601.82L375.19 602.96L376.51 603.3L375.65 604.35L375.73 605.71L374.46 605.21L373.2 605.71L373.28 604.35L372.42 603.3L373.73 602.96zM382.39 592.82L383.12 593.96L384.43 594.31L383.57 595.36L383.65 596.71L382.39 596.22L381.12 596.71L381.2 595.36L380.34 594.31L381.65 593.96zM387.15 586.59L387.88 587.73L389.19 588.07L388.33 589.12L388.41 590.48L387.15 589.98L385.88 590.48L385.96 589.12L385.1 588.07L386.41 587.73zM392.77 579.92L393.5 581.06L394.82 581.41L393.96 582.46L394.04 583.81L392.77 583.32L391.51 583.81L391.59 582.46L390.73 581.41L392.04 581.06z" fill="#FFCB05" stroke="#FFCB05" stroke-width="0.8" stroke-linejoin="round"/>
<path d="M235.27 645.5h.01M235.66 644.17h.01M236.03 642.85h.01M236.45 641.56h.01M237.02 640.34h.01M237.75 639.22h.01M238.56 638.2h.01M239.41 637.24h.01M240.27 636.32h.01M241.12 635.44h.01M241.97 634.58h.01M242.91 633.72h.01M243.96 632.8h.01M245.11 631.81h.01M246.33 630.7h.01M247.58 629.41h.01M248.81 627.9h.01M250.04 626.21h.01M251.35 624.37h.01M252.82 622.45h.01M254.49 620.43h.01M256.41 618.22h.01M258.63 615.82h.01M261.3 613.11h.01M264.83 609.96h.01M269.22 606.57h.01M274.45 603.36h.01M280.27 600.36h.01M286.74 597.68h.01M294.1 596.3h.01M302 595.91h.01M310.27 596.33h.01M317.94 598.09h.01M324.71 600.21h.01M330.62 602.99h.01M335.99 605.71h.01M340.9 608.29h.01M345.28 611.01h.01M349.44 613.29h.01M353.34 615.11h.01M357.13 616.15h.01M360.8 615.86h.01M364.07 614.26h.01M366.97 611.75h.01M369.82 608.63h.01M372.74 604.9h.01M379.57 595.31h.01M383.69 589.08h.01M388.88 581.99h.01" fill="none" stroke="#6B6565" stroke-width="4.4" stroke-linecap="round"/>
<path d="M231.81 643.4L233.63 644.45L233.63 646.55L231.81 647.6L229.99 646.55L229.99 644.45zM232.3 641.99L234.12 643.04L234.12 645.14L232.3 646.19L230.48 645.14L230.48 643.04zM232.75 640.59L234.57 641.64L234.57 643.74L232.75 644.79L230.93 643.74L230.93 641.64zM233.27 639.22L235.08 640.27L235.08 642.37L233.27 643.42L231.45 642.37L231.45 640.27zM233.92 637.93L235.74 638.98L235.74 641.08L233.92 642.13L232.1 641.08L232.1 638.98zM234.74 636.76L236.56 637.81L236.56 639.91L234.74 640.96L232.92 639.91L232.92 637.81zM235.64 635.7L237.46 636.75L237.46 638.85L235.64 639.9L233.82 638.85L233.82 636.75zM236.59 634.71L238.41 635.76L238.41 637.86L236.59 638.91L234.77 637.86L234.77 635.76zM237.56 633.78L239.37 634.83L239.37 636.93L237.56 637.98L235.74 636.93L235.74 634.83zM238.52 632.88L240.34 633.93L240.34 636.03L238.52 637.08L236.7 636.03L236.7 633.93zM239.49 632.04L241.3 633.09L241.3 635.19L239.49 636.24L237.67 635.19L237.67 633.09zM240.53 631.23L242.35 632.28L242.35 634.38L240.53 635.43L238.72 634.38L238.72 632.28zM241.66 630.42L243.47 631.47L243.47 633.57L241.66 634.62L239.84 633.57L239.84 631.47zM242.82 629.58L244.64 630.63L244.64 632.73L242.82 633.78L241.01 632.73L241.01 630.63zM244.01 628.65L245.83 629.7L245.83 631.8L244.01 632.85L242.19 631.8L242.19 629.7zM245.17 627.59L246.98 628.64L246.98 630.74L245.17 631.79L243.35 630.74L243.35 628.64zM246.3 626.39L248.12 627.44L248.12 629.54L246.3 630.59L244.48 629.54L244.48 627.44zM247.46 625.03L249.28 626.08L249.28 628.18L247.46 629.23L245.64 628.18L245.64 626.08zM248.66 623.52L250.48 624.57L250.48 626.67L248.66 627.72L246.84 626.67L246.84 624.57zM249.92 621.87L251.74 622.92L251.74 625.02L249.92 626.07L248.1 625.02L248.1 622.92zM251.19 620.03L253.01 621.08L253.01 623.18L251.19 624.23L249.37 623.18L249.37 621.08zM252.52 618L254.34 619.05L254.34 621.15L252.52 622.2L250.7 621.15L250.7 619.05zM254.03 615.85L255.85 616.9L255.85 619L254.03 620.05L252.21 619L252.21 616.9zM255.86 613.66L257.68 614.71L257.68 616.81L255.86 617.86L254.04 616.81L254.04 614.71zM258.12 611.28L259.93 612.33L259.93 614.43L258.12 615.48L256.3 614.43L256.3 612.33zM260.88 608.62L262.7 609.67L262.7 611.77L260.88 612.82L259.06 611.77L259.06 609.67zM264.34 605.59L266.15 606.64L266.15 608.74L264.34 609.79L262.52 608.74L262.52 606.64zM268.62 602.14L270.43 603.19L270.43 605.29L268.62 606.34L266.8 605.29L266.8 603.19zM273.67 598.73L275.49 599.78L275.49 601.88L273.67 602.93L271.86 601.88L271.86 599.78zM279.31 595.51L281.13 596.56L281.13 598.66L279.31 599.71L277.49 598.66L277.49 596.56zM285.64 592.7L287.46 593.75L287.46 595.85L285.64 596.9L283.82 595.85L283.82 593.75zM292.76 590.67L294.58 591.72L294.58 593.82L292.76 594.87L290.94 593.82L290.94 591.72zM300.39 589.38L302.21 590.43L302.21 592.53L300.39 593.58L298.58 592.53L298.58 590.43zM308.45 589.02L310.27 590.07L310.27 592.17L308.45 593.22L306.63 592.17L306.63 590.07zM316.64 589.45L318.45 590.5L318.45 592.6L316.64 593.65L314.82 592.6L314.82 590.5zM324.52 590.72L326.34 591.77L326.34 593.87L324.52 594.92L322.7 593.87L322.7 591.77zM331.67 593.03L333.49 594.08L333.49 596.18L331.67 597.23L329.85 596.18L329.85 594.08zM337.98 595.99L339.8 597.04L339.8 599.14L337.98 600.19L336.16 599.14L336.16 597.04zM343.59 599.16L345.41 600.21L345.41 602.31L343.59 603.36L341.78 602.31L341.78 600.21zM348.75 602.1L350.57 603.15L350.57 605.25L348.75 606.3L346.93 605.25L346.93 603.15zM353.59 604.9L355.41 605.95L355.41 608.05L353.59 609.1L351.77 608.05L351.77 605.95zM358.1 607.53L359.92 608.58L359.92 610.68L358.1 611.73L356.28 610.68L356.28 608.58zM362.33 609.94L364.15 610.99L364.15 613.09L362.33 614.14L360.51 613.09L360.51 610.99zM366.51 611.62L368.33 612.67L368.33 614.77L366.51 615.82L364.7 614.77L364.7 612.67zM370.62 611.9L372.44 612.95L372.44 615.05L370.62 616.1L368.8 615.05L368.8 612.95zM374.23 610.56L376.04 611.61L376.04 613.71L374.23 614.76L372.41 613.71L372.41 611.61zM377.28 608.03L379.1 609.08L379.1 611.18L377.28 612.23L375.46 611.18L375.46 609.08zM380.18 604.77L382 605.82L382 607.92L380.18 608.97L378.36 607.92L378.36 605.82zM383.06 600.8L384.88 601.85L384.88 603.95L383.06 605L381.24 603.95L381.24 601.85zM388.01 595.15L389.83 596.2L389.83 598.3L388.01 599.35L386.19 598.3L386.19 596.2zM392.77 589.73L394.59 590.78L394.59 592.88L392.77 593.93L390.95 592.88L390.95 590.78zM397.96 582.68L399.78 583.73L399.78 585.83L397.96 586.88L396.15 585.83L396.15 583.73zM403.59 574.51L405.41 575.56L405.41 577.66L403.59 578.71L401.77 577.66L401.77 575.56z" fill="#32CD32" stroke="#32CD32" stroke-width="0.5" stroke-linejoin="round"/>
<path d="M256.9 646.14h.01M257.11 645.37h.01M257.29 644.57h.01M257.48 643.76h.01M257.7 642.94h.01M257.97 642.11h.01M258.32 641.29h.01M258.72 640.48h.01M259.18 639.66h.01M259.7 638.83h.01M260.27 638h.01M260.92 637.18h.01M261.64 636.37h.01M262.45 635.6h.01M263.35 634.86h.01M264.31 634.13h.01M265.32 633.39h.01M266.36 632.61h.01M267.46 631.82h.01M268.61 631.02h.01M269.83 630.22h.01M271.14 629.45h.01M272.56 628.77h.01M274.1 628.22h.01M275.7 627.7h.01M277.32 627.09h.01M278.92 626.28h.01M280.56 625.32h.01M282.2 624.12h.01M283.69 622.54h.01M285.1 620.57h.01M286.53 618.26h.01M288.18 615.59h.01M292.6 611.65h.01M296.28 607.57h.01M300.17 602.97h.01M305.37 597.68h.01M311.42 592.26h.01M319.21 586.93h.01M327.43 581.51h.01M337.3 577.04h.01M349.5 573h.01M362.05 570.89h.01M375.2 570.38h.01M387.58 571.45h.01M399.26 574.03h.01M410.08 577.9h.01M419.6 582.63h.01M427.39 587.79h.01M433.88 592.52h.01M439.5 596.52h.01M443.83 599.62h.01M448.16 602.28h.01M451.19 603.91h.01M453.57 604.77h.01M455.95 605.12h.01M458.33 605.12h.01M460.71 604.77h.01M463.73 603.7h.01M468.06 601.55h.01M471.96 598.97h.01M475.85 595.7h.01M480.18 591.83h.01M484.94 587.1h.01M489.7 581.17h.01M495.19 574.46h.01" fill="none" stroke="#3E3E3E" stroke-width="4.5" stroke-linecap="round"/>
<path d="M233.97 645.5h.01M234.34 644.12h.01M234.67 642.75h.01M235.06 641.4h.01M235.6 640.13h.01M236.35 638.98h.01M237.22 637.94h.01M238.15 637h.01M239.08 636.11h.01M240.01 635.24h.01M240.93 634.41h.01M241.95 633.58h.01M243.05 632.71h.01M244.22 631.78h.01M245.42 630.72h.01M246.6 629.5h.01M247.81 628.13h.01M249.06 626.61h.01M250.38 624.95h.01M251.75 623.12h.01M253.19 621.08h.01M254.82 618.89h.01M256.76 616.61h.01M259.17 614.05h.01M262.24 611.15h.01M265.95 607.8h.01M270.23 604.02h.01M275.67 600.99h.01M281.18 597.27h.01M287.38 593.88h.01M294.49 590.92h.01M302.85 588.52h.01M312.48 587.32h.01M322.34 588.01h.01M331.52 590.27h.01M339.93 593.01h.01M347.45 596.23h.01M353.87 599.87h.01M359.38 603.56h.01M364.11 607.34h.01M368.73 610.42h.01M373.05 612.84h.01M377.27 614.02h.01M381.24 613.34h.01M384.56 610.93h.01M389.74 605.85h.01M393.2 602.41h.01M396.67 598.54h.01M401.43 593.81h.01M406.19 588.22h.01M410.51 581.17h.01" fill="none" stroke="#20B2AA" stroke-width="4.4" stroke-linecap="round"/>
<path d="M235.98 643.56L236.78 644.36L237.58 643.56L238.38 644.36L237.58 645.16L238.38 645.96L237.58 646.76L236.78 645.96L235.98 646.76L235.18 645.96L235.98 645.16L235.18 644.36zM236.34 642.26L237.14 643.06L237.94 642.26L238.74 643.06L237.94 643.86L238.74 644.66L237.94 645.46L237.14 644.66L236.34 645.46L235.54 644.66L236.34 643.86L235.54 643.06zM236.66 640.98L237.46 641.78L238.26 640.98L239.06 641.78L238.26 642.58L239.06 643.38L238.26 644.18L237.46 643.38L236.66 644.18L235.86 643.38L236.66 642.58L235.86 641.78zM237.07 639.73L237.87 640.53L238.67 639.73L239.47 640.53L238.67 641.33L239.47 642.13L238.67 642.93L237.87 642.13L237.07 642.93L236.27 642.13L237.07 641.33L236.27 640.53zM237.63 638.55L238.43 639.35L239.23 638.55L240.03 639.35L239.23 640.15L240.03 640.95L239.23 641.75L238.43 640.95L237.63 641.75L236.83 640.95L237.63 640.15L236.83 639.35zM238.34 637.47L239.14 638.27L239.94 637.47L240.74 638.27L239.94 639.07L240.74 639.87L239.94 640.67L239.14 639.87L238.34 640.67L237.54 639.87L238.34 639.07L237.54 638.27zM239.14 636.45L239.94 637.25L240.74 636.45L241.54 637.25L240.74 638.05L241.54 638.85L240.74 639.65L239.94 638.85L239.14 639.65L238.34 638.85L239.14 638.05L238.34 637.25zM240 635.49L240.8 636.29L241.6 635.49L242.4 636.29L241.6 637.09L242.4 637.89L241.6 638.69L240.8 637.89L240 638.69L239.2 637.89L240 637.09L239.2 636.29zM240.9 634.55L241.7 635.35L242.5 634.55L243.3 635.35L242.5 636.15L243.3 636.95L242.5 637.75L241.7 636.95L240.9 637.75L240.1 636.95L240.9 636.15L240.1 635.35zM241.83 633.63L242.63 634.43L243.43 633.63L244.23 634.43L243.43 635.23L244.23 636.03L243.43 636.83L242.63 636.03L241.83 636.83L241.03 636.03L241.83 635.23L241.03 634.43zM242.86 632.75L243.66 633.55L244.46 632.75L245.26 633.55L244.46 634.35L245.26 635.15L244.46 635.95L243.66 635.15L242.86 635.95L242.06 635.15L242.86 634.35L242.06 633.55zM244.03 631.83L244.83 632.63L245.63 631.83L246.43 632.63L245.63 633.43L246.43 634.23L245.63 635.03L244.83 634.23L244.03 635.03L243.23 634.23L244.03 633.43L243.23 632.63zM245.31 630.84L246.11 631.64L246.91 630.84L247.71 631.64L246.91 632.44L247.71 633.24L246.91 634.04L246.11 633.24L245.31 634.04L244.51 633.24L245.31 632.44L244.51 631.64zM246.65 629.68L247.45 630.48L248.25 629.68L249.05 630.48L248.25 631.28L249.05 632.08L248.25 632.88L247.45 632.08L246.65 632.88L245.85 632.08L246.65 631.28L245.85 630.48zM247.97 628.27L248.77 629.07L249.57 628.27L250.37 629.07L249.57 629.87L250.37 630.67L249.57 631.47L248.77 630.67L247.97 631.47L247.17 630.67L247.97 629.87L247.17 629.07zM249.28 626.64L250.08 627.44L250.88 626.64L251.68 627.44L250.88 628.24L251.68 629.04L250.88 629.84L250.08 629.04L249.28 629.84L248.48 629.04L249.28 628.24L248.48 627.44zM250.63 624.84L251.43 625.64L252.23 624.84L253.03 625.64L252.23 626.44L253.03 627.24L252.23 628.04L251.43 627.24L250.63 628.04L249.83 627.24L250.63 626.44L249.83 625.64zM252.08 622.89L252.88 623.69L253.68 622.89L254.48 623.69L253.68 624.49L254.48 625.29L253.68 626.09L252.88 625.29L252.08 626.09L251.28 625.29L252.08 624.49L251.28 623.69zM253.64 620.77L254.44 621.57L255.24 620.77L256.04 621.57L255.24 622.37L256.04 623.17L255.24 623.97L254.44 623.17L253.64 623.97L252.84 623.17L253.64 622.37L252.84 621.57zM255.34 618.41L256.14 619.21L256.94 618.41L257.74 619.21L256.94 620.01L257.74 620.81L256.94 621.61L256.14 620.81L255.34 621.61L254.54 620.81L255.34 620.01L254.54 619.21zM257.31 615.87L258.11 616.67L258.91 615.87L259.71 616.67L258.91 617.47L259.71 618.27L258.91 619.07L258.11 618.27L257.31 619.07L256.51 618.27L257.31 617.47L256.51 616.67zM259.69 613.02L260.49 613.82L261.29 613.02L262.09 613.82L261.29 614.62L262.09 615.42L261.29 616.22L260.49 615.42L259.69 616.22L258.89 615.42L259.69 614.62L258.89 613.82zM262.87 609.72L263.67 610.52L264.47 609.72L265.27 610.52L264.47 611.32L265.27 612.12L264.47 612.92L263.67 612.12L262.87 612.92L262.07 612.12L262.87 611.32L262.07 610.52zM266.93 606.15L267.73 606.95L268.53 606.15L269.33 606.95L268.53 607.75L269.33 608.55L268.53 609.35L267.73 608.55L266.93 609.35L266.13 608.55L266.93 607.75L266.13 606.95zM271.58 602.3L272.38 603.1L273.18 602.3L273.98 603.1L273.18 603.9L273.98 604.7L273.18 605.5L272.38 604.7L271.58 605.5L270.78 604.7L271.58 603.9L270.78 603.1zM276.83 598.66L277.63 599.46L278.43 598.66L279.23 599.46L278.43 600.26L279.23 601.06L278.43 601.86L277.63 601.06L276.83 601.86L276.03 601.06L276.83 600.26L276.03 599.46zM282.67 595.18L283.47 595.98L284.27 595.18L285.07 595.98L284.27 596.78L285.07 597.58L284.27 598.38L283.47 597.58L282.67 598.38L281.87 597.58L282.67 596.78L281.87 595.98zM289.45 592.65L290.25 593.45L291.05 592.65L291.85 593.45L291.05 594.25L291.85 595.05L291.05 595.85L290.25 595.05L289.45 595.85L288.65 595.05L289.45 594.25L288.65 593.45zM296.84 590.27L297.64 591.07L298.44 590.27L299.24 591.07L298.44 591.87L299.24 592.67L298.44 593.47L297.64 592.67L296.84 593.47L296.04 592.67L296.84 591.87L296.04 591.07zM305.2 589.22L306 590.02L306.8 589.22L307.6 590.02L306.8 590.82L307.6 591.62L306.8 592.42L306 591.62L305.2 592.42L304.4 591.62L305.2 590.82L304.4 590.02zM314.18 589.05L314.98 589.85L315.78 589.05L316.58 589.85L315.78 590.65L316.58 591.45L315.78 592.25L314.98 591.45L314.18 592.25L313.38 591.45L314.18 590.65L313.38 589.85zM322.47 591.4L323.27 592.2L324.07 591.4L324.87 592.2L324.07 593L324.87 593.8L324.07 594.6L323.27 593.8L322.47 594.6L321.67 593.8L322.47 593L321.67 592.2zM330.17 593.84L330.97 594.64L331.77 593.84L332.57 594.64L331.77 595.44L332.57 596.24L331.77 597.04L330.97 596.24L330.17 597.04L329.37 596.24L330.17 595.44L329.37 594.64zM337.07 596.79L337.87 597.59L338.67 596.79L339.47 597.59L338.67 598.39L339.47 599.19L338.67 599.99L337.87 599.19L337.07 599.99L336.27 599.19L337.07 598.39L336.27 597.59zM343.36 599.67L344.16 600.47L344.96 599.67L345.76 600.47L344.96 601.27L345.76 602.07L344.96 602.87L344.16 602.07L343.36 602.87L342.56 602.07L343.36 601.27L342.56 600.47zM349.12 602.66L349.92 603.46L350.72 602.66L351.52 603.46L350.72 604.26L351.52 605.06L350.72 605.86L349.92 605.06L349.12 605.86L348.32 605.06L349.12 604.26L348.32 603.46zM354.29 605.58L355.09 606.38L355.89 605.58L356.69 606.38L355.89 607.18L356.69 607.98L355.89 608.78L355.09 607.98L354.29 608.78L353.49 607.98L354.29 607.18L353.49 606.38zM358.83 608.68L359.63 609.48L360.43 608.68L361.23 609.48L360.43 610.28L361.23 611.08L360.43 611.88L359.63 611.08L358.83 611.88L358.03 611.08L358.83 610.28L358.03 609.48zM363.29 611.15L364.09 611.95L364.89 611.15L365.69 611.95L364.89 612.75L365.69 613.55L364.89 614.35L364.09 613.55L363.29 614.35L362.49 613.55L363.29 612.75L362.49 611.95zM367.7 612.74L368.5 613.54L369.3 612.74L370.1 613.54L369.3 614.34L370.1 615.14L369.3 615.94L368.5 615.14L367.7 615.94L366.9 615.14L367.7 614.34L366.9 613.54zM371.92 612.38L372.72 613.18L373.52 612.38L374.32 613.18L373.52 613.98L374.32 614.78L373.52 615.58L372.72 614.78L371.92 615.58L371.12 614.78L371.92 613.98L371.12 613.18zM375.33 610.27L376.13 611.07L376.93 610.27L377.73 611.07L376.93 611.87L377.73 612.67L376.93 613.47L376.13 612.67L375.33 613.47L374.53 612.67L375.33 611.87L374.53 611.07zM380.29 605.11L381.09 605.91L381.89 605.11L382.69 605.91L381.89 606.71L382.69 607.51L381.89 608.31L381.09 607.51L380.29 608.31L379.49 607.51L380.29 606.71L379.49 605.91zM383.32 601.88L384.12 602.69L384.92 601.88L385.72 602.69L384.92 603.49L385.72 604.28L384.92 605.09L384.12 604.28L383.32 605.09L382.52 604.28L383.32 603.49L382.52 602.69zM386.78 597.8L387.58 598.6L388.38 597.8L389.18 598.6L388.38 599.4L389.18 600.2L388.38 601L387.58 600.2L386.78 601L385.98 600.2L386.78 599.4L385.98 598.6zM390.67 592.9L391.47 593.7L392.27 592.9L393.07 593.7L392.27 594.5L393.07 595.3L392.27 596.1L391.47 595.3L390.67 596.1L389.87 595.3L390.67 594.5L389.87 593.7zM395.43 586.62L396.23 587.42L397.03 586.62L397.83 587.42L397.03 588.22L397.83 589.02L397.03 589.82L396.23 589.02L395.43 589.82L394.63 589.02L395.43 588.22L394.63 587.42zM400.06 580L400.86 580.8L401.66 580L402.46 580.8L401.66 581.6L402.46 582.4L401.66 583.2L400.86 582.4L400.06 583.2L399.26 582.4L400.06 581.6L399.26 580.8z" fill="#0B4596" stroke="#0B4596" stroke-width="0.6" stroke-linejoin="round"/>
<path d="M231.37 643.74L233.47 647.94L229.27 647.94zM231.77 642.29L233.87 646.49L229.67 646.49zM232.12 640.84L234.22 645.04L230.02 645.04zM232.56 639.43L234.66 643.63L230.46 643.63zM233.21 638.11L235.31 642.31L231.11 642.31zM234.04 636.93L236.14 641.13L231.94 641.13zM234.98 635.87L237.08 640.07L232.88 640.07zM235.96 634.88L238.06 639.08L233.86 639.08zM236.96 633.95L239.06 638.15L234.86 638.15zM237.94 633.05L240.04 637.25L235.84 637.25zM238.94 632.21L241.04 636.41L236.84 636.41zM240.02 631.4L242.12 635.6L237.92 635.6zM241.14 630.6L243.24 634.8L239.04 634.8zM242.28 629.77L244.38 633.97L240.18 633.97zM243.42 628.85L245.52 633.05L241.32 633.05zM244.5 627.82L246.6 632.02L242.4 632.02zM245.56 626.66L247.66 630.86L243.46 630.86zM246.65 625.36L248.75 629.56L244.55 629.56zM247.79 623.93L249.89 628.13L245.69 628.13zM249.01 622.38L251.11 626.58L246.91 626.58zM250.26 620.66L252.36 624.86L248.16 624.86zM251.58 618.78L253.68 622.98L249.48 622.98zM253.07 616.79L255.17 620.99L250.97 620.99zM254.87 614.8L256.97 619L252.77 619zM257.04 612.74L259.14 616.94L254.94 616.94zM259.69 610.64L261.79 614.84L257.59 614.84zM263.43 608.37L265.53 612.57L261.33 612.57zM268.06 605.83L270.16 610.03L265.96 610.03zM273.22 602.67L275.32 606.87L271.12 606.87zM279.41 600.87L281.51 605.07L277.31 605.07zM286 598.7L288.1 602.9L283.9 602.9zM293.33 597.47L295.43 601.67L291.23 601.67zM301.24 597.06L303.34 601.26L299.14 601.26zM309.01 597.87L311.11 602.07L306.91 602.07zM315.92 599.64L318.02 603.84L313.82 603.84zM321.9 602.09L324 606.29L319.8 606.29zM327.23 604.95L329.33 609.15L325.13 609.15zM332.1 607.86L334.2 612.06L330 612.06zM336.53 610.63L338.63 614.83L334.43 614.83zM340.76 612.9L342.86 617.1L338.66 617.1zM344.75 614.91L346.85 619.11L342.65 619.11zM348.74 615.87L350.84 620.07L346.64 620.07zM352.51 615.2L354.61 619.4L350.41 619.4zM355.88 613.17L357.98 617.37L353.78 617.37zM359.18 610.48L361.28 614.68L357.08 614.68zM365.51 604.61L367.61 608.81L363.41 608.81zM369.62 599.45L371.72 603.65L367.52 603.65zM373.73 594.29L375.83 598.49L371.63 598.49zM378.06 588.1L380.16 592.3L375.96 592.3zM383.08 580.53L385.18 584.73L380.98 584.73z" fill="#FF6347" stroke="#FF6347" stroke-width="0.5" stroke-linejoin="round"/>
<path d="M230.51 645.6h.01M231.04 644.16h.01M231.54 642.73h.01M232.12 641.35h.01M232.88 640.08h.01M233.78 638.94h.01M234.76 637.9h.01M235.77 636.93h.01M236.79 636.02h.01M237.79 635.13h.01M238.83 634.3h.01M239.92 633.5h.01M241.04 632.7h.01M242.16 631.86h.01M243.25 630.93h.01M244.27 629.9h.01M245.29 628.74h.01M246.33 627.44h.01M247.41 626.02h.01M248.56 624.47h.01M249.73 622.76h.01M250.94 620.9h.01M252.3 618.93h.01M253.95 616.97h.01M255.98 614.99h.01M258.28 612.78h.01M260.87 610.16h.01M264.25 607.01h.01M268.58 603.62h.01M273.69 600.31h.01M279.39 597.21h.01M285.84 594.68h.01M292.97 592.58h.01M300.71 591.11h.01M309.07 590.9h.01M317.5 591.81h.01M325.48 593.59h.01M332.73 596.2h.01M339.28 599.19h.01M345.29 602.07h.01M350.61 605.13h.01M355.53 608.16h.01M360.21 610.92h.01M364.76 613.16h.01M369.12 614.4h.01M373.14 613.82h.01M376.59 611.83h.01M379.63 608.97h.01M382.44 605.46h.01M386.28 601.12h.01M389.74 597.68h.01M393.2 594.5h.01M397.4 588.35h.01M402.51 581.6h.01" fill="none" stroke="#6FA82E" stroke-width="3" stroke-linecap="round"/>
<path d="M233.54 645.41h.01M233.69 644.73h.01M233.83 644.03h.01M233.96 643.32h.01M234.1 642.59h.01M234.26 641.86h.01M234.43 641.12h.01M234.64 640.37h.01M234.91 639.63h.01M235.22 638.88h.01M235.59 638.14h.01M236.06 637.43h.01M236.62 636.75h.01M237.26 636.12h.01M237.96 635.53h.01M238.69 634.96h.01M239.45 634.42h.01M240.24 633.89h.01M241.06 633.38h.01M241.91 632.9h.01M242.78 632.43h.01M243.69 632.01h.01M244.63 631.62h.01M245.61 631.28h.01M246.62 630.98h.01M247.66 630.71h.01M248.72 630.47h.01M249.81 630.28h.01M250.93 630.13h.01M252.07 630.02h.01M253.23 629.95h.01M254.41 629.93h.01M255.61 629.96h.01M256.81 630.04h.01M258 630.16h.01M259.19 630.32h.01M260.38 630.5h.01M261.56 630.72h.01M262.73 630.99h.01M263.89 631.3h.01M265.04 631.62h.01M266.21 631.92h.01M267.37 632.19h.01M268.54 632.46h.01M269.71 632.75h.01M270.86 633.09h.01M272.01 633.43h.01M273.19 633.6h.01M274.4 633.54h.01M275.6 633.14h.01M276.76 632.41h.01M278.03 631.57h.01M279.29 630.3h.01M280.44 628.47h.01M281.82 626.32h.01M283.46 623.86h.01M285.44 621.16h.01M287.88 618.25h.01M293.12 613.16h.01M296.28 609.12h.01M299.74 604.56h.01M302.51 599.83h.01M306.23 594.24h.01M310.99 587.45h.01M316.1 579.19h.01" fill="none" stroke="#1E8A1E" stroke-width="3.1" stroke-linecap="round"/>
<path d="M263.89 643.94L264.69 644.74L265.49 643.94L266.29 644.74L265.49 645.54L266.29 646.34L265.49 647.14L264.69 646.34L263.89 647.14L263.09 646.34L263.89 645.54L263.09 644.74zM264.16 643.08L264.96 643.88L265.76 643.08L266.56 643.88L265.76 644.68L266.56 645.48L265.76 646.28L264.96 645.48L264.16 646.28L263.36 645.48L264.16 644.68L263.36 643.88zM264.43 642.2L265.23 643L266.03 642.2L266.83 643L266.03 643.8L266.83 644.6L266.03 645.4L265.23 644.6L264.43 645.4L263.63 644.6L264.43 643.8L263.63 643zM264.71 641.3L265.51 642.1L266.31 641.3L267.11 642.1L266.31 642.9L267.11 643.7L266.31 644.5L265.51 643.7L264.71 644.5L263.91 643.7L264.71 642.9L263.91 642.1zM265.02 640.38L265.82 641.18L266.62 640.38L267.42 641.18L266.62 641.98L267.42 642.78L266.62 643.58L265.82 642.78L265.02 643.58L264.22 642.78L265.02 641.98L264.22 641.18zM265.38 639.46L266.18 640.26L266.98 639.46L267.78 640.26L266.98 641.06L267.78 641.86L266.98 642.66L266.18 641.86L265.38 642.66L264.58 641.86L265.38 641.06L264.58 640.26zM265.75 638.5L266.55 639.3L267.35 638.5L268.15 639.3L267.35 640.1L268.15 640.9L267.35 641.7L266.55 640.9L265.75 641.7L264.95 640.9L265.75 640.1L264.95 639.3zM266.17 637.5L266.97 638.3L267.77 637.5L268.57 638.3L267.77 639.1L268.57 639.9L267.77 640.7L266.97 639.9L266.17 640.7L265.37 639.9L266.17 639.1L265.37 638.3zM266.66 636.45L267.46 637.25L268.26 636.45L269.06 637.25L268.26 638.05L269.06 638.85L268.26 639.65L267.46 638.85L266.66 639.65L265.86 638.85L266.66 638.05L265.86 637.25zM267.24 635.39L268.04 636.19L268.84 635.39L269.64 636.19L268.84 636.99L269.64 637.79L268.84 638.59L268.04 637.79L267.24 638.59L266.44 637.79L267.24 636.99L266.44 636.19zM267.96 634.31L268.76 635.11L269.56 634.31L270.36 635.11L269.56 635.91L270.36 636.71L269.56 637.51L268.76 636.71L267.96 637.51L267.16 636.71L267.96 635.91L267.16 635.11zM268.8 633.22L269.6 634.02L270.4 633.22L271.2 634.02L270.4 634.82L271.2 635.62L270.4 636.42L269.6 635.62L268.8 636.42L268 635.62L268.8 634.82L268 634.02zM269.78 632.11L270.58 632.91L271.38 632.11L272.18 632.91L271.38 633.71L272.18 634.51L271.38 635.31L270.58 634.51L269.78 635.31L268.98 634.51L269.78 633.71L268.98 632.91zM270.91 630.99L271.71 631.79L272.51 630.99L273.31 631.79L272.51 632.59L273.31 633.39L272.51 634.19L271.71 633.39L270.91 634.19L270.11 633.39L270.91 632.59L270.11 631.79zM272.22 629.89L273.02 630.69L273.82 629.89L274.62 630.69L273.82 631.49L274.62 632.29L273.82 633.09L273.02 632.29L272.22 633.09L271.42 632.29L272.22 631.49L271.42 630.69zM273.71 628.79L274.51 629.59L275.31 628.79L276.11 629.59L275.31 630.39L276.11 631.19L275.31 631.99L274.51 631.19L273.71 631.99L272.91 631.19L273.71 630.39L272.91 629.59zM275.41 627.7L276.21 628.5L277.01 627.7L277.81 628.5L277.01 629.3L277.81 630.1L277.01 630.9L276.21 630.1L275.41 630.9L274.61 630.1L275.41 629.3L274.61 628.5zM277.33 626.67L278.13 627.47L278.93 626.67L279.73 627.47L278.93 628.27L279.73 629.07L278.93 629.87L278.13 629.07L277.33 629.87L276.53 629.07L277.33 628.27L276.53 627.47zM279.47 625.71L280.27 626.51L281.07 625.71L281.87 626.51L281.07 627.31L281.87 628.11L281.07 628.91L280.27 628.11L279.47 628.91L278.67 628.11L279.47 627.31L278.67 626.51zM281.78 624.66L282.58 625.46L283.38 624.66L284.18 625.46L283.38 626.26L284.18 627.06L283.38 627.86L282.58 627.06L281.78 627.86L280.98 627.06L281.78 626.26L280.98 625.46zM284.23 623.56L285.03 624.36L285.83 623.56L286.63 624.36L285.83 625.16L286.63 625.96L285.83 626.76L285.03 625.96L284.23 626.76L283.43 625.96L284.23 625.16L283.43 624.36zM286.83 622.48L287.63 623.28L288.43 622.48L289.23 623.28L288.43 624.08L289.23 624.88L288.43 625.68L287.63 624.88L286.83 625.68L286.03 624.88L286.83 624.08L286.03 623.28zM289.63 621.45L290.43 622.25L291.23 621.45L292.03 622.25L291.23 623.05L292.03 623.85L291.23 624.65L290.43 623.85L289.63 624.65L288.83 623.85L289.63 623.05L288.83 622.25zM292.48 620.52L293.28 621.32L294.08 620.52L294.88 621.32L294.08 622.12L294.88 622.92L294.08 623.72L293.28 622.92L292.48 623.72L291.68 622.92L292.48 622.12L291.68 621.32zM295.35 619.63L296.15 620.43L296.95 619.63L297.75 620.43L296.95 621.23L297.75 622.03L296.95 622.83L296.15 622.03L295.35 622.83L294.55 622.03L295.35 621.23L294.55 620.43zM298.22 618.79L299.02 619.59L299.82 618.79L300.62 619.59L299.82 620.39L300.62 621.19L299.82 621.99L299.02 621.19L298.22 621.99L297.42 621.19L298.22 620.39L297.42 619.59zM301.11 617.97L301.91 618.77L302.71 617.97L303.51 618.77L302.71 619.57L303.51 620.37L302.71 621.17L301.91 620.37L301.11 621.17L300.31 620.37L301.11 619.57L300.31 618.77zM304.01 617.18L304.81 617.98L305.61 617.18L306.41 617.98L305.61 618.78L306.41 619.58L305.61 620.38L304.81 619.58L304.01 620.38L303.21 619.58L304.01 618.78L303.21 617.98zM306.9 616.4L307.7 617.2L308.5 616.4L309.3 617.2L308.5 618L309.3 618.8L308.5 619.6L307.7 618.8L306.9 619.6L306.1 618.8L306.9 618L306.1 617.2zM309.82 615.71L310.62 616.51L311.42 615.71L312.22 616.51L311.42 617.31L312.22 618.11L311.42 618.91L310.62 618.11L309.82 618.91L309.02 618.11L309.82 617.31L309.02 616.51zM312.78 615.22L313.58 616.02L314.38 615.22L315.18 616.02L314.38 616.82L315.18 617.62L314.38 618.42L313.58 617.62L312.78 618.42L311.98 617.62L312.78 616.82L311.98 616.02zM315.7 614.83L316.5 615.63L317.3 614.83L318.1 615.63L317.3 616.43L318.1 617.23L317.3 618.03L316.5 617.23L315.7 618.03L314.9 617.23L315.7 616.43L314.9 615.63zM318.58 614.54L319.38 615.34L320.18 614.54L320.98 615.34L320.18 616.14L320.98 616.94L320.18 617.74L319.38 616.94L318.58 617.74L317.78 616.94L318.58 616.14L317.78 615.34zM321.41 614.35L322.21 615.15L323.01 614.35L323.81 615.15L323.01 615.95L323.81 616.75L323.01 617.55L322.21 616.75L321.41 617.55L320.61 616.75L321.41 615.95L320.61 615.15zM324.2 614.22L325 615.02L325.8 614.22L326.6 615.02L325.8 615.82L326.6 616.62L325.8 617.42L325 616.62L324.2 617.42L323.4 616.62L324.2 615.82L323.4 615.02zM326.93 614.17L327.73 614.97L328.53 614.17L329.33 614.97L328.53 615.77L329.33 616.57L328.53 617.37L327.73 616.57L326.93 617.37L326.13 616.57L326.93 615.77L326.13 614.97zM329.6 614.27L330.4 615.07L331.2 614.27L332 615.07L331.2 615.87L332 616.67L331.2 617.47L330.4 616.67L329.6 617.47L328.8 616.67L329.6 615.87L328.8 615.07zM332.21 614.57L333.01 615.37L333.81 614.57L334.61 615.37L333.81 616.17L334.61 616.97L333.81 617.77L333.01 616.97L332.21 617.77L331.41 616.97L332.21 616.17L331.41 615.37zM334.73 615.07L335.53 615.87L336.33 615.07L337.13 615.87L336.33 616.67L337.13 617.47L336.33 618.27L335.53 617.47L334.73 618.27L333.93 617.47L334.73 616.67L333.93 615.87zM337.17 615.7L337.97 616.5L338.77 615.7L339.57 616.5L338.77 617.3L339.57 618.1L338.77 618.9L337.97 618.1L337.17 618.9L336.37 618.1L337.17 617.3L336.37 616.5zM339.53 616.39L340.33 617.19L341.13 616.39L341.93 617.19L341.13 617.99L341.93 618.79L341.13 619.59L340.33 618.79L339.53 619.59L338.73 618.79L339.53 617.99L338.73 617.19zM341.82 617.14L342.62 617.94L343.42 617.14L344.22 617.94L343.42 618.74L344.22 619.54L343.42 620.34L342.62 619.54L341.82 620.34L341.02 619.54L341.82 618.74L341.02 617.94zM344.02 617.97L344.82 618.77L345.62 617.97L346.42 618.77L345.62 619.57L346.42 620.37L345.62 621.17L344.82 620.37L344.02 621.17L343.22 620.37L344.02 619.57L343.22 618.77zM346.14 618.81L346.94 619.61L347.74 618.81L348.54 619.61L347.74 620.41L348.54 621.21L347.74 622.01L346.94 621.21L346.14 622.01L345.34 621.21L346.14 620.41L345.34 619.61zM348.22 619.6L349.02 620.4L349.82 619.6L350.62 620.4L349.82 621.2L350.62 622L349.82 622.8L349.02 622L348.22 622.8L347.42 622L348.22 621.2L347.42 620.4zM350.24 620.38L351.04 621.18L351.84 620.38L352.64 621.18L351.84 621.98L352.64 622.78L351.84 623.58L351.04 622.78L350.24 623.58L349.44 622.78L350.24 621.98L349.44 621.18zM352.21 621.13L353.01 621.93L353.81 621.13L354.61 621.93L353.81 622.73L354.61 623.53L353.81 624.33L353.01 623.53L352.21 624.33L351.41 623.53L352.21 622.73L351.41 621.93zM354.13 621.84L354.93 622.64L355.73 621.84L356.53 622.64L355.73 623.44L356.53 624.24L355.73 625.04L354.93 624.24L354.13 625.04L353.33 624.24L354.13 623.44L353.33 622.64zM355.99 622.55L356.79 623.35L357.59 622.55L358.39 623.35L357.59 624.15L358.39 624.95L357.59 625.75L356.79 624.95L355.99 625.75L355.19 624.95L355.99 624.15L355.19 623.35zM357.84 623.2L358.64 624L359.44 623.2L360.24 624L359.44 624.8L360.24 625.6L359.44 626.4L358.64 625.6L357.84 626.4L357.04 625.6L357.84 624.8L357.04 624zM359.71 623.63L360.51 624.43L361.31 623.63L362.11 624.43L361.31 625.23L362.11 626.03L361.31 626.83L360.51 626.03L359.71 626.83L358.91 626.03L359.71 625.23L358.91 624.43zM361.59 623.89L362.39 624.69L363.19 623.89L363.99 624.69L363.19 625.49L363.99 626.29L363.19 627.09L362.39 626.29L361.59 627.09L360.79 626.29L361.59 625.49L360.79 624.69zM363.49 623.92L364.29 624.72L365.09 623.92L365.89 624.72L365.09 625.52L365.89 626.32L365.09 627.12L364.29 626.32L363.49 627.12L362.69 626.32L363.49 625.52L362.69 624.72zM365.38 623.7L366.18 624.5L366.98 623.7L367.78 624.5L366.98 625.3L367.78 626.1L366.98 626.9L366.18 626.1L365.38 626.9L364.58 626.1L365.38 625.3L364.58 624.5zM367.29 623.26L368.09 624.06L368.89 623.26L369.69 624.06L368.89 624.86L369.69 625.66L368.89 626.46L368.09 625.66L367.29 626.46L366.49 625.66L367.29 624.86L366.49 624.06zM369.25 622.64L370.05 623.44L370.85 622.64L371.65 623.44L370.85 624.24L371.65 625.04L370.85 625.84L370.05 625.04L369.25 625.84L368.45 625.04L369.25 624.24L368.45 623.44zM371.27 621.83L372.07 622.63L372.87 621.83L373.67 622.63L372.87 623.43L373.67 624.23L372.87 625.03L372.07 624.23L371.27 625.03L370.47 624.23L371.27 623.43L370.47 622.63zM373.32 620.82L374.12 621.62L374.92 620.82L375.72 621.62L374.92 622.42L375.72 623.22L374.92 624.02L374.12 623.22L373.32 624.02L372.52 623.22L373.32 622.42L372.52 621.62zM375.44 619.54L376.24 620.34L377.04 619.54L377.84 620.34L377.04 621.14L377.84 621.94L377.04 622.74L376.24 621.94L375.44 622.74L374.64 621.94L375.44 621.14L374.64 620.34zM377.65 618.02L378.45 618.82L379.25 618.02L380.05 618.82L379.25 619.62L380.05 620.42L379.25 621.22L378.45 620.42L377.65 621.22L376.85 620.42L377.65 619.62L376.85 618.82zM379.98 616.28L380.78 617.08L381.58 616.28L382.38 617.08L381.58 617.88L382.38 618.68L381.58 619.48L380.78 618.68L379.98 619.48L379.18 618.68L379.98 617.88L379.18 617.08zM382.47 614.17L383.27 614.97L384.07 614.17L384.87 614.97L384.07 615.77L384.87 616.57L384.07 617.37L383.27 616.57L382.47 617.37L381.67 616.57L382.47 615.77L381.67 614.97zM385.15 611.54L385.95 612.34L386.75 611.54L387.55 612.34L386.75 613.14L387.55 613.94L386.75 614.74L385.95 613.94L385.15 614.74L384.35 613.94L385.15 613.14L384.35 612.34zM389.38 605.54L390.18 606.34L390.98 605.54L391.78 606.34L390.98 607.14L391.78 607.94L390.98 608.74L390.18 607.94L389.38 608.74L388.58 607.94L389.38 607.14L388.58 606.34zM393.7 601.24L394.5 602.04L395.3 601.24L396.1 602.04L395.3 602.84L396.1 603.64L395.3 604.44L394.5 603.64L393.7 604.44L392.9 603.64L393.7 602.84L392.9 602.04zM398.25 596.94L399.05 597.74L399.85 596.94L400.65 597.74L399.85 598.54L400.65 599.34L399.85 600.14L399.05 599.34L398.25 600.14L397.45 599.34L398.25 598.54L397.45 597.74zM402.79 592.21L403.59 593.01L404.39 592.21L405.19 593.01L404.39 593.81L405.19 594.61L404.39 595.41L403.59 594.61L402.79 595.41L401.99 594.61L402.79 593.81L401.99 593.01zM408.41 587.48L409.21 588.28L410.01 587.48L410.81 588.28L410.01 589.08L410.81 589.88L410.01 590.68L409.21 589.88L408.41 590.68L407.61 589.88L408.41 589.08L407.61 588.28zM414.04 581.63L414.84 582.43L415.64 581.63L416.44 582.43L415.64 583.23L416.44 584.03L415.64 584.83L414.84 584.03L414.04 584.83L413.24 584.03L414.04 583.23L413.24 582.43z" fill="#D31F2C" stroke="#D31F2C" stroke-width="0.6" stroke-linejoin="round"/>
<path d="M245.52 645.54h.01M248.25 641.11h.01M250.85 637.24h.01M253.01 635.09h.01M254.11 633.93h.01M255.13 632.81h.01M256.16 631.82h.01M257.23 630.99h.01M258.32 630.32h.01M259.42 629.74h.01M260.52 629.25h.01M261.59 628.82h.01M262.65 628.46h.01M263.71 628.16h.01M264.78 627.92h.01M265.87 627.73h.01M266.96 627.6h.01M268.06 627.53h.01M269.14 627.55h.01M270.19 627.62h.01M271.21 627.7h.01M272.21 627.76h.01M273.2 627.83h.01M274.2 627.92h.01M275.19 628.03h.01M276.19 628.16h.01M277.18 628.28h.01M278.17 628.42h.01M279.15 628.59h.01M280.13 628.8h.01M281.1 629.06h.01M282.04 629.39h.01M282.96 629.78h.01M283.86 630.21h.01M284.76 630.66h.01M285.65 631.11h.01M286.55 631.55h.01M287.45 631.98h.01M288.34 632.43h.01M289.23 632.88h.01M290.14 633.31h.01M291.07 633.67h.01M292.04 633.92h.01M293.02 634.09h.01M294.02 634.14h.01M295.01 634.01h.01M295.95 633.66h.01M296.84 633.16h.01M297.71 632.57h.01M298.61 631.97h.01M299.53 631.35h.01M300.46 630.66h.01M301.41 629.92h.01M302.37 629.11h.01M303.33 628.21h.01M304.31 627.24h.01M305.33 626.2h.01M306.41 625.11h.01M307.59 623.99h.01M308.87 622.86h.01M310.36 621.63h.01M312.04 620.22h.01M313.86 618.54h.01M315.96 616.41h.01M318.4 613.61h.01M321.72 609.72h.01M325.05 604.99h.01M328.73 600.48h.01M332.41 595.53h.01M337.21 589.94h.01M342.32 582.76h.01M348.2 574.46h.01" fill="none" stroke="#7F7F7F" stroke-width="2.8" stroke-linecap="round"/>
<path d="M246.87 643.29h4.5v4.5h-4.5zM247.1 641.91h4.5v4.5h-4.5zM247.32 640.47h4.5v4.5h-4.5zM247.63 639h4.5v4.5h-4.5zM248.14 637.53h4.5v4.5h-4.5zM248.88 636.07h4.5v4.5h-4.5zM249.83 634.59h4.5v4.5h-4.5zM250.97 633.09h4.5v4.5h-4.5zM252.33 631.58h4.5v4.5h-4.5zM253.92 630.04h4.5v4.5h-4.5zM255.79 628.51h4.5v4.5h-4.5zM257.96 627.06h4.5v4.5h-4.5zM260.38 625.7h4.5v4.5h-4.5zM263 624.37h4.5v4.5h-4.5zM265.77 623.13h4.5v4.5h-4.5zM268.65 621.94h4.5v4.5h-4.5zM271.63 620.82h4.5v4.5h-4.5zM274.65 619.78h4.5v4.5h-4.5zM277.68 618.75h4.5v4.5h-4.5zM280.69 617.65h4.5v4.5h-4.5zM283.7 616.57h4.5v4.5h-4.5zM286.74 615.56h4.5v4.5h-4.5zM289.78 614.65h4.5v4.5h-4.5zM292.77 613.82h4.5v4.5h-4.5zM295.7 613.06h4.5v4.5h-4.5zM298.58 612.32h4.5v4.5h-4.5zM301.41 611.69h4.5v4.5h-4.5zM304.22 611.26h4.5v4.5h-4.5zM306.97 611.06h4.5v4.5h-4.5zM309.58 611.08h4.5v4.5h-4.5zM312.02 611.26h4.5v4.5h-4.5zM314.31 611.58h4.5v4.5h-4.5zM316.45 611.99h4.5v4.5h-4.5zM318.45 612.45h4.5v4.5h-4.5zM320.34 612.96h4.5v4.5h-4.5zM322.13 613.53h4.5v4.5h-4.5zM323.81 614.14h4.5v4.5h-4.5zM325.39 614.83h4.5v4.5h-4.5zM326.88 615.59h4.5v4.5h-4.5zM328.3 616.38h4.5v4.5h-4.5zM329.67 617.16h4.5v4.5h-4.5zM331.01 617.9h4.5v4.5h-4.5zM332.33 618.62h4.5v4.5h-4.5zM333.62 619.33h4.5v4.5h-4.5zM334.89 620.03h4.5v4.5h-4.5zM336.15 620.71h4.5v4.5h-4.5zM337.39 621.39h4.5v4.5h-4.5zM338.59 622.09h4.5v4.5h-4.5zM339.77 622.78h4.5v4.5h-4.5zM340.97 623.39h4.5v4.5h-4.5zM342.2 623.85h4.5v4.5h-4.5zM343.46 624.19h4.5v4.5h-4.5zM344.74 624.42h4.5v4.5h-4.5zM346.03 624.51h4.5v4.5h-4.5zM347.33 624.45h4.5v4.5h-4.5zM348.61 624.19h4.5v4.5h-4.5zM349.89 623.77h4.5v4.5h-4.5zM351.16 623.21h4.5v4.5h-4.5zM352.44 622.52h4.5v4.5h-4.5zM353.7 621.71h4.5v4.5h-4.5zM355.01 620.7h4.5v4.5h-4.5zM356.37 619.48h4.5v4.5h-4.5zM357.79 618.05h4.5v4.5h-4.5zM359.22 616.34h4.5v4.5h-4.5zM360.71 614.28h4.5v4.5h-4.5zM362.39 611.92h4.5v4.5h-4.5zM364.43 609.33h4.5v4.5h-4.5zM369.97 602.87h4.5v4.5h-4.5zM374.08 599.3h4.5v4.5h-4.5zM378.84 595.86h4.5v4.5h-4.5zM384.03 590.7h4.5v4.5h-4.5zM389.22 584.47h4.5v4.5h-4.5z" fill="#D8541A"/>
<path d="M217.5 642.4H508.6" stroke="#808080" stroke-opacity="0.78" stroke-width="1.5" fill="none"/>
</g>
<path d="M219.69 650.4v-2.4M219.69 361.5v2.4M228.35 650.4v-2.4M228.35 361.5v2.4M237 650.4v-4.6M237 361.5v4.6M245.65 650.4v-2.4M245.65 361.5v2.4M254.31 650.4v-2.4M254.31 361.5v2.4M262.96 650.4v-2.4M262.96 361.5v2.4M271.62 650.4v-2.4M271.62 361.5v2.4M280.27 650.4v-4.6M280.27 361.5v4.6M288.92 650.4v-2.4M288.92 361.5v2.4M297.58 650.4v-2.4M297.58 361.5v2.4M306.23 650.4v-2.4M306.23 361.5v2.4M314.89 650.4v-2.4M314.89 361.5v2.4M323.54 650.4v-4.6M323.54 361.5v4.6M332.19 650.4v-2.4M332.19 361.5v2.4M340.85 650.4v-2.4M340.85 361.5v2.4M349.5 650.4v-2.4M349.5 361.5v2.4M358.16 650.4v-2.4M358.16 361.5v2.4M366.81 650.4v-4.6M366.81 361.5v4.6M375.46 650.4v-2.4M375.46 361.5v2.4M384.12 650.4v-2.4M384.12 361.5v2.4M392.77 650.4v-2.4M392.77 361.5v2.4M401.43 650.4v-2.4M401.43 361.5v2.4M410.08 650.4v-4.6M410.08 361.5v4.6M418.73 650.4v-2.4M418.73 361.5v2.4M427.39 650.4v-2.4M427.39 361.5v2.4M436.04 650.4v-2.4M436.04 361.5v2.4M444.7 650.4v-2.4M444.7 361.5v2.4M453.35 650.4v-4.6M453.35 361.5v4.6M462 650.4v-2.4M462 361.5v2.4M470.66 650.4v-2.4M470.66 361.5v2.4M479.31 650.4v-2.4M479.31 361.5v2.4M487.97 650.4v-2.4M487.97 361.5v2.4M496.62 650.4v-4.6M496.62 361.5v4.6M505.27 650.4v-2.4M505.27 361.5v2.4M217.5 642.4h4.6M508.6 642.4h-4.6M217.5 633.8h2.4M508.6 633.8h-2.4M217.5 625.2h2.4M508.6 625.2h-2.4M217.5 616.6h2.4M508.6 616.6h-2.4M217.5 608h2.4M508.6 608h-2.4M217.5 599.4h4.6M508.6 599.4h-4.6M217.5 590.8h2.4M508.6 590.8h-2.4M217.5 582.2h2.4M508.6 582.2h-2.4M217.5 573.6h2.4M508.6 573.6h-2.4M217.5 565h2.4M508.6 565h-2.4M217.5 556.4h4.6M508.6 556.4h-4.6M217.5 547.8h2.4M508.6 547.8h-2.4M217.5 539.2h2.4M508.6 539.2h-2.4M217.5 530.6h2.4M508.6 530.6h-2.4M217.5 522h2.4M508.6 522h-2.4M217.5 513.4h4.6M508.6 513.4h-4.6M217.5 504.8h2.4M508.6 504.8h-2.4M217.5 496.2h2.4M508.6 496.2h-2.4M217.5 487.6h2.4M508.6 487.6h-2.4M217.5 479h2.4M508.6 479h-2.4M217.5 470.4h4.6M508.6 470.4h-4.6M217.5 461.8h2.4M508.6 461.8h-2.4M217.5 453.2h2.4M508.6 453.2h-2.4M217.5 444.6h2.4M508.6 444.6h-2.4M217.5 436h2.4M508.6 436h-2.4M217.5 427.4h4.6M508.6 427.4h-4.6M217.5 418.8h2.4M508.6 418.8h-2.4M217.5 410.2h2.4M508.6 410.2h-2.4M217.5 401.6h2.4M508.6 401.6h-2.4M217.5 393h2.4M508.6 393h-2.4M217.5 384.4h4.6M508.6 384.4h-4.6M217.5 375.8h2.4M508.6 375.8h-2.4M217.5 367.2h2.4M508.6 367.2h-2.4" fill="none" stroke="#000" stroke-width="0.8"/>
<rect x="217.5" y="361.5" width="291.1" height="288.9" fill="none" stroke="#000" stroke-width="0.9"/>
<g font-family="'DejaVu Sans', 'Liberation Sans', sans-serif" font-size="9px" fill="#000"><text x="237" y="664" text-anchor="middle">30</text><text x="280.27" y="664" text-anchor="middle">40</text><text x="323.54" y="664" text-anchor="middle">50</text><text x="366.81" y="664" text-anchor="middle">60</text><text x="410.08" y="664" text-anchor="middle">70</text><text x="453.35" y="664" text-anchor="middle">80</text><text x="496.62" y="664" text-anchor="middle">90</text><text x="211.5" y="645.7" text-anchor="end">0</text><text x="211.5" y="602.7" text-anchor="end">10</text><text x="211.5" y="559.7" text-anchor="end">20</text><text x="211.5" y="516.7" text-anchor="end">30</text><text x="211.5" y="473.7" text-anchor="end">40</text><text x="211.5" y="430.7" text-anchor="end">50</text><text x="211.5" y="387.7" text-anchor="end">60</text></g>
<g transform="translate(362.85 680.9)"><text class="ax" y="0"><tspan x="-30.8" textLength="17.8" lengthAdjust="spacingAndGlyphs">Re(</tspan><tspan x="-10.7" font-style="italic" textLength="6.9" lengthAdjust="spacingAndGlyphs">Z</tspan><tspan x="-2">)</tspan><tspan x="4.9" dy="0.4" class="sans" textLength="26.0" lengthAdjust="spacingAndGlyphs"> [mΩ]</tspan></text></g>
<g transform="translate(191 506.25) rotate(-90)"><text class="ax" y="0"><tspan x="-33.1" textLength="22.4" lengthAdjust="spacingAndGlyphs">-Im(</tspan><tspan x="-8.4" font-style="italic" textLength="6.9" lengthAdjust="spacingAndGlyphs">Z</tspan><tspan x="0.3">)</tspan><tspan x="7.2" dy="0.9" class="sans" textLength="26.0" lengthAdjust="spacingAndGlyphs"> [mΩ]</tspan></text></g>
<text x="346" y="702.1" text-anchor="middle" class="cap" textLength="14.6" lengthAdjust="spacingAndGlyphs">(c)</text>
<rect x="222.2" y="366" width="271.7" height="81.8" rx="2.6" fill="#fff" stroke="#cdcdcd" stroke-width="1.4"/>
<path d="M235.3 371.94L236.03 373.08L237.34 373.42L236.49 374.47L236.56 375.83L235.3 375.33L234.04 375.83L234.11 374.47L233.26 373.42L234.57 373.08z" fill="#FFCB05" stroke="#FFCB05" stroke-width="0.8" stroke-linejoin="round"/>
<path d="M235.3 387.22h.01" fill="none" stroke="#6B6565" stroke-width="4.4" stroke-linecap="round"/>
<path d="M235.3 398.34L237.12 399.39L237.12 401.49L235.3 402.54L233.48 401.49L233.48 399.39z" fill="#32CD32" stroke="#32CD32" stroke-width="0.5" stroke-linejoin="round"/>
<path d="M235.3 413.66h.01" fill="none" stroke="#3E3E3E" stroke-width="4.5" stroke-linecap="round"/>
<path d="M235.3 426.88h.01" fill="none" stroke="#20B2AA" stroke-width="4.4" stroke-linecap="round"/>
<path d="M234.5 438.5L235.3 439.3L236.1 438.5L236.9 439.3L236.1 440.1L236.9 440.9L236.1 441.7L235.3 440.9L234.5 441.7L233.7 440.9L234.5 440.1L233.7 439.3z" fill="#0B4596" stroke="#0B4596" stroke-width="0.6" stroke-linejoin="round"/>
<path d="M379.7 371.9L381.8 376.1L377.6 376.1z" fill="#FF6347" stroke="#FF6347" stroke-width="0.5" stroke-linejoin="round"/>
<path d="M379.7 387.22h.01" fill="none" stroke="#6FA82E" stroke-width="3" stroke-linecap="round"/>
<path d="M379.7 400.44h.01" fill="none" stroke="#1E8A1E" stroke-width="3.1" stroke-linecap="round"/>
<path d="M378.9 412.06L379.7 412.86L380.5 412.06L381.3 412.86L380.5 413.66L381.3 414.46L380.5 415.26L379.7 414.46L378.9 415.26L378.1 414.46L378.9 413.66L378.1 412.86z" fill="#D31F2C" stroke="#D31F2C" stroke-width="0.6" stroke-linejoin="round"/>
<path d="M379.7 426.88h.01" fill="none" stroke="#7F7F7F" stroke-width="2.8" stroke-linecap="round"/>
<path d="M377.45 437.85h4.5v4.5h-4.5z" fill="#D8541A"/>
<g class="lg" transform="scale(1.18 1)"><text x="214.24" y="376.9" textLength="66.02" lengthAdjust="spacing">10 mHz PC-PD</text><text x="214.24" y="390.12" textLength="71.19" lengthAdjust="spacing">320 mHz PC-PD</text><text x="214.24" y="403.34" textLength="71.19" lengthAdjust="spacing">500 mHz PC-PD</text><text x="214.24" y="416.56" textLength="27.71" lengthAdjust="spacing">CC-ref</text><text x="214.24" y="429.78" textLength="83.05" lengthAdjust="spacing">1000 mHz PC-NPD</text><text x="214.24" y="443" textLength="75.17" lengthAdjust="spacing">1000 mHz PC-PD</text><text x="336.44" y="376.9" textLength="78.31" lengthAdjust="spacing">100 mHz PC-NPD</text><text x="336.44" y="390.12" textLength="70.59" lengthAdjust="spacing">100 mHz PC-PD</text><text x="336.44" y="403.34" textLength="42.8" lengthAdjust="spacing">Fresh Cell</text><text x="336.44" y="416.56" textLength="26.27" lengthAdjust="spacing">1C ref</text><text x="336.44" y="429.78" textLength="71.19" lengthAdjust="spacing">50 Hz PC-PD-50</text><text x="336.44" y="443" textLength="71.19" lengthAdjust="spacing">10 Hz PC-PD-50</text></g>
</g>
</svg>
</body>
</html>
